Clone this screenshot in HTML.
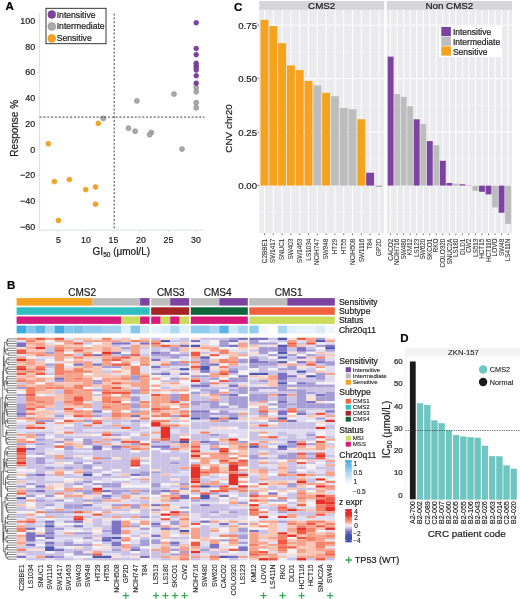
<!DOCTYPE html>
<html><head><meta charset="utf-8"><style>
html,body{margin:0;padding:0;background:#fff;}
body{width:520px;height:599px;overflow:hidden;}
svg{display:block;will-change:transform;filter:blur(0.3px);font-family:"Liberation Sans",sans-serif;}
</style></head><body>
<svg width="520" height="599" viewBox="0 0 520 599">
<text x="5.50" y="10.40" font-size="11.5" text-anchor="start" fill="#000" stroke="#000" stroke-width="0.22" font-weight="bold">A</text>
<line x1="39.60" y1="13.00" x2="39.60" y2="230.20" stroke="#dcdde6" stroke-width="1"/>
<line x1="39.60" y1="230.20" x2="204.50" y2="230.20" stroke="#dcdde6" stroke-width="1"/>
<text x="35.10" y="23.95" font-size="8.9" text-anchor="end" fill="#1e1e1e" stroke="#1e1e1e" stroke-width="0.22">100</text>
<line x1="37.50" y1="20.85" x2="39.60" y2="20.85" stroke="#dcdde6" stroke-width="0.8"/>
<text x="35.10" y="49.70" font-size="8.9" text-anchor="end" fill="#1e1e1e" stroke="#1e1e1e" stroke-width="0.22">80</text>
<line x1="37.50" y1="46.60" x2="39.60" y2="46.60" stroke="#dcdde6" stroke-width="0.8"/>
<text x="35.10" y="75.45" font-size="8.9" text-anchor="end" fill="#1e1e1e" stroke="#1e1e1e" stroke-width="0.22">60</text>
<line x1="37.50" y1="72.35" x2="39.60" y2="72.35" stroke="#dcdde6" stroke-width="0.8"/>
<text x="35.10" y="101.20" font-size="8.9" text-anchor="end" fill="#1e1e1e" stroke="#1e1e1e" stroke-width="0.22">40</text>
<line x1="37.50" y1="98.10" x2="39.60" y2="98.10" stroke="#dcdde6" stroke-width="0.8"/>
<text x="35.10" y="126.95" font-size="8.9" text-anchor="end" fill="#1e1e1e" stroke="#1e1e1e" stroke-width="0.22">20</text>
<line x1="37.50" y1="123.85" x2="39.60" y2="123.85" stroke="#dcdde6" stroke-width="0.8"/>
<text x="35.10" y="152.70" font-size="8.9" text-anchor="end" fill="#1e1e1e" stroke="#1e1e1e" stroke-width="0.22">0</text>
<line x1="37.50" y1="149.60" x2="39.60" y2="149.60" stroke="#dcdde6" stroke-width="0.8"/>
<text x="35.10" y="178.45" font-size="8.9" text-anchor="end" fill="#1e1e1e" stroke="#1e1e1e" stroke-width="0.22">&#8722;20</text>
<line x1="37.50" y1="175.35" x2="39.60" y2="175.35" stroke="#dcdde6" stroke-width="0.8"/>
<text x="35.10" y="204.20" font-size="8.9" text-anchor="end" fill="#1e1e1e" stroke="#1e1e1e" stroke-width="0.22">&#8722;40</text>
<line x1="37.50" y1="201.10" x2="39.60" y2="201.10" stroke="#dcdde6" stroke-width="0.8"/>
<text x="35.10" y="229.95" font-size="8.9" text-anchor="end" fill="#1e1e1e" stroke="#1e1e1e" stroke-width="0.22">&#8722;60</text>
<line x1="37.50" y1="226.85" x2="39.60" y2="226.85" stroke="#dcdde6" stroke-width="0.8"/>
<text x="58.50" y="242.90" font-size="8.8" text-anchor="middle" fill="#1e1e1e" stroke="#1e1e1e" stroke-width="0.22">5</text>
<line x1="58.50" y1="230.20" x2="58.50" y2="232.20" stroke="#dcdde6" stroke-width="0.8"/>
<text x="86.00" y="242.90" font-size="8.8" text-anchor="middle" fill="#1e1e1e" stroke="#1e1e1e" stroke-width="0.22">10</text>
<line x1="86.00" y1="230.20" x2="86.00" y2="232.20" stroke="#dcdde6" stroke-width="0.8"/>
<text x="113.50" y="242.90" font-size="8.8" text-anchor="middle" fill="#1e1e1e" stroke="#1e1e1e" stroke-width="0.22">15</text>
<line x1="113.50" y1="230.20" x2="113.50" y2="232.20" stroke="#dcdde6" stroke-width="0.8"/>
<text x="141.00" y="242.90" font-size="8.8" text-anchor="middle" fill="#1e1e1e" stroke="#1e1e1e" stroke-width="0.22">20</text>
<line x1="141.00" y1="230.20" x2="141.00" y2="232.20" stroke="#dcdde6" stroke-width="0.8"/>
<text x="168.50" y="242.90" font-size="8.8" text-anchor="middle" fill="#1e1e1e" stroke="#1e1e1e" stroke-width="0.22">25</text>
<line x1="168.50" y1="230.20" x2="168.50" y2="232.20" stroke="#dcdde6" stroke-width="0.8"/>
<text x="196.00" y="242.90" font-size="8.8" text-anchor="middle" fill="#1e1e1e" stroke="#1e1e1e" stroke-width="0.22">30</text>
<line x1="196.00" y1="230.20" x2="196.00" y2="232.20" stroke="#dcdde6" stroke-width="0.8"/>
<text x="17.90" y="128.30" font-size="10.0" text-anchor="middle" fill="#1e1e1e" stroke="#1e1e1e" stroke-width="0.22" transform="rotate(-90 17.9 128.3)">Response %</text>
<text x="92.6" y="254.9" font-size="10" fill="#1e1e1e" stroke="#1e1e1e" stroke-width="0.22">GI<tspan font-size="6.5" dy="2">50</tspan><tspan dy="-2"> (μmol/L)</tspan></text>
<circle cx="103.30" cy="118.40" r="2.45" fill="#ababab" stroke="#858585" stroke-width="0.7"/>
<circle cx="128.50" cy="128.20" r="2.45" fill="#ababab" stroke="#858585" stroke-width="0.7"/>
<circle cx="135.10" cy="131.30" r="2.45" fill="#ababab" stroke="#858585" stroke-width="0.7"/>
<circle cx="151.30" cy="132.50" r="2.45" fill="#ababab" stroke="#858585" stroke-width="0.7"/>
<circle cx="149.60" cy="134.70" r="2.45" fill="#ababab" stroke="#858585" stroke-width="0.7"/>
<circle cx="182.00" cy="149.10" r="2.45" fill="#ababab" stroke="#858585" stroke-width="0.7"/>
<circle cx="136.90" cy="100.90" r="2.45" fill="#ababab" stroke="#858585" stroke-width="0.7"/>
<circle cx="174.00" cy="94.10" r="2.45" fill="#ababab" stroke="#858585" stroke-width="0.7"/>
<circle cx="196.20" cy="87.60" r="2.45" fill="#ababab" stroke="#858585" stroke-width="0.7"/>
<circle cx="196.20" cy="91.80" r="2.45" fill="#ababab" stroke="#858585" stroke-width="0.7"/>
<circle cx="196.20" cy="102.70" r="2.45" fill="#ababab" stroke="#858585" stroke-width="0.7"/>
<circle cx="196.20" cy="107.70" r="2.45" fill="#ababab" stroke="#858585" stroke-width="0.7"/>
<circle cx="98.30" cy="123.40" r="2.45" fill="#f6a423" stroke="#d98500" stroke-width="0.5"/>
<circle cx="48.40" cy="143.70" r="2.45" fill="#f6a423" stroke="#d98500" stroke-width="0.5"/>
<circle cx="54.40" cy="181.60" r="2.45" fill="#f6a423" stroke="#d98500" stroke-width="0.5"/>
<circle cx="69.30" cy="179.60" r="2.45" fill="#f6a423" stroke="#d98500" stroke-width="0.5"/>
<circle cx="85.70" cy="189.60" r="2.45" fill="#f6a423" stroke="#d98500" stroke-width="0.5"/>
<circle cx="95.50" cy="187.00" r="2.45" fill="#f6a423" stroke="#d98500" stroke-width="0.5"/>
<circle cx="95.50" cy="204.20" r="2.45" fill="#f6a423" stroke="#d98500" stroke-width="0.5"/>
<circle cx="58.40" cy="220.50" r="2.45" fill="#f6a423" stroke="#d98500" stroke-width="0.5"/>
<circle cx="196.20" cy="22.80" r="2.45" fill="#7d43a0" stroke="#6c3290" stroke-width="0.5"/>
<circle cx="196.20" cy="48.50" r="2.45" fill="#7d43a0" stroke="#6c3290" stroke-width="0.5"/>
<circle cx="196.20" cy="54.70" r="2.45" fill="#7d43a0" stroke="#6c3290" stroke-width="0.5"/>
<circle cx="196.20" cy="63.20" r="2.45" fill="#7d43a0" stroke="#6c3290" stroke-width="0.5"/>
<circle cx="196.20" cy="65.70" r="2.45" fill="#7d43a0" stroke="#6c3290" stroke-width="0.5"/>
<circle cx="196.20" cy="67.80" r="2.45" fill="#7d43a0" stroke="#6c3290" stroke-width="0.5"/>
<circle cx="196.20" cy="70.10" r="2.45" fill="#7d43a0" stroke="#6c3290" stroke-width="0.5"/>
<circle cx="196.20" cy="75.80" r="2.45" fill="#7d43a0" stroke="#6c3290" stroke-width="0.5"/>
<circle cx="196.20" cy="83.20" r="2.45" fill="#7d43a0" stroke="#6c3290" stroke-width="0.5"/>
<line x1="114.2" y1="13.5" x2="114.2" y2="230" stroke="#444" stroke-width="1.0" stroke-dasharray="2.1 1.7"/>
<line x1="39.6" y1="117.1" x2="204.5" y2="117.1" stroke="#444" stroke-width="1.0" stroke-dasharray="2.1 1.7"/>
<rect x="46.00" y="8.30" width="60.00" height="35.40" fill="#fff" stroke="#222" stroke-width="0.9"/>
<circle cx="51.80" cy="14.50" r="3.9" fill="#7d43a0" stroke="#6c3290" stroke-width="0.5"/>
<text x="56.70" y="17.50" font-size="8.65" text-anchor="start" fill="#1e1e1e" stroke="#1e1e1e" stroke-width="0.22">Intensitive</text>
<circle cx="51.80" cy="26.45" r="3.9" fill="#ababab" stroke="#858585" stroke-width="0.5"/>
<text x="56.70" y="29.45" font-size="8.65" text-anchor="start" fill="#1e1e1e" stroke="#1e1e1e" stroke-width="0.22">Intermediate</text>
<circle cx="51.80" cy="38.40" r="3.9" fill="#f6a423" stroke="#d98500" stroke-width="0.5"/>
<text x="56.70" y="41.40" font-size="8.65" text-anchor="start" fill="#1e1e1e" stroke="#1e1e1e" stroke-width="0.22">Sensitive</text>
<text x="234.00" y="10.60" font-size="11.5" text-anchor="start" fill="#000" stroke="#000" stroke-width="0.22" font-weight="bold">C</text>
<rect x="259.20" y="1.00" width="125.00" height="8.90" fill="#d6d6d8"/>
<text x="321.70" y="8.70" font-size="9.8" text-anchor="middle" fill="#1e1e1e" stroke="#1e1e1e" stroke-width="0.22">CMS2</text>
<rect x="259.20" y="9.90" width="125.00" height="223.40" fill="#ebebee"/>
<line x1="259.20" y1="158.86" x2="384.20" y2="158.86" stroke="#f6f6f7" stroke-width="0.5"/>
<line x1="259.20" y1="105.39" x2="384.20" y2="105.39" stroke="#f6f6f7" stroke-width="0.5"/>
<line x1="259.20" y1="51.91" x2="384.20" y2="51.91" stroke="#f6f6f7" stroke-width="0.5"/>
<line x1="259.20" y1="212.34" x2="384.20" y2="212.34" stroke="#f6f6f7" stroke-width="0.5"/>
<line x1="259.20" y1="185.60" x2="384.20" y2="185.60" stroke="#fff" stroke-width="1.0"/>
<line x1="259.20" y1="132.12" x2="384.20" y2="132.12" stroke="#fff" stroke-width="1.0"/>
<line x1="259.20" y1="78.65" x2="384.20" y2="78.65" stroke="#fff" stroke-width="1.0"/>
<line x1="259.20" y1="25.17" x2="384.20" y2="25.17" stroke="#fff" stroke-width="1.0"/>
<line x1="264.48" y1="9.90" x2="264.48" y2="233.30" stroke="#fff" stroke-width="1.0"/>
<line x1="273.28" y1="9.90" x2="273.28" y2="233.30" stroke="#fff" stroke-width="1.0"/>
<line x1="282.09" y1="9.90" x2="282.09" y2="233.30" stroke="#fff" stroke-width="1.0"/>
<line x1="290.89" y1="9.90" x2="290.89" y2="233.30" stroke="#fff" stroke-width="1.0"/>
<line x1="299.69" y1="9.90" x2="299.69" y2="233.30" stroke="#fff" stroke-width="1.0"/>
<line x1="308.50" y1="9.90" x2="308.50" y2="233.30" stroke="#fff" stroke-width="1.0"/>
<line x1="317.30" y1="9.90" x2="317.30" y2="233.30" stroke="#fff" stroke-width="1.0"/>
<line x1="326.10" y1="9.90" x2="326.10" y2="233.30" stroke="#fff" stroke-width="1.0"/>
<line x1="334.90" y1="9.90" x2="334.90" y2="233.30" stroke="#fff" stroke-width="1.0"/>
<line x1="343.71" y1="9.90" x2="343.71" y2="233.30" stroke="#fff" stroke-width="1.0"/>
<line x1="352.51" y1="9.90" x2="352.51" y2="233.30" stroke="#fff" stroke-width="1.0"/>
<line x1="361.31" y1="9.90" x2="361.31" y2="233.30" stroke="#fff" stroke-width="1.0"/>
<line x1="370.12" y1="9.90" x2="370.12" y2="233.30" stroke="#fff" stroke-width="1.0"/>
<line x1="378.92" y1="9.90" x2="378.92" y2="233.30" stroke="#fff" stroke-width="1.0"/>
<rect x="260.52" y="19.83" width="7.92" height="165.77" fill="#f5a21e"/>
<line x1="264.48" y1="233.50" x2="264.48" y2="235.10" stroke="#333" stroke-width="0.7"/>
<text x="266.68" y="238.60" font-size="6.4" text-anchor="end" fill="#333" stroke="#333" stroke-width="0.08" transform="rotate(-90 266.68169014084503 238.6)">C2BBE1</text>
<rect x="269.32" y="26.03" width="7.92" height="159.57" fill="#f5a21e"/>
<line x1="273.28" y1="233.50" x2="273.28" y2="235.10" stroke="#333" stroke-width="0.7"/>
<text x="275.48" y="238.60" font-size="6.4" text-anchor="end" fill="#333" stroke="#333" stroke-width="0.08" transform="rotate(-90 275.4845070422535 238.6)">SW1417</text>
<rect x="278.13" y="43.14" width="7.92" height="142.46" fill="#f5a21e"/>
<line x1="282.09" y1="233.50" x2="282.09" y2="235.10" stroke="#333" stroke-width="0.7"/>
<text x="284.29" y="238.60" font-size="6.4" text-anchor="end" fill="#333" stroke="#333" stroke-width="0.08" transform="rotate(-90 284.28732394366193 238.6)">SNUC1</text>
<rect x="286.93" y="65.39" width="7.92" height="120.21" fill="#f5a21e"/>
<line x1="290.89" y1="233.50" x2="290.89" y2="235.10" stroke="#333" stroke-width="0.7"/>
<text x="293.09" y="238.60" font-size="6.4" text-anchor="end" fill="#333" stroke="#333" stroke-width="0.08" transform="rotate(-90 293.0901408450704 238.6)">SW403</text>
<rect x="295.73" y="70.09" width="7.92" height="115.51" fill="#f5a21e"/>
<line x1="299.69" y1="233.50" x2="299.69" y2="235.10" stroke="#333" stroke-width="0.7"/>
<text x="301.89" y="238.60" font-size="6.4" text-anchor="end" fill="#333" stroke="#333" stroke-width="0.08" transform="rotate(-90 301.8929577464788 238.6)">SW1463</text>
<rect x="304.53" y="81.00" width="7.92" height="104.60" fill="#f5a21e"/>
<line x1="308.50" y1="233.50" x2="308.50" y2="235.10" stroke="#333" stroke-width="0.7"/>
<text x="310.70" y="238.60" font-size="6.4" text-anchor="end" fill="#333" stroke="#333" stroke-width="0.08" transform="rotate(-90 310.6957746478873 238.6)">LS1034</text>
<rect x="313.34" y="85.28" width="7.92" height="100.32" fill="#bdbdbd"/>
<line x1="317.30" y1="233.50" x2="317.30" y2="235.10" stroke="#333" stroke-width="0.7"/>
<text x="319.50" y="238.60" font-size="6.4" text-anchor="end" fill="#333" stroke="#333" stroke-width="0.08" transform="rotate(-90 319.4985915492958 238.6)">NCIH747</text>
<rect x="322.14" y="92.77" width="7.92" height="92.83" fill="#f5a21e"/>
<line x1="326.10" y1="233.50" x2="326.10" y2="235.10" stroke="#333" stroke-width="0.7"/>
<text x="328.30" y="238.60" font-size="6.4" text-anchor="end" fill="#333" stroke="#333" stroke-width="0.08" transform="rotate(-90 328.3014084507042 238.6)">SW948</text>
<rect x="330.94" y="96.19" width="7.92" height="89.41" fill="#bdbdbd"/>
<line x1="334.90" y1="233.50" x2="334.90" y2="235.10" stroke="#333" stroke-width="0.7"/>
<text x="337.10" y="238.60" font-size="6.4" text-anchor="end" fill="#333" stroke="#333" stroke-width="0.08" transform="rotate(-90 337.1042253521127 238.6)">HT29</text>
<rect x="339.75" y="107.95" width="7.92" height="77.65" fill="#bdbdbd"/>
<line x1="343.71" y1="233.50" x2="343.71" y2="235.10" stroke="#333" stroke-width="0.7"/>
<text x="345.91" y="238.60" font-size="6.4" text-anchor="end" fill="#333" stroke="#333" stroke-width="0.08" transform="rotate(-90 345.9070422535211 238.6)">HT55</text>
<rect x="348.55" y="109.24" width="7.92" height="76.36" fill="#bdbdbd"/>
<line x1="352.51" y1="233.50" x2="352.51" y2="235.10" stroke="#333" stroke-width="0.7"/>
<text x="354.71" y="238.60" font-size="6.4" text-anchor="end" fill="#333" stroke="#333" stroke-width="0.08" transform="rotate(-90 354.7098591549296 238.6)">NCIH508</text>
<rect x="357.35" y="119.29" width="7.92" height="66.31" fill="#f5a21e"/>
<line x1="361.31" y1="233.50" x2="361.31" y2="235.10" stroke="#333" stroke-width="0.7"/>
<text x="363.51" y="238.60" font-size="6.4" text-anchor="end" fill="#333" stroke="#333" stroke-width="0.08" transform="rotate(-90 363.512676056338 238.6)">SW1116</text>
<rect x="366.15" y="172.77" width="7.92" height="12.83" fill="#7d43a0"/>
<line x1="370.12" y1="233.50" x2="370.12" y2="235.10" stroke="#333" stroke-width="0.7"/>
<text x="372.32" y="238.60" font-size="6.4" text-anchor="end" fill="#333" stroke="#333" stroke-width="0.08" transform="rotate(-90 372.31549295774647 238.6)">T84</text>
<rect x="374.96" y="185.60" width="7.92" height="0.50" fill="#bdbdbd"/>
<line x1="375.46" y1="186.30" x2="382.38" y2="186.30" stroke="#8a8a8a" stroke-width="0.7"/>
<line x1="378.92" y1="233.50" x2="378.92" y2="235.10" stroke="#333" stroke-width="0.7"/>
<text x="381.12" y="238.60" font-size="6.4" text-anchor="end" fill="#333" stroke="#333" stroke-width="0.08" transform="rotate(-90 381.1183098591549 238.6)">GP2D</text>
<rect x="386.70" y="1.00" width="125.30" height="8.90" fill="#d6d6d8"/>
<text x="449.35" y="8.70" font-size="9.8" text-anchor="middle" fill="#1e1e1e" stroke="#1e1e1e" stroke-width="0.22">Non CMS2</text>
<rect x="386.70" y="9.90" width="125.30" height="223.40" fill="#ebebee"/>
<line x1="386.70" y1="158.86" x2="512.00" y2="158.86" stroke="#f6f6f7" stroke-width="0.5"/>
<line x1="386.70" y1="105.39" x2="512.00" y2="105.39" stroke="#f6f6f7" stroke-width="0.5"/>
<line x1="386.70" y1="51.91" x2="512.00" y2="51.91" stroke="#f6f6f7" stroke-width="0.5"/>
<line x1="386.70" y1="212.34" x2="512.00" y2="212.34" stroke="#f6f6f7" stroke-width="0.5"/>
<line x1="386.70" y1="185.60" x2="512.00" y2="185.60" stroke="#fff" stroke-width="1.0"/>
<line x1="386.70" y1="132.12" x2="512.00" y2="132.12" stroke="#fff" stroke-width="1.0"/>
<line x1="386.70" y1="78.65" x2="512.00" y2="78.65" stroke="#fff" stroke-width="1.0"/>
<line x1="386.70" y1="25.17" x2="512.00" y2="25.17" stroke="#fff" stroke-width="1.0"/>
<line x1="390.62" y1="9.90" x2="390.62" y2="233.30" stroke="#fff" stroke-width="1.0"/>
<line x1="397.14" y1="9.90" x2="397.14" y2="233.30" stroke="#fff" stroke-width="1.0"/>
<line x1="403.67" y1="9.90" x2="403.67" y2="233.30" stroke="#fff" stroke-width="1.0"/>
<line x1="410.19" y1="9.90" x2="410.19" y2="233.30" stroke="#fff" stroke-width="1.0"/>
<line x1="416.72" y1="9.90" x2="416.72" y2="233.30" stroke="#fff" stroke-width="1.0"/>
<line x1="423.25" y1="9.90" x2="423.25" y2="233.30" stroke="#fff" stroke-width="1.0"/>
<line x1="429.77" y1="9.90" x2="429.77" y2="233.30" stroke="#fff" stroke-width="1.0"/>
<line x1="436.30" y1="9.90" x2="436.30" y2="233.30" stroke="#fff" stroke-width="1.0"/>
<line x1="442.82" y1="9.90" x2="442.82" y2="233.30" stroke="#fff" stroke-width="1.0"/>
<line x1="449.35" y1="9.90" x2="449.35" y2="233.30" stroke="#fff" stroke-width="1.0"/>
<line x1="455.88" y1="9.90" x2="455.88" y2="233.30" stroke="#fff" stroke-width="1.0"/>
<line x1="462.40" y1="9.90" x2="462.40" y2="233.30" stroke="#fff" stroke-width="1.0"/>
<line x1="468.93" y1="9.90" x2="468.93" y2="233.30" stroke="#fff" stroke-width="1.0"/>
<line x1="475.45" y1="9.90" x2="475.45" y2="233.30" stroke="#fff" stroke-width="1.0"/>
<line x1="481.98" y1="9.90" x2="481.98" y2="233.30" stroke="#fff" stroke-width="1.0"/>
<line x1="488.51" y1="9.90" x2="488.51" y2="233.30" stroke="#fff" stroke-width="1.0"/>
<line x1="495.03" y1="9.90" x2="495.03" y2="233.30" stroke="#fff" stroke-width="1.0"/>
<line x1="501.56" y1="9.90" x2="501.56" y2="233.30" stroke="#fff" stroke-width="1.0"/>
<line x1="508.08" y1="9.90" x2="508.08" y2="233.30" stroke="#fff" stroke-width="1.0"/>
<rect x="387.68" y="56.62" width="5.87" height="128.98" fill="#7d43a0"/>
<line x1="390.62" y1="233.50" x2="390.62" y2="235.10" stroke="#333" stroke-width="0.7"/>
<text x="392.82" y="238.60" font-size="6.4" text-anchor="end" fill="#333" stroke="#333" stroke-width="0.08" transform="rotate(-90 392.81562499999995 238.6)">CACO2</text>
<rect x="394.20" y="94.05" width="5.87" height="91.55" fill="#bdbdbd"/>
<line x1="397.14" y1="233.50" x2="397.14" y2="235.10" stroke="#333" stroke-width="0.7"/>
<text x="399.34" y="238.60" font-size="6.4" text-anchor="end" fill="#333" stroke="#333" stroke-width="0.08" transform="rotate(-90 399.34166666666664 238.6)">NCIH716</text>
<rect x="400.73" y="96.83" width="5.87" height="88.77" fill="#bdbdbd"/>
<line x1="403.67" y1="233.50" x2="403.67" y2="235.10" stroke="#333" stroke-width="0.7"/>
<text x="405.87" y="238.60" font-size="6.4" text-anchor="end" fill="#333" stroke="#333" stroke-width="0.08" transform="rotate(-90 405.8677083333333 238.6)">SW480</text>
<rect x="407.26" y="106.24" width="5.87" height="79.36" fill="#bdbdbd"/>
<line x1="410.19" y1="233.50" x2="410.19" y2="235.10" stroke="#333" stroke-width="0.7"/>
<text x="412.39" y="238.60" font-size="6.4" text-anchor="end" fill="#333" stroke="#333" stroke-width="0.08" transform="rotate(-90 412.39375 238.6)">KM12</text>
<rect x="413.78" y="119.29" width="5.87" height="66.31" fill="#7d43a0"/>
<line x1="416.72" y1="233.50" x2="416.72" y2="235.10" stroke="#333" stroke-width="0.7"/>
<text x="418.92" y="238.60" font-size="6.4" text-anchor="end" fill="#333" stroke="#333" stroke-width="0.08" transform="rotate(-90 418.91979166666664 238.6)">LS123</text>
<rect x="420.31" y="124.00" width="5.87" height="61.60" fill="#bdbdbd"/>
<line x1="423.25" y1="233.50" x2="423.25" y2="235.10" stroke="#333" stroke-width="0.7"/>
<text x="425.45" y="238.60" font-size="6.4" text-anchor="end" fill="#333" stroke="#333" stroke-width="0.08" transform="rotate(-90 425.4458333333333 238.6)">SW620</text>
<rect x="426.84" y="141.11" width="5.87" height="44.49" fill="#7d43a0"/>
<line x1="429.77" y1="233.50" x2="429.77" y2="235.10" stroke="#333" stroke-width="0.7"/>
<text x="431.97" y="238.60" font-size="6.4" text-anchor="end" fill="#333" stroke="#333" stroke-width="0.08" transform="rotate(-90 431.971875 238.6)">SKCO1</text>
<rect x="433.36" y="145.17" width="5.87" height="40.43" fill="#bdbdbd"/>
<line x1="436.30" y1="233.50" x2="436.30" y2="235.10" stroke="#333" stroke-width="0.7"/>
<text x="438.50" y="238.60" font-size="6.4" text-anchor="end" fill="#333" stroke="#333" stroke-width="0.08" transform="rotate(-90 438.49791666666664 238.6)">RKO</text>
<rect x="439.89" y="160.79" width="5.87" height="24.81" fill="#7d43a0"/>
<line x1="442.82" y1="233.50" x2="442.82" y2="235.10" stroke="#333" stroke-width="0.7"/>
<text x="445.02" y="238.60" font-size="6.4" text-anchor="end" fill="#333" stroke="#333" stroke-width="0.08" transform="rotate(-90 445.0239583333333 238.6)">COLO320</text>
<rect x="446.41" y="183.03" width="5.87" height="2.57" fill="#7d43a0"/>
<line x1="449.35" y1="233.50" x2="449.35" y2="235.10" stroke="#333" stroke-width="0.7"/>
<text x="451.55" y="238.60" font-size="6.4" text-anchor="end" fill="#333" stroke="#333" stroke-width="0.08" transform="rotate(-90 451.55 238.6)">SNUC2A</text>
<rect x="452.94" y="183.67" width="5.87" height="1.93" fill="#bdbdbd"/>
<line x1="455.88" y1="233.50" x2="455.88" y2="235.10" stroke="#333" stroke-width="0.7"/>
<text x="458.08" y="238.60" font-size="6.4" text-anchor="end" fill="#333" stroke="#333" stroke-width="0.08" transform="rotate(-90 458.07604166666664 238.6)">LS180</text>
<rect x="459.47" y="184.32" width="5.87" height="1.28" fill="#7d43a0"/>
<line x1="462.40" y1="233.50" x2="462.40" y2="235.10" stroke="#333" stroke-width="0.7"/>
<text x="464.60" y="238.60" font-size="6.4" text-anchor="end" fill="#333" stroke="#333" stroke-width="0.08" transform="rotate(-90 464.6020833333333 238.6)">DLD1</text>
<rect x="465.99" y="185.17" width="5.87" height="0.50" fill="#b89acb"/>
<line x1="468.93" y1="233.50" x2="468.93" y2="235.10" stroke="#333" stroke-width="0.7"/>
<text x="471.13" y="238.60" font-size="6.4" text-anchor="end" fill="#333" stroke="#333" stroke-width="0.08" transform="rotate(-90 471.128125 238.6)">CW2</text>
<rect x="472.52" y="185.60" width="5.87" height="5.13" fill="#bdbdbd"/>
<line x1="475.45" y1="233.50" x2="475.45" y2="235.10" stroke="#333" stroke-width="0.7"/>
<text x="477.65" y="238.60" font-size="6.4" text-anchor="end" fill="#333" stroke="#333" stroke-width="0.08" transform="rotate(-90 477.65416666666664 238.6)">LS513</text>
<rect x="479.04" y="185.60" width="5.87" height="6.20" fill="#7d43a0"/>
<line x1="481.98" y1="233.50" x2="481.98" y2="235.10" stroke="#333" stroke-width="0.7"/>
<text x="484.18" y="238.60" font-size="6.4" text-anchor="end" fill="#333" stroke="#333" stroke-width="0.08" transform="rotate(-90 484.1802083333333 238.6)">HCT15</text>
<rect x="485.57" y="185.60" width="5.87" height="8.77" fill="#7d43a0"/>
<line x1="488.51" y1="233.50" x2="488.51" y2="235.10" stroke="#333" stroke-width="0.7"/>
<text x="490.71" y="238.60" font-size="6.4" text-anchor="end" fill="#333" stroke="#333" stroke-width="0.08" transform="rotate(-90 490.70625 238.6)">HCT116</text>
<rect x="492.10" y="185.60" width="5.87" height="21.82" fill="#bdbdbd"/>
<line x1="495.03" y1="233.50" x2="495.03" y2="235.10" stroke="#333" stroke-width="0.7"/>
<text x="497.23" y="238.60" font-size="6.4" text-anchor="end" fill="#333" stroke="#333" stroke-width="0.08" transform="rotate(-90 497.23229166666664 238.6)">LOVO</text>
<rect x="498.62" y="185.60" width="5.87" height="27.17" fill="#7d43a0"/>
<line x1="501.56" y1="233.50" x2="501.56" y2="235.10" stroke="#333" stroke-width="0.7"/>
<text x="503.76" y="238.60" font-size="6.4" text-anchor="end" fill="#333" stroke="#333" stroke-width="0.08" transform="rotate(-90 503.7583333333333 238.6)">SW48</text>
<rect x="505.15" y="185.60" width="5.87" height="38.29" fill="#bdbdbd"/>
<line x1="508.08" y1="233.50" x2="508.08" y2="235.10" stroke="#333" stroke-width="0.7"/>
<text x="510.28" y="238.60" font-size="6.4" text-anchor="end" fill="#333" stroke="#333" stroke-width="0.08" transform="rotate(-90 510.284375 238.6)">LS411N</text>
<text x="257.00" y="28.57" font-size="9.6" text-anchor="end" fill="#1e1e1e" stroke="#1e1e1e" stroke-width="0.22">0.75</text>
<line x1="257.50" y1="25.17" x2="259.20" y2="25.17" stroke="#333" stroke-width="0.7"/>
<text x="257.00" y="82.05" font-size="9.6" text-anchor="end" fill="#1e1e1e" stroke="#1e1e1e" stroke-width="0.22">0.50</text>
<line x1="257.50" y1="78.65" x2="259.20" y2="78.65" stroke="#333" stroke-width="0.7"/>
<text x="257.00" y="135.53" font-size="9.6" text-anchor="end" fill="#1e1e1e" stroke="#1e1e1e" stroke-width="0.22">0.25</text>
<line x1="257.50" y1="132.12" x2="259.20" y2="132.12" stroke="#333" stroke-width="0.7"/>
<text x="257.00" y="189.00" font-size="9.6" text-anchor="end" fill="#1e1e1e" stroke="#1e1e1e" stroke-width="0.22">0.00</text>
<line x1="257.50" y1="185.60" x2="259.20" y2="185.60" stroke="#333" stroke-width="0.7"/>
<text x="232.20" y="128.50" font-size="9.9" text-anchor="middle" fill="#1e1e1e" stroke="#1e1e1e" stroke-width="0.22" transform="rotate(-90 232.2 128.5)">CNV chr20</text>
<rect x="439.20" y="25.70" width="61.80" height="31.40" fill="#fff"/>
<rect x="441.30" y="26.90" width="9.60" height="9.20" fill="#7d43a0"/>
<text x="452.90" y="35.00" font-size="8.5" text-anchor="start" fill="#1e1e1e" stroke="#1e1e1e" stroke-width="0.22">Intensitive</text>
<rect x="441.30" y="36.65" width="9.60" height="9.20" fill="#bdbdbd"/>
<text x="452.90" y="44.75" font-size="8.5" text-anchor="start" fill="#1e1e1e" stroke="#1e1e1e" stroke-width="0.22">Intermediate</text>
<rect x="441.30" y="46.40" width="9.60" height="9.20" fill="#f5a21e"/>
<text x="452.90" y="54.50" font-size="8.5" text-anchor="start" fill="#1e1e1e" stroke="#1e1e1e" stroke-width="0.22">Sensitive</text>
<text x="400.30" y="341.60" font-size="11.5" text-anchor="start" fill="#000" stroke="#000" stroke-width="0.22" font-weight="bold">D</text>
<rect x="405.10" y="347.90" width="115.00" height="8.40" fill="#f3f3f4"/>
<line x1="405.60" y1="356.30" x2="405.60" y2="499.50" stroke="#f3f3f3" stroke-width="0.8"/>
<text x="463.50" y="355.20" font-size="7.7" text-anchor="middle" fill="#1e1e1e" stroke="#1e1e1e" stroke-width="0.1">ZKN-157</text>
<text x="402.70" y="364.10" font-size="7.8" text-anchor="end" fill="#1e1e1e" stroke="#1e1e1e" stroke-width="0.22">60</text>
<text x="402.70" y="386.35" font-size="7.8" text-anchor="end" fill="#1e1e1e" stroke="#1e1e1e" stroke-width="0.22">50</text>
<text x="402.70" y="408.60" font-size="7.8" text-anchor="end" fill="#1e1e1e" stroke="#1e1e1e" stroke-width="0.22">40</text>
<text x="402.70" y="430.85" font-size="7.8" text-anchor="end" fill="#1e1e1e" stroke="#1e1e1e" stroke-width="0.22">30</text>
<text x="402.70" y="453.10" font-size="7.8" text-anchor="end" fill="#1e1e1e" stroke="#1e1e1e" stroke-width="0.22">20</text>
<text x="402.70" y="475.35" font-size="7.8" text-anchor="end" fill="#1e1e1e" stroke="#1e1e1e" stroke-width="0.22">10</text>
<text x="402.70" y="497.60" font-size="7.8" text-anchor="end" fill="#1e1e1e" stroke="#1e1e1e" stroke-width="0.22">0</text>
<text x="389.60" y="429.50" font-size="10.0" text-anchor="middle" fill="#1e1e1e" stroke="#1e1e1e" stroke-width="0.22" transform="rotate(-90 389.6 429.5)">IC<tspan font-size="7" dy="2">50</tspan><tspan dy="-2"> (μmol/L)</tspan></text>
<rect x="409.90" y="361.48" width="5.80" height="137.82" fill="#1b1b1b"/>
<text x="415.20" y="501.20" font-size="7.1" text-anchor="end" fill="#222" stroke="#222" stroke-width="0.16" transform="rotate(-90 415.2 501.2)">A2-700</text>
<rect x="417.11" y="403.52" width="5.80" height="95.78" fill="#6ec6c2" stroke="#5fbab6" stroke-width="0.4"/>
<text x="422.41" y="501.20" font-size="7.1" text-anchor="end" fill="#222" stroke="#222" stroke-width="0.16" transform="rotate(-90 422.414 501.2)">B2-002</text>
<rect x="424.33" y="405.12" width="5.80" height="94.18" fill="#6ec6c2" stroke="#5fbab6" stroke-width="0.4"/>
<text x="429.63" y="501.20" font-size="7.1" text-anchor="end" fill="#222" stroke="#222" stroke-width="0.16" transform="rotate(-90 429.628 501.2)">C2-089</text>
<rect x="431.54" y="420.74" width="5.80" height="78.56" fill="#6ec6c2" stroke="#5fbab6" stroke-width="0.4"/>
<text x="436.84" y="501.20" font-size="7.1" text-anchor="end" fill="#222" stroke="#222" stroke-width="0.16" transform="rotate(-90 436.842 501.2)">C2-000</text>
<rect x="438.76" y="423.50" width="5.80" height="75.80" fill="#6ec6c2" stroke="#5fbab6" stroke-width="0.4"/>
<text x="444.06" y="501.20" font-size="7.1" text-anchor="end" fill="#222" stroke="#222" stroke-width="0.16" transform="rotate(-90 444.056 501.2)">B2-007</text>
<rect x="445.97" y="430.39" width="5.80" height="68.91" fill="#6ec6c2" stroke="#5fbab6" stroke-width="0.4"/>
<text x="451.27" y="501.20" font-size="7.1" text-anchor="end" fill="#222" stroke="#222" stroke-width="0.16" transform="rotate(-90 451.27 501.2)">B2-060</text>
<rect x="453.18" y="435.21" width="5.80" height="64.09" fill="#6ec6c2" stroke="#5fbab6" stroke-width="0.4"/>
<text x="458.48" y="501.20" font-size="7.1" text-anchor="end" fill="#222" stroke="#222" stroke-width="0.16" transform="rotate(-90 458.484 501.2)">B2-005</text>
<rect x="460.40" y="436.82" width="5.80" height="62.48" fill="#6ec6c2" stroke="#5fbab6" stroke-width="0.4"/>
<text x="465.70" y="501.20" font-size="7.1" text-anchor="end" fill="#222" stroke="#222" stroke-width="0.16" transform="rotate(-90 465.698 501.2)">B2-055</text>
<rect x="467.61" y="437.51" width="5.80" height="61.79" fill="#6ec6c2" stroke="#5fbab6" stroke-width="0.4"/>
<text x="472.91" y="501.20" font-size="7.1" text-anchor="end" fill="#222" stroke="#222" stroke-width="0.16" transform="rotate(-90 472.912 501.2)">B2-106</text>
<rect x="474.83" y="437.97" width="5.80" height="61.33" fill="#6ec6c2" stroke="#5fbab6" stroke-width="0.4"/>
<text x="480.13" y="501.20" font-size="7.1" text-anchor="end" fill="#222" stroke="#222" stroke-width="0.16" transform="rotate(-90 480.126 501.2)">B2-043</text>
<rect x="482.04" y="446.01" width="5.80" height="53.29" fill="#6ec6c2" stroke="#5fbab6" stroke-width="0.4"/>
<text x="487.34" y="501.20" font-size="7.1" text-anchor="end" fill="#222" stroke="#222" stroke-width="0.16" transform="rotate(-90 487.34 501.2)">B2-026</text>
<rect x="489.25" y="456.35" width="5.80" height="42.95" fill="#6ec6c2" stroke="#5fbab6" stroke-width="0.4"/>
<text x="494.55" y="501.20" font-size="7.1" text-anchor="end" fill="#222" stroke="#222" stroke-width="0.16" transform="rotate(-90 494.554 501.2)">B2-063</text>
<rect x="496.47" y="456.58" width="5.80" height="42.72" fill="#6ec6c2" stroke="#5fbab6" stroke-width="0.4"/>
<text x="501.77" y="501.20" font-size="7.1" text-anchor="end" fill="#222" stroke="#222" stroke-width="0.16" transform="rotate(-90 501.76800000000003 501.2)">B2-014</text>
<rect x="503.68" y="465.76" width="5.80" height="33.54" fill="#6ec6c2" stroke="#5fbab6" stroke-width="0.4"/>
<text x="508.98" y="501.20" font-size="7.1" text-anchor="end" fill="#222" stroke="#222" stroke-width="0.16" transform="rotate(-90 508.98199999999997 501.2)">C2-065</text>
<rect x="510.90" y="468.98" width="5.80" height="30.32" fill="#6ec6c2" stroke="#5fbab6" stroke-width="0.4"/>
<text x="516.20" y="501.20" font-size="7.1" text-anchor="end" fill="#222" stroke="#222" stroke-width="0.16" transform="rotate(-90 516.196 501.2)">B2-020</text>
<line x1="405.5" y1="430.5" x2="520" y2="430.5" stroke="#333" stroke-width="0.7" stroke-dasharray="1.3 1.1"/>
<text x="466.70" y="537.30" font-size="9.9" text-anchor="middle" fill="#1e1e1e" stroke="#1e1e1e" stroke-width="0.22">CRC patient code</text>
<circle cx="483.10" cy="369.50" r="4.2" fill="#6ec6c2" stroke="none" stroke-width="0.6"/>
<circle cx="483.10" cy="382.00" r="4.2" fill="#1b1b1b" stroke="none" stroke-width="0.6"/>
<text x="489.80" y="372.20" font-size="7.3" text-anchor="start" fill="#1e1e1e" stroke="#1e1e1e" stroke-width="0.12">CMS2</text>
<text x="489.80" y="384.70" font-size="7.3" text-anchor="start" fill="#1e1e1e" stroke="#1e1e1e" stroke-width="0.12">Normal</text>
<text x="7.00" y="289.30" font-size="11.5" text-anchor="start" fill="#000" stroke="#000" stroke-width="0.22" font-weight="bold">B</text>
<text x="82.10" y="295.50" font-size="10.0" text-anchor="middle" fill="#1e1e1e" stroke="#1e1e1e" stroke-width="0.22">CMS2</text>
<rect x="16.60" y="298.10" width="76.00" height="7.50" fill="#f5a21e"/>
<rect x="92.60" y="298.10" width="47.50" height="7.50" fill="#bdbdbd"/>
<rect x="140.10" y="298.10" width="9.50" height="7.50" fill="#7d43a0"/>
<rect x="16.60" y="307.30" width="133.00" height="7.50" fill="#2fbfc1"/>
<rect x="16.60" y="316.50" width="104.50" height="7.40" fill="#d71b7b"/>
<rect x="121.10" y="316.50" width="19.00" height="7.40" fill="#c9dc5c"/>
<rect x="140.10" y="316.50" width="9.50" height="7.40" fill="#d71b7b"/>
<rect x="16.60" y="325.60" width="9.50" height="7.80" fill="#3ea9dd"/>
<rect x="26.10" y="325.60" width="9.50" height="7.80" fill="#86c6ea"/>
<rect x="35.60" y="325.60" width="9.50" height="7.80" fill="#5fb5e3"/>
<rect x="45.10" y="325.60" width="9.50" height="7.80" fill="#a9d7f1"/>
<rect x="54.60" y="325.60" width="9.50" height="7.80" fill="#45abdf"/>
<rect x="64.10" y="325.60" width="9.50" height="7.80" fill="#86c6ea"/>
<rect x="73.60" y="325.60" width="9.50" height="7.80" fill="#7fc3e9"/>
<rect x="83.10" y="325.60" width="19.00" height="7.80" fill="#94cdee"/>
<rect x="102.10" y="325.60" width="19.00" height="7.80" fill="#a2d3ef"/>
<rect x="121.10" y="325.60" width="9.50" height="7.80" fill="#dceefa"/>
<rect x="130.60" y="325.60" width="9.50" height="7.80" fill="#86c6ea"/>
<rect x="140.10" y="325.60" width="9.50" height="7.80" fill="#d3e9f7"/>
<text x="23.75" y="564.40" font-size="6.9" text-anchor="end" fill="#2a2a2a" stroke="#2a2a2a" stroke-width="0.12" transform="rotate(-90 23.75 564.4)">C2BBE1</text>
<text x="33.25" y="564.40" font-size="6.9" text-anchor="end" fill="#2a2a2a" stroke="#2a2a2a" stroke-width="0.12" transform="rotate(-90 33.25 564.4)">LS1034</text>
<text x="42.75" y="564.40" font-size="6.9" text-anchor="end" fill="#2a2a2a" stroke="#2a2a2a" stroke-width="0.12" transform="rotate(-90 42.75 564.4)">SNUC1</text>
<text x="52.25" y="564.40" font-size="6.9" text-anchor="end" fill="#2a2a2a" stroke="#2a2a2a" stroke-width="0.12" transform="rotate(-90 52.25 564.4)">SW1116</text>
<text x="61.75" y="564.40" font-size="6.9" text-anchor="end" fill="#2a2a2a" stroke="#2a2a2a" stroke-width="0.12" transform="rotate(-90 61.75 564.4)">SW1417</text>
<text x="71.25" y="564.40" font-size="6.9" text-anchor="end" fill="#2a2a2a" stroke="#2a2a2a" stroke-width="0.12" transform="rotate(-90 71.25 564.4)">SW1463</text>
<text x="80.75" y="564.40" font-size="6.9" text-anchor="end" fill="#2a2a2a" stroke="#2a2a2a" stroke-width="0.12" transform="rotate(-90 80.75 564.4)">SW403</text>
<text x="90.25" y="564.40" font-size="6.9" text-anchor="end" fill="#2a2a2a" stroke="#2a2a2a" stroke-width="0.12" transform="rotate(-90 90.25 564.4)">SW948</text>
<text x="99.75" y="564.40" font-size="6.9" text-anchor="end" fill="#2a2a2a" stroke="#2a2a2a" stroke-width="0.12" transform="rotate(-90 99.75 564.4)">HT29</text>
<text x="109.25" y="564.40" font-size="6.9" text-anchor="end" fill="#2a2a2a" stroke="#2a2a2a" stroke-width="0.12" transform="rotate(-90 109.25 564.4)">HT55</text>
<text x="118.75" y="564.40" font-size="6.9" text-anchor="end" fill="#2a2a2a" stroke="#2a2a2a" stroke-width="0.12" transform="rotate(-90 118.75 564.4)">NCIH508</text>
<text x="128.25" y="564.40" font-size="6.9" text-anchor="end" fill="#2a2a2a" stroke="#2a2a2a" stroke-width="0.12" transform="rotate(-90 128.25 564.4)">GP2D</text>
<path d="M122.75 595.6h6.2M125.85 592.5v6.2" stroke="#34a853" stroke-width="1.25" fill="none"/>
<text x="137.75" y="564.40" font-size="6.9" text-anchor="end" fill="#2a2a2a" stroke="#2a2a2a" stroke-width="0.12" transform="rotate(-90 137.75 564.4)">NCIH747</text>
<text x="147.25" y="564.40" font-size="6.9" text-anchor="end" fill="#2a2a2a" stroke="#2a2a2a" stroke-width="0.12" transform="rotate(-90 147.25 564.4)">T84</text>
<text x="170.80" y="295.50" font-size="10.0" text-anchor="middle" fill="#1e1e1e" stroke="#1e1e1e" stroke-width="0.22">CMS3</text>
<rect x="151.20" y="298.10" width="19.00" height="7.50" fill="#bdbdbd"/>
<rect x="170.20" y="298.10" width="19.00" height="7.50" fill="#7d43a0"/>
<rect x="151.20" y="307.30" width="38.00" height="7.50" fill="#a52424"/>
<rect x="151.20" y="316.50" width="9.50" height="7.40" fill="#d71b7b"/>
<rect x="160.70" y="316.50" width="9.50" height="7.40" fill="#c9dc5c"/>
<rect x="170.20" y="316.50" width="9.50" height="7.40" fill="#d71b7b"/>
<rect x="179.70" y="316.50" width="9.50" height="7.40" fill="#c9dc5c"/>
<rect x="151.20" y="325.60" width="9.50" height="7.80" fill="#e3f1fb"/>
<rect x="160.70" y="325.60" width="9.50" height="7.80" fill="#d9ecf8"/>
<rect x="170.20" y="325.60" width="9.50" height="7.80" fill="#aed8f2"/>
<rect x="179.70" y="325.60" width="9.50" height="7.80" fill="#dfeffa"/>
<text x="158.35" y="564.40" font-size="6.9" text-anchor="end" fill="#2a2a2a" stroke="#2a2a2a" stroke-width="0.12" transform="rotate(-90 158.35 564.4)">LS513</text>
<path d="M152.85 595.6h6.2M155.95 592.5v6.2" stroke="#34a853" stroke-width="1.25" fill="none"/>
<text x="167.85" y="564.40" font-size="6.9" text-anchor="end" fill="#2a2a2a" stroke="#2a2a2a" stroke-width="0.12" transform="rotate(-90 167.85 564.4)">LS180</text>
<path d="M162.35 595.6h6.2M165.45 592.5v6.2" stroke="#34a853" stroke-width="1.25" fill="none"/>
<text x="177.35" y="564.40" font-size="6.9" text-anchor="end" fill="#2a2a2a" stroke="#2a2a2a" stroke-width="0.12" transform="rotate(-90 177.35 564.4)">SKCO1</text>
<path d="M171.85 595.6h6.2M174.95 592.5v6.2" stroke="#34a853" stroke-width="1.25" fill="none"/>
<text x="186.85" y="564.40" font-size="6.9" text-anchor="end" fill="#2a2a2a" stroke="#2a2a2a" stroke-width="0.12" transform="rotate(-90 186.85 564.4)">CW2</text>
<path d="M181.35 595.6h6.2M184.45 592.5v6.2" stroke="#34a853" stroke-width="1.25" fill="none"/>
<text x="217.60" y="295.50" font-size="10.0" text-anchor="middle" fill="#1e1e1e" stroke="#1e1e1e" stroke-width="0.22">CMS4</text>
<rect x="190.80" y="298.10" width="28.50" height="7.50" fill="#bdbdbd"/>
<rect x="219.30" y="298.10" width="28.50" height="7.50" fill="#7d43a0"/>
<rect x="190.80" y="307.30" width="57.00" height="7.50" fill="#0d6539"/>
<rect x="190.80" y="316.50" width="57.00" height="7.40" fill="#d71b7b"/>
<rect x="190.80" y="325.60" width="19.00" height="7.80" fill="#8ecbee"/>
<rect x="209.80" y="325.60" width="9.50" height="7.80" fill="#aad6f1"/>
<rect x="219.30" y="325.60" width="9.50" height="7.80" fill="#5ab3e3"/>
<rect x="228.80" y="325.60" width="9.50" height="7.80" fill="#cfe7f7"/>
<rect x="238.30" y="325.60" width="9.50" height="7.80" fill="#a2d3ef"/>
<text x="197.95" y="564.40" font-size="6.9" text-anchor="end" fill="#2a2a2a" stroke="#2a2a2a" stroke-width="0.12" transform="rotate(-90 197.95000000000002 564.4)">NCIH716</text>
<text x="207.45" y="564.40" font-size="6.9" text-anchor="end" fill="#2a2a2a" stroke="#2a2a2a" stroke-width="0.12" transform="rotate(-90 207.45000000000002 564.4)">SW480</text>
<text x="216.95" y="564.40" font-size="6.9" text-anchor="end" fill="#2a2a2a" stroke="#2a2a2a" stroke-width="0.12" transform="rotate(-90 216.95000000000002 564.4)">SW620</text>
<text x="226.45" y="564.40" font-size="6.9" text-anchor="end" fill="#2a2a2a" stroke="#2a2a2a" stroke-width="0.12" transform="rotate(-90 226.45000000000002 564.4)">CACO2</text>
<text x="235.95" y="564.40" font-size="6.9" text-anchor="end" fill="#2a2a2a" stroke="#2a2a2a" stroke-width="0.12" transform="rotate(-90 235.95000000000002 564.4)">COLO320</text>
<text x="245.45" y="564.40" font-size="6.9" text-anchor="end" fill="#2a2a2a" stroke="#2a2a2a" stroke-width="0.12" transform="rotate(-90 245.45000000000002 564.4)">LS123</text>
<text x="288.70" y="295.50" font-size="10.0" text-anchor="middle" fill="#1e1e1e" stroke="#1e1e1e" stroke-width="0.22">CMS1</text>
<rect x="249.30" y="298.10" width="38.00" height="7.50" fill="#bdbdbd"/>
<rect x="287.30" y="298.10" width="47.50" height="7.50" fill="#7d43a0"/>
<rect x="249.30" y="307.30" width="85.50" height="7.50" fill="#f0623f"/>
<rect x="249.30" y="316.50" width="85.50" height="7.40" fill="#c9dc5c"/>
<rect x="249.30" y="325.60" width="9.50" height="7.80" fill="#90cced"/>
<rect x="258.80" y="325.60" width="9.50" height="7.80" fill="#f3f8fc"/>
<rect x="268.30" y="325.60" width="9.50" height="7.80" fill="#ffffff"/>
<rect x="277.80" y="325.60" width="9.50" height="7.80" fill="#acd7f1"/>
<rect x="287.30" y="325.60" width="9.50" height="7.80" fill="#e0effa"/>
<rect x="296.80" y="325.60" width="19.00" height="7.80" fill="#e8f3fb"/>
<rect x="315.80" y="325.60" width="9.50" height="7.80" fill="#d9ecf8"/>
<rect x="325.30" y="325.60" width="9.50" height="7.80" fill="#f1f7fc"/>
<text x="256.45" y="564.40" font-size="6.9" text-anchor="end" fill="#2a2a2a" stroke="#2a2a2a" stroke-width="0.12" transform="rotate(-90 256.45 564.4)">KM12</text>
<text x="265.95" y="564.40" font-size="6.9" text-anchor="end" fill="#2a2a2a" stroke="#2a2a2a" stroke-width="0.12" transform="rotate(-90 265.95 564.4)">LOVO</text>
<path d="M260.45 595.6h6.2M263.55 592.5v6.2" stroke="#34a853" stroke-width="1.25" fill="none"/>
<text x="275.45" y="564.40" font-size="6.9" text-anchor="end" fill="#2a2a2a" stroke="#2a2a2a" stroke-width="0.12" transform="rotate(-90 275.45 564.4)">LS411N</text>
<text x="284.95" y="564.40" font-size="6.9" text-anchor="end" fill="#2a2a2a" stroke="#2a2a2a" stroke-width="0.12" transform="rotate(-90 284.95 564.4)">RKO</text>
<path d="M279.45 595.6h6.2M282.55 592.5v6.2" stroke="#34a853" stroke-width="1.25" fill="none"/>
<text x="294.45" y="564.40" font-size="6.9" text-anchor="end" fill="#2a2a2a" stroke="#2a2a2a" stroke-width="0.12" transform="rotate(-90 294.45 564.4)">DLD1</text>
<text x="303.95" y="564.40" font-size="6.9" text-anchor="end" fill="#2a2a2a" stroke="#2a2a2a" stroke-width="0.12" transform="rotate(-90 303.95 564.4)">HCT116</text>
<path d="M298.45 595.6h6.2M301.55 592.5v6.2" stroke="#34a853" stroke-width="1.25" fill="none"/>
<text x="313.45" y="564.40" font-size="6.9" text-anchor="end" fill="#2a2a2a" stroke="#2a2a2a" stroke-width="0.12" transform="rotate(-90 313.45 564.4)">HCT15</text>
<text x="322.95" y="564.40" font-size="6.9" text-anchor="end" fill="#2a2a2a" stroke="#2a2a2a" stroke-width="0.12" transform="rotate(-90 322.95 564.4)">SNUC2A</text>
<text x="332.45" y="564.40" font-size="6.9" text-anchor="end" fill="#2a2a2a" stroke="#2a2a2a" stroke-width="0.12" transform="rotate(-90 332.45 564.4)">SW48</text>
<path d="M326.95 595.6h6.2M330.05 592.5v6.2" stroke="#34a853" stroke-width="1.25" fill="none"/>
<text x="338.90" y="304.85" font-size="8.6" text-anchor="start" fill="#1e1e1e" stroke="#1e1e1e" stroke-width="0.22">Sensitivity</text>
<text x="338.90" y="314.05" font-size="8.6" text-anchor="start" fill="#1e1e1e" stroke="#1e1e1e" stroke-width="0.22">Subtype</text>
<text x="338.90" y="323.20" font-size="8.6" text-anchor="start" fill="#1e1e1e" stroke="#1e1e1e" stroke-width="0.22">Status</text>
<text x="338.90" y="332.50" font-size="8.6" text-anchor="start" fill="#1e1e1e" stroke="#1e1e1e" stroke-width="0.22">Chr20q11</text>
<rect x="16.60" y="337.70" width="9.52" height="2.36" fill="#f28268"/>
<rect x="16.60" y="340.04" width="9.52" height="2.36" fill="#e1ddf0"/>
<rect x="16.60" y="342.39" width="9.52" height="4.71" fill="#7e73c2"/>
<rect x="16.60" y="347.08" width="9.52" height="2.36" fill="#fadfd5"/>
<rect x="16.60" y="349.42" width="9.52" height="4.71" fill="#ee5a43"/>
<rect x="16.60" y="354.11" width="9.52" height="2.36" fill="#e1ddf0"/>
<rect x="16.60" y="356.45" width="9.52" height="2.36" fill="#f5a38c"/>
<rect x="16.60" y="358.80" width="9.52" height="2.36" fill="#e6312a"/>
<rect x="16.60" y="361.14" width="9.52" height="2.36" fill="#f5a38c"/>
<rect x="16.60" y="363.49" width="9.52" height="2.36" fill="#f8c5b5"/>
<rect x="16.60" y="365.83" width="9.52" height="2.36" fill="#ee5a43"/>
<rect x="16.60" y="368.17" width="9.52" height="2.36" fill="#e6312a"/>
<rect x="16.60" y="370.52" width="9.52" height="2.36" fill="#f5a38c"/>
<rect x="16.60" y="372.86" width="9.52" height="2.36" fill="#ee5a43"/>
<rect x="16.60" y="375.21" width="9.52" height="2.36" fill="#f8c5b5"/>
<rect x="16.60" y="377.55" width="9.52" height="2.36" fill="#f5a38c"/>
<rect x="16.60" y="379.90" width="9.52" height="2.36" fill="#f28268"/>
<rect x="16.60" y="382.24" width="9.52" height="2.36" fill="#cac3e5"/>
<rect x="16.60" y="384.58" width="9.52" height="2.36" fill="#f5a38c"/>
<rect x="16.60" y="386.93" width="9.52" height="2.36" fill="#a79dd5"/>
<rect x="16.60" y="389.27" width="9.52" height="2.36" fill="#fadfd5"/>
<rect x="16.60" y="391.62" width="9.52" height="2.36" fill="#f5f2f6"/>
<rect x="16.60" y="393.96" width="9.52" height="2.36" fill="#a79dd5"/>
<rect x="16.60" y="396.31" width="9.52" height="7.05" fill="#cac3e5"/>
<rect x="16.60" y="403.34" width="9.52" height="9.40" fill="#a79dd5"/>
<rect x="16.60" y="412.71" width="9.52" height="2.36" fill="#7e73c2"/>
<rect x="16.60" y="415.06" width="9.52" height="2.36" fill="#a79dd5"/>
<rect x="16.60" y="417.40" width="9.52" height="2.36" fill="#f5a38c"/>
<rect x="16.60" y="419.75" width="9.52" height="2.36" fill="#f5f2f6"/>
<rect x="16.60" y="422.09" width="9.52" height="2.36" fill="#e1ddf0"/>
<rect x="16.60" y="424.44" width="9.52" height="4.71" fill="#cac3e5"/>
<rect x="16.60" y="429.12" width="9.52" height="4.71" fill="#e1ddf0"/>
<rect x="16.60" y="433.81" width="9.52" height="2.36" fill="#f5a38c"/>
<rect x="16.60" y="436.16" width="9.52" height="2.36" fill="#e1ddf0"/>
<rect x="16.60" y="438.50" width="9.52" height="4.71" fill="#f5a38c"/>
<rect x="16.60" y="443.19" width="9.52" height="2.36" fill="#a79dd5"/>
<rect x="16.60" y="445.53" width="9.52" height="2.36" fill="#f5a38c"/>
<rect x="16.60" y="447.88" width="9.52" height="4.71" fill="#e6312a"/>
<rect x="16.60" y="452.57" width="9.52" height="2.36" fill="#ee5a43"/>
<rect x="16.60" y="454.91" width="9.52" height="2.36" fill="#f28268"/>
<rect x="16.60" y="457.25" width="9.52" height="2.36" fill="#ee5a43"/>
<rect x="16.60" y="459.60" width="9.52" height="2.36" fill="#f28268"/>
<rect x="16.60" y="461.94" width="9.52" height="2.36" fill="#e6312a"/>
<rect x="16.60" y="464.29" width="9.52" height="2.36" fill="#f28268"/>
<rect x="16.60" y="466.63" width="9.52" height="2.36" fill="#e1ddf0"/>
<rect x="16.60" y="468.98" width="9.52" height="2.36" fill="#f5f2f6"/>
<rect x="16.60" y="471.32" width="9.52" height="2.36" fill="#e1ddf0"/>
<rect x="16.60" y="473.66" width="9.52" height="2.36" fill="#f8c5b5"/>
<rect x="16.60" y="476.01" width="9.52" height="2.36" fill="#f5f2f6"/>
<rect x="16.60" y="478.35" width="9.52" height="2.36" fill="#cac3e5"/>
<rect x="16.60" y="480.70" width="9.52" height="2.36" fill="#f8c5b5"/>
<rect x="16.60" y="483.04" width="9.52" height="2.36" fill="#e1ddf0"/>
<rect x="16.60" y="485.39" width="9.52" height="2.36" fill="#a79dd5"/>
<rect x="16.60" y="487.73" width="9.52" height="2.36" fill="#f8c5b5"/>
<rect x="16.60" y="490.07" width="9.52" height="2.36" fill="#f5a38c"/>
<rect x="16.60" y="492.42" width="9.52" height="2.36" fill="#ee5a43"/>
<rect x="16.60" y="494.76" width="9.52" height="2.36" fill="#fadfd5"/>
<rect x="16.60" y="497.11" width="9.52" height="2.36" fill="#4f59b0"/>
<rect x="16.60" y="499.45" width="9.52" height="4.71" fill="#cac3e5"/>
<rect x="16.60" y="504.14" width="9.52" height="2.36" fill="#f8c5b5"/>
<rect x="16.60" y="506.48" width="9.52" height="4.71" fill="#cac3e5"/>
<rect x="16.60" y="511.17" width="9.52" height="2.36" fill="#f5f2f6"/>
<rect x="16.60" y="513.52" width="9.52" height="4.71" fill="#cac3e5"/>
<rect x="16.60" y="518.20" width="9.52" height="2.36" fill="#e1ddf0"/>
<rect x="16.60" y="520.55" width="9.52" height="2.36" fill="#f28268"/>
<rect x="16.60" y="522.89" width="9.52" height="2.36" fill="#e1ddf0"/>
<rect x="16.60" y="525.24" width="9.52" height="2.36" fill="#f5a38c"/>
<rect x="16.60" y="527.58" width="9.52" height="4.71" fill="#f28268"/>
<rect x="16.60" y="532.27" width="9.52" height="2.36" fill="#f5f2f6"/>
<rect x="16.60" y="534.61" width="9.52" height="2.36" fill="#f5a38c"/>
<rect x="16.60" y="536.96" width="9.52" height="4.71" fill="#f8c5b5"/>
<rect x="16.60" y="541.65" width="9.52" height="2.36" fill="#f5a38c"/>
<rect x="16.60" y="543.99" width="9.52" height="2.36" fill="#f8c5b5"/>
<rect x="16.60" y="546.33" width="9.52" height="2.36" fill="#cac3e5"/>
<rect x="16.60" y="548.68" width="9.52" height="2.36" fill="#f28268"/>
<rect x="16.60" y="551.02" width="9.52" height="2.36" fill="#cac3e5"/>
<rect x="16.60" y="553.37" width="9.52" height="2.36" fill="#fadfd5"/>
<rect x="16.60" y="555.71" width="9.52" height="2.36" fill="#7e73c2"/>
<rect x="16.60" y="558.06" width="9.52" height="2.36" fill="#f5f2f6"/>
<rect x="26.10" y="337.70" width="9.52" height="2.36" fill="#f5a38c"/>
<rect x="26.10" y="340.04" width="9.52" height="2.36" fill="#f28268"/>
<rect x="26.10" y="342.39" width="9.52" height="2.36" fill="#f5a38c"/>
<rect x="26.10" y="344.73" width="9.52" height="2.36" fill="#f8c5b5"/>
<rect x="26.10" y="347.08" width="9.52" height="2.36" fill="#f5a38c"/>
<rect x="26.10" y="349.42" width="9.52" height="2.36" fill="#f8c5b5"/>
<rect x="26.10" y="351.77" width="9.52" height="2.36" fill="#f5a38c"/>
<rect x="26.10" y="354.11" width="9.52" height="2.36" fill="#f8c5b5"/>
<rect x="26.10" y="356.45" width="9.52" height="2.36" fill="#f5f2f6"/>
<rect x="26.10" y="358.80" width="9.52" height="7.05" fill="#f5a38c"/>
<rect x="26.10" y="365.83" width="9.52" height="2.36" fill="#f8c5b5"/>
<rect x="26.10" y="368.17" width="9.52" height="2.36" fill="#f5a38c"/>
<rect x="26.10" y="370.52" width="9.52" height="2.36" fill="#f28268"/>
<rect x="26.10" y="372.86" width="9.52" height="2.36" fill="#f8c5b5"/>
<rect x="26.10" y="375.21" width="9.52" height="2.36" fill="#f5a38c"/>
<rect x="26.10" y="377.55" width="9.52" height="2.36" fill="#f8c5b5"/>
<rect x="26.10" y="379.90" width="9.52" height="4.71" fill="#f5a38c"/>
<rect x="26.10" y="384.58" width="9.52" height="2.36" fill="#f8c5b5"/>
<rect x="26.10" y="386.93" width="9.52" height="7.05" fill="#f28268"/>
<rect x="26.10" y="393.96" width="9.52" height="2.36" fill="#ee5a43"/>
<rect x="26.10" y="396.31" width="9.52" height="4.71" fill="#f28268"/>
<rect x="26.10" y="400.99" width="9.52" height="2.36" fill="#f5a38c"/>
<rect x="26.10" y="403.34" width="9.52" height="2.36" fill="#f28268"/>
<rect x="26.10" y="405.68" width="9.52" height="2.36" fill="#f5a38c"/>
<rect x="26.10" y="408.03" width="9.52" height="2.36" fill="#ee5a43"/>
<rect x="26.10" y="410.37" width="9.52" height="2.36" fill="#f8c5b5"/>
<rect x="26.10" y="412.71" width="9.52" height="2.36" fill="#f28268"/>
<rect x="26.10" y="415.06" width="9.52" height="2.36" fill="#e1ddf0"/>
<rect x="26.10" y="417.40" width="9.52" height="2.36" fill="#f28268"/>
<rect x="26.10" y="419.75" width="9.52" height="2.36" fill="#f8c5b5"/>
<rect x="26.10" y="422.09" width="9.52" height="2.36" fill="#e1ddf0"/>
<rect x="26.10" y="424.44" width="9.52" height="2.36" fill="#f5a38c"/>
<rect x="26.10" y="426.78" width="9.52" height="2.36" fill="#ee5a43"/>
<rect x="26.10" y="429.12" width="9.52" height="2.36" fill="#e1ddf0"/>
<rect x="26.10" y="431.47" width="9.52" height="2.36" fill="#cac3e5"/>
<rect x="26.10" y="433.81" width="9.52" height="4.71" fill="#f5a38c"/>
<rect x="26.10" y="438.50" width="9.52" height="2.36" fill="#f5f2f6"/>
<rect x="26.10" y="440.85" width="9.52" height="2.36" fill="#f28268"/>
<rect x="26.10" y="443.19" width="9.52" height="2.36" fill="#cac3e5"/>
<rect x="26.10" y="445.53" width="9.52" height="2.36" fill="#f5f2f6"/>
<rect x="26.10" y="447.88" width="9.52" height="2.36" fill="#7e73c2"/>
<rect x="26.10" y="450.22" width="9.52" height="4.71" fill="#cac3e5"/>
<rect x="26.10" y="454.91" width="9.52" height="2.36" fill="#f5f2f6"/>
<rect x="26.10" y="457.25" width="9.52" height="11.74" fill="#cac3e5"/>
<rect x="26.10" y="468.98" width="9.52" height="2.36" fill="#f5f2f6"/>
<rect x="26.10" y="471.32" width="9.52" height="2.36" fill="#e1ddf0"/>
<rect x="26.10" y="473.66" width="9.52" height="2.36" fill="#a79dd5"/>
<rect x="26.10" y="476.01" width="9.52" height="4.71" fill="#cac3e5"/>
<rect x="26.10" y="480.70" width="9.52" height="2.36" fill="#e1ddf0"/>
<rect x="26.10" y="483.04" width="9.52" height="2.36" fill="#a79dd5"/>
<rect x="26.10" y="485.39" width="9.52" height="2.36" fill="#f5f2f6"/>
<rect x="26.10" y="487.73" width="9.52" height="2.36" fill="#cac3e5"/>
<rect x="26.10" y="490.07" width="9.52" height="2.36" fill="#a79dd5"/>
<rect x="26.10" y="492.42" width="9.52" height="2.36" fill="#cac3e5"/>
<rect x="26.10" y="494.76" width="9.52" height="2.36" fill="#a79dd5"/>
<rect x="26.10" y="497.11" width="9.52" height="2.36" fill="#f5f2f6"/>
<rect x="26.10" y="499.45" width="9.52" height="2.36" fill="#f5a38c"/>
<rect x="26.10" y="501.79" width="9.52" height="4.71" fill="#f5f2f6"/>
<rect x="26.10" y="506.48" width="9.52" height="2.36" fill="#fadfd5"/>
<rect x="26.10" y="508.83" width="9.52" height="2.36" fill="#cac3e5"/>
<rect x="26.10" y="511.17" width="9.52" height="2.36" fill="#f5f2f6"/>
<rect x="26.10" y="513.52" width="9.52" height="2.36" fill="#f5a38c"/>
<rect x="26.10" y="515.86" width="9.52" height="2.36" fill="#e1ddf0"/>
<rect x="26.10" y="518.20" width="9.52" height="2.36" fill="#f5a38c"/>
<rect x="26.10" y="520.55" width="9.52" height="2.36" fill="#ee5a43"/>
<rect x="26.10" y="522.89" width="9.52" height="4.71" fill="#cac3e5"/>
<rect x="26.10" y="527.58" width="9.52" height="2.36" fill="#7e73c2"/>
<rect x="26.10" y="529.93" width="9.52" height="2.36" fill="#fadfd5"/>
<rect x="26.10" y="532.27" width="9.52" height="9.40" fill="#7e73c2"/>
<rect x="26.10" y="541.65" width="9.52" height="2.36" fill="#cac3e5"/>
<rect x="26.10" y="543.99" width="9.52" height="2.36" fill="#7e73c2"/>
<rect x="26.10" y="546.33" width="9.52" height="2.36" fill="#cac3e5"/>
<rect x="26.10" y="548.68" width="9.52" height="2.36" fill="#fadfd5"/>
<rect x="26.10" y="551.02" width="9.52" height="4.71" fill="#cac3e5"/>
<rect x="26.10" y="555.71" width="9.52" height="2.36" fill="#e1ddf0"/>
<rect x="26.10" y="558.06" width="9.52" height="2.36" fill="#cac3e5"/>
<rect x="35.60" y="337.70" width="9.52" height="2.36" fill="#ee5a43"/>
<rect x="35.60" y="340.04" width="9.52" height="2.36" fill="#f8c5b5"/>
<rect x="35.60" y="342.39" width="9.52" height="4.71" fill="#f5a38c"/>
<rect x="35.60" y="347.08" width="9.52" height="2.36" fill="#e6312a"/>
<rect x="35.60" y="349.42" width="9.52" height="2.36" fill="#f8c5b5"/>
<rect x="35.60" y="351.77" width="9.52" height="2.36" fill="#f5a38c"/>
<rect x="35.60" y="354.11" width="9.52" height="2.36" fill="#f28268"/>
<rect x="35.60" y="356.45" width="9.52" height="2.36" fill="#e1ddf0"/>
<rect x="35.60" y="358.80" width="9.52" height="2.36" fill="#cac3e5"/>
<rect x="35.60" y="361.14" width="9.52" height="4.71" fill="#f8c5b5"/>
<rect x="35.60" y="365.83" width="9.52" height="2.36" fill="#f28268"/>
<rect x="35.60" y="368.17" width="9.52" height="2.36" fill="#ee5a43"/>
<rect x="35.60" y="370.52" width="9.52" height="2.36" fill="#f5a38c"/>
<rect x="35.60" y="372.86" width="9.52" height="2.36" fill="#ee5a43"/>
<rect x="35.60" y="375.21" width="9.52" height="2.36" fill="#f5f2f6"/>
<rect x="35.60" y="377.55" width="9.52" height="4.71" fill="#f5a38c"/>
<rect x="35.60" y="382.24" width="9.52" height="2.36" fill="#f5f2f6"/>
<rect x="35.60" y="384.58" width="9.52" height="7.05" fill="#f5a38c"/>
<rect x="35.60" y="391.62" width="9.52" height="2.36" fill="#f8c5b5"/>
<rect x="35.60" y="393.96" width="9.52" height="2.36" fill="#f5f2f6"/>
<rect x="35.60" y="396.31" width="9.52" height="4.71" fill="#f5a38c"/>
<rect x="35.60" y="400.99" width="9.52" height="2.36" fill="#f28268"/>
<rect x="35.60" y="403.34" width="9.52" height="2.36" fill="#f5a38c"/>
<rect x="35.60" y="405.68" width="9.52" height="2.36" fill="#f28268"/>
<rect x="35.60" y="408.03" width="9.52" height="2.36" fill="#fadfd5"/>
<rect x="35.60" y="410.37" width="9.52" height="7.05" fill="#f8c5b5"/>
<rect x="35.60" y="417.40" width="9.52" height="2.36" fill="#f5a38c"/>
<rect x="35.60" y="419.75" width="9.52" height="2.36" fill="#a79dd5"/>
<rect x="35.60" y="422.09" width="9.52" height="2.36" fill="#ee5a43"/>
<rect x="35.60" y="424.44" width="9.52" height="2.36" fill="#e1ddf0"/>
<rect x="35.60" y="426.78" width="9.52" height="2.36" fill="#ee5a43"/>
<rect x="35.60" y="429.12" width="9.52" height="2.36" fill="#e1ddf0"/>
<rect x="35.60" y="431.47" width="9.52" height="2.36" fill="#cac3e5"/>
<rect x="35.60" y="433.81" width="9.52" height="2.36" fill="#a79dd5"/>
<rect x="35.60" y="436.16" width="9.52" height="2.36" fill="#cac3e5"/>
<rect x="35.60" y="438.50" width="9.52" height="2.36" fill="#a79dd5"/>
<rect x="35.60" y="440.85" width="9.52" height="2.36" fill="#cac3e5"/>
<rect x="35.60" y="443.19" width="9.52" height="2.36" fill="#a79dd5"/>
<rect x="35.60" y="445.53" width="9.52" height="7.05" fill="#cac3e5"/>
<rect x="35.60" y="452.57" width="9.52" height="2.36" fill="#a79dd5"/>
<rect x="35.60" y="454.91" width="9.52" height="2.36" fill="#f5f2f6"/>
<rect x="35.60" y="457.25" width="9.52" height="7.05" fill="#a79dd5"/>
<rect x="35.60" y="464.29" width="9.52" height="9.40" fill="#cac3e5"/>
<rect x="35.60" y="473.66" width="9.52" height="2.36" fill="#7e73c2"/>
<rect x="35.60" y="476.01" width="9.52" height="9.40" fill="#cac3e5"/>
<rect x="35.60" y="485.39" width="9.52" height="2.36" fill="#7e73c2"/>
<rect x="35.60" y="487.73" width="9.52" height="2.36" fill="#cac3e5"/>
<rect x="35.60" y="490.07" width="9.52" height="2.36" fill="#7e73c2"/>
<rect x="35.60" y="492.42" width="9.52" height="2.36" fill="#cac3e5"/>
<rect x="35.60" y="494.76" width="9.52" height="2.36" fill="#f5f2f6"/>
<rect x="35.60" y="497.11" width="9.52" height="2.36" fill="#cac3e5"/>
<rect x="35.60" y="499.45" width="9.52" height="2.36" fill="#a79dd5"/>
<rect x="35.60" y="501.79" width="9.52" height="7.05" fill="#cac3e5"/>
<rect x="35.60" y="508.83" width="9.52" height="2.36" fill="#e1ddf0"/>
<rect x="35.60" y="511.17" width="9.52" height="2.36" fill="#f28268"/>
<rect x="35.60" y="513.52" width="9.52" height="2.36" fill="#f5f2f6"/>
<rect x="35.60" y="515.86" width="9.52" height="2.36" fill="#cac3e5"/>
<rect x="35.60" y="518.20" width="9.52" height="2.36" fill="#e1ddf0"/>
<rect x="35.60" y="520.55" width="9.52" height="2.36" fill="#cac3e5"/>
<rect x="35.60" y="522.89" width="9.52" height="2.36" fill="#e1ddf0"/>
<rect x="35.60" y="525.24" width="9.52" height="2.36" fill="#cac3e5"/>
<rect x="35.60" y="527.58" width="9.52" height="4.71" fill="#f5f2f6"/>
<rect x="35.60" y="532.27" width="9.52" height="2.36" fill="#f8c5b5"/>
<rect x="35.60" y="534.61" width="9.52" height="2.36" fill="#7e73c2"/>
<rect x="35.60" y="536.96" width="9.52" height="2.36" fill="#f5f2f6"/>
<rect x="35.60" y="539.30" width="9.52" height="2.36" fill="#cac3e5"/>
<rect x="35.60" y="541.65" width="9.52" height="2.36" fill="#e1ddf0"/>
<rect x="35.60" y="543.99" width="9.52" height="2.36" fill="#f5f2f6"/>
<rect x="35.60" y="546.33" width="9.52" height="2.36" fill="#cac3e5"/>
<rect x="35.60" y="548.68" width="9.52" height="2.36" fill="#fadfd5"/>
<rect x="35.60" y="551.02" width="9.52" height="4.71" fill="#cac3e5"/>
<rect x="35.60" y="555.71" width="9.52" height="2.36" fill="#f5a38c"/>
<rect x="35.60" y="558.06" width="9.52" height="2.36" fill="#cac3e5"/>
<rect x="45.10" y="337.70" width="9.52" height="2.36" fill="#f5a38c"/>
<rect x="45.10" y="340.04" width="9.52" height="2.36" fill="#f5f2f6"/>
<rect x="45.10" y="342.39" width="9.52" height="2.36" fill="#e1ddf0"/>
<rect x="45.10" y="344.73" width="9.52" height="2.36" fill="#f8c5b5"/>
<rect x="45.10" y="347.08" width="9.52" height="4.71" fill="#cac3e5"/>
<rect x="45.10" y="351.77" width="9.52" height="2.36" fill="#a79dd5"/>
<rect x="45.10" y="354.11" width="9.52" height="2.36" fill="#f5a38c"/>
<rect x="45.10" y="356.45" width="9.52" height="2.36" fill="#e1ddf0"/>
<rect x="45.10" y="358.80" width="9.52" height="4.71" fill="#f5f2f6"/>
<rect x="45.10" y="363.49" width="9.52" height="2.36" fill="#a79dd5"/>
<rect x="45.10" y="365.83" width="9.52" height="2.36" fill="#cac3e5"/>
<rect x="45.10" y="368.17" width="9.52" height="4.71" fill="#e1ddf0"/>
<rect x="45.10" y="372.86" width="9.52" height="2.36" fill="#cac3e5"/>
<rect x="45.10" y="375.21" width="9.52" height="2.36" fill="#f5f2f6"/>
<rect x="45.10" y="377.55" width="9.52" height="2.36" fill="#f8c5b5"/>
<rect x="45.10" y="379.90" width="9.52" height="2.36" fill="#e1ddf0"/>
<rect x="45.10" y="382.24" width="9.52" height="4.71" fill="#f5a38c"/>
<rect x="45.10" y="386.93" width="9.52" height="2.36" fill="#f28268"/>
<rect x="45.10" y="389.27" width="9.52" height="4.71" fill="#f8c5b5"/>
<rect x="45.10" y="393.96" width="9.52" height="2.36" fill="#e1ddf0"/>
<rect x="45.10" y="396.31" width="9.52" height="9.40" fill="#f5a38c"/>
<rect x="45.10" y="405.68" width="9.52" height="2.36" fill="#f8c5b5"/>
<rect x="45.10" y="408.03" width="9.52" height="2.36" fill="#cac3e5"/>
<rect x="45.10" y="410.37" width="9.52" height="4.71" fill="#f8c5b5"/>
<rect x="45.10" y="415.06" width="9.52" height="2.36" fill="#e1ddf0"/>
<rect x="45.10" y="417.40" width="9.52" height="2.36" fill="#f5a38c"/>
<rect x="45.10" y="419.75" width="9.52" height="2.36" fill="#a79dd5"/>
<rect x="45.10" y="422.09" width="9.52" height="9.40" fill="#e1ddf0"/>
<rect x="45.10" y="431.47" width="9.52" height="2.36" fill="#cac3e5"/>
<rect x="45.10" y="433.81" width="9.52" height="2.36" fill="#e1ddf0"/>
<rect x="45.10" y="436.16" width="9.52" height="2.36" fill="#f5f2f6"/>
<rect x="45.10" y="438.50" width="9.52" height="9.40" fill="#cac3e5"/>
<rect x="45.10" y="447.88" width="9.52" height="4.71" fill="#e1ddf0"/>
<rect x="45.10" y="452.57" width="9.52" height="2.36" fill="#fadfd5"/>
<rect x="45.10" y="454.91" width="9.52" height="4.71" fill="#cac3e5"/>
<rect x="45.10" y="459.60" width="9.52" height="2.36" fill="#e1ddf0"/>
<rect x="45.10" y="461.94" width="9.52" height="2.36" fill="#cac3e5"/>
<rect x="45.10" y="464.29" width="9.52" height="2.36" fill="#e1ddf0"/>
<rect x="45.10" y="466.63" width="9.52" height="2.36" fill="#a79dd5"/>
<rect x="45.10" y="468.98" width="9.52" height="2.36" fill="#cac3e5"/>
<rect x="45.10" y="471.32" width="9.52" height="2.36" fill="#fadfd5"/>
<rect x="45.10" y="473.66" width="9.52" height="2.36" fill="#cac3e5"/>
<rect x="45.10" y="476.01" width="9.52" height="4.71" fill="#e1ddf0"/>
<rect x="45.10" y="480.70" width="9.52" height="2.36" fill="#cac3e5"/>
<rect x="45.10" y="483.04" width="9.52" height="2.36" fill="#e1ddf0"/>
<rect x="45.10" y="485.39" width="9.52" height="4.71" fill="#f8c5b5"/>
<rect x="45.10" y="490.07" width="9.52" height="4.71" fill="#cac3e5"/>
<rect x="45.10" y="494.76" width="9.52" height="2.36" fill="#a79dd5"/>
<rect x="45.10" y="497.11" width="9.52" height="2.36" fill="#e1ddf0"/>
<rect x="45.10" y="499.45" width="9.52" height="4.71" fill="#cac3e5"/>
<rect x="45.10" y="504.14" width="9.52" height="2.36" fill="#a79dd5"/>
<rect x="45.10" y="506.48" width="9.52" height="2.36" fill="#f5f2f6"/>
<rect x="45.10" y="508.83" width="9.52" height="2.36" fill="#cac3e5"/>
<rect x="45.10" y="511.17" width="9.52" height="2.36" fill="#a79dd5"/>
<rect x="45.10" y="513.52" width="9.52" height="2.36" fill="#cac3e5"/>
<rect x="45.10" y="515.86" width="9.52" height="2.36" fill="#f5a38c"/>
<rect x="45.10" y="518.20" width="9.52" height="2.36" fill="#f5f2f6"/>
<rect x="45.10" y="520.55" width="9.52" height="2.36" fill="#7e73c2"/>
<rect x="45.10" y="522.89" width="9.52" height="2.36" fill="#a79dd5"/>
<rect x="45.10" y="525.24" width="9.52" height="2.36" fill="#4f59b0"/>
<rect x="45.10" y="527.58" width="9.52" height="4.71" fill="#a79dd5"/>
<rect x="45.10" y="532.27" width="9.52" height="2.36" fill="#7e73c2"/>
<rect x="45.10" y="534.61" width="9.52" height="2.36" fill="#a79dd5"/>
<rect x="45.10" y="536.96" width="9.52" height="2.36" fill="#7e73c2"/>
<rect x="45.10" y="539.30" width="9.52" height="2.36" fill="#e1ddf0"/>
<rect x="45.10" y="541.65" width="9.52" height="2.36" fill="#7e73c2"/>
<rect x="45.10" y="543.99" width="9.52" height="2.36" fill="#a79dd5"/>
<rect x="45.10" y="546.33" width="9.52" height="4.71" fill="#4f59b0"/>
<rect x="45.10" y="551.02" width="9.52" height="2.36" fill="#f5f2f6"/>
<rect x="45.10" y="553.37" width="9.52" height="2.36" fill="#cac3e5"/>
<rect x="45.10" y="555.71" width="9.52" height="2.36" fill="#7e73c2"/>
<rect x="45.10" y="558.06" width="9.52" height="2.36" fill="#e1ddf0"/>
<rect x="54.60" y="337.70" width="9.52" height="2.36" fill="#ee5a43"/>
<rect x="54.60" y="340.04" width="9.52" height="2.36" fill="#f5a38c"/>
<rect x="54.60" y="342.39" width="9.52" height="2.36" fill="#f5f2f6"/>
<rect x="54.60" y="344.73" width="9.52" height="2.36" fill="#f5a38c"/>
<rect x="54.60" y="347.08" width="9.52" height="2.36" fill="#f28268"/>
<rect x="54.60" y="349.42" width="9.52" height="2.36" fill="#ee5a43"/>
<rect x="54.60" y="351.77" width="9.52" height="9.40" fill="#f5a38c"/>
<rect x="54.60" y="361.14" width="9.52" height="2.36" fill="#e1ddf0"/>
<rect x="54.60" y="363.49" width="9.52" height="11.74" fill="#f28268"/>
<rect x="54.60" y="375.21" width="9.52" height="2.36" fill="#f5a38c"/>
<rect x="54.60" y="377.55" width="9.52" height="2.36" fill="#7e73c2"/>
<rect x="54.60" y="379.90" width="9.52" height="2.36" fill="#a79dd5"/>
<rect x="54.60" y="382.24" width="9.52" height="2.36" fill="#f8c5b5"/>
<rect x="54.60" y="384.58" width="9.52" height="2.36" fill="#f5a38c"/>
<rect x="54.60" y="386.93" width="9.52" height="2.36" fill="#f28268"/>
<rect x="54.60" y="389.27" width="9.52" height="4.71" fill="#cac3e5"/>
<rect x="54.60" y="393.96" width="9.52" height="7.05" fill="#f8c5b5"/>
<rect x="54.60" y="400.99" width="9.52" height="9.40" fill="#cac3e5"/>
<rect x="54.60" y="410.37" width="9.52" height="2.36" fill="#e1ddf0"/>
<rect x="54.60" y="412.71" width="9.52" height="2.36" fill="#cac3e5"/>
<rect x="54.60" y="415.06" width="9.52" height="2.36" fill="#a79dd5"/>
<rect x="54.60" y="417.40" width="9.52" height="2.36" fill="#cac3e5"/>
<rect x="54.60" y="419.75" width="9.52" height="2.36" fill="#f5f2f6"/>
<rect x="54.60" y="422.09" width="9.52" height="2.36" fill="#f5a38c"/>
<rect x="54.60" y="424.44" width="9.52" height="2.36" fill="#e1ddf0"/>
<rect x="54.60" y="426.78" width="9.52" height="2.36" fill="#fadfd5"/>
<rect x="54.60" y="429.12" width="9.52" height="2.36" fill="#e1ddf0"/>
<rect x="54.60" y="431.47" width="9.52" height="2.36" fill="#fadfd5"/>
<rect x="54.60" y="433.81" width="9.52" height="4.71" fill="#cac3e5"/>
<rect x="54.60" y="438.50" width="9.52" height="2.36" fill="#fadfd5"/>
<rect x="54.60" y="440.85" width="9.52" height="2.36" fill="#a79dd5"/>
<rect x="54.60" y="443.19" width="9.52" height="2.36" fill="#f5f2f6"/>
<rect x="54.60" y="445.53" width="9.52" height="2.36" fill="#ee5a43"/>
<rect x="54.60" y="447.88" width="9.52" height="2.36" fill="#f5f2f6"/>
<rect x="54.60" y="450.22" width="9.52" height="4.71" fill="#e1ddf0"/>
<rect x="54.60" y="454.91" width="9.52" height="4.71" fill="#f5a38c"/>
<rect x="54.60" y="459.60" width="9.52" height="2.36" fill="#cac3e5"/>
<rect x="54.60" y="461.94" width="9.52" height="2.36" fill="#fadfd5"/>
<rect x="54.60" y="464.29" width="9.52" height="2.36" fill="#e1ddf0"/>
<rect x="54.60" y="466.63" width="9.52" height="2.36" fill="#cac3e5"/>
<rect x="54.60" y="468.98" width="9.52" height="2.36" fill="#f8c5b5"/>
<rect x="54.60" y="471.32" width="9.52" height="4.71" fill="#f5a38c"/>
<rect x="54.60" y="476.01" width="9.52" height="4.71" fill="#e1ddf0"/>
<rect x="54.60" y="480.70" width="9.52" height="2.36" fill="#cac3e5"/>
<rect x="54.60" y="483.04" width="9.52" height="4.71" fill="#fadfd5"/>
<rect x="54.60" y="487.73" width="9.52" height="2.36" fill="#f5f2f6"/>
<rect x="54.60" y="490.07" width="9.52" height="2.36" fill="#cac3e5"/>
<rect x="54.60" y="492.42" width="9.52" height="2.36" fill="#f28268"/>
<rect x="54.60" y="494.76" width="9.52" height="2.36" fill="#f5f2f6"/>
<rect x="54.60" y="497.11" width="9.52" height="2.36" fill="#fadfd5"/>
<rect x="54.60" y="499.45" width="9.52" height="2.36" fill="#a79dd5"/>
<rect x="54.60" y="501.79" width="9.52" height="7.05" fill="#e1ddf0"/>
<rect x="54.60" y="508.83" width="9.52" height="2.36" fill="#f5a38c"/>
<rect x="54.60" y="511.17" width="9.52" height="2.36" fill="#a79dd5"/>
<rect x="54.60" y="513.52" width="9.52" height="4.71" fill="#cac3e5"/>
<rect x="54.60" y="518.20" width="9.52" height="4.71" fill="#e1ddf0"/>
<rect x="54.60" y="522.89" width="9.52" height="2.36" fill="#f5f2f6"/>
<rect x="54.60" y="525.24" width="9.52" height="2.36" fill="#e1ddf0"/>
<rect x="54.60" y="527.58" width="9.52" height="2.36" fill="#a79dd5"/>
<rect x="54.60" y="529.93" width="9.52" height="4.71" fill="#e1ddf0"/>
<rect x="54.60" y="534.61" width="9.52" height="2.36" fill="#cac3e5"/>
<rect x="54.60" y="536.96" width="9.52" height="4.71" fill="#e1ddf0"/>
<rect x="54.60" y="541.65" width="9.52" height="4.71" fill="#cac3e5"/>
<rect x="54.60" y="546.33" width="9.52" height="2.36" fill="#e1ddf0"/>
<rect x="54.60" y="548.68" width="9.52" height="2.36" fill="#7e73c2"/>
<rect x="54.60" y="551.02" width="9.52" height="4.71" fill="#cac3e5"/>
<rect x="54.60" y="555.71" width="9.52" height="2.36" fill="#a79dd5"/>
<rect x="54.60" y="558.06" width="9.52" height="2.36" fill="#cac3e5"/>
<rect x="64.10" y="337.70" width="9.52" height="2.36" fill="#e1ddf0"/>
<rect x="64.10" y="340.04" width="9.52" height="4.71" fill="#f5a38c"/>
<rect x="64.10" y="344.73" width="9.52" height="2.36" fill="#f8c5b5"/>
<rect x="64.10" y="347.08" width="9.52" height="2.36" fill="#f5a38c"/>
<rect x="64.10" y="349.42" width="9.52" height="2.36" fill="#f8c5b5"/>
<rect x="64.10" y="351.77" width="9.52" height="2.36" fill="#f5f2f6"/>
<rect x="64.10" y="354.11" width="9.52" height="2.36" fill="#f28268"/>
<rect x="64.10" y="356.45" width="9.52" height="2.36" fill="#f8c5b5"/>
<rect x="64.10" y="358.80" width="9.52" height="2.36" fill="#f5f2f6"/>
<rect x="64.10" y="361.14" width="9.52" height="2.36" fill="#f8c5b5"/>
<rect x="64.10" y="363.49" width="9.52" height="2.36" fill="#f5f2f6"/>
<rect x="64.10" y="365.83" width="9.52" height="2.36" fill="#e1ddf0"/>
<rect x="64.10" y="368.17" width="9.52" height="2.36" fill="#f8c5b5"/>
<rect x="64.10" y="370.52" width="9.52" height="2.36" fill="#f28268"/>
<rect x="64.10" y="372.86" width="9.52" height="9.40" fill="#f5a38c"/>
<rect x="64.10" y="382.24" width="9.52" height="4.71" fill="#f8c5b5"/>
<rect x="64.10" y="386.93" width="9.52" height="2.36" fill="#f5a38c"/>
<rect x="64.10" y="389.27" width="9.52" height="4.71" fill="#f28268"/>
<rect x="64.10" y="393.96" width="9.52" height="7.05" fill="#f5a38c"/>
<rect x="64.10" y="400.99" width="9.52" height="2.36" fill="#f28268"/>
<rect x="64.10" y="403.34" width="9.52" height="2.36" fill="#f5a38c"/>
<rect x="64.10" y="405.68" width="9.52" height="2.36" fill="#f8c5b5"/>
<rect x="64.10" y="408.03" width="9.52" height="2.36" fill="#ee5a43"/>
<rect x="64.10" y="410.37" width="9.52" height="2.36" fill="#f5a38c"/>
<rect x="64.10" y="412.71" width="9.52" height="2.36" fill="#f8c5b5"/>
<rect x="64.10" y="415.06" width="9.52" height="2.36" fill="#e1ddf0"/>
<rect x="64.10" y="417.40" width="9.52" height="2.36" fill="#f5f2f6"/>
<rect x="64.10" y="419.75" width="9.52" height="2.36" fill="#ee5a43"/>
<rect x="64.10" y="422.09" width="9.52" height="2.36" fill="#f8c5b5"/>
<rect x="64.10" y="424.44" width="9.52" height="2.36" fill="#f5f2f6"/>
<rect x="64.10" y="426.78" width="9.52" height="2.36" fill="#cac3e5"/>
<rect x="64.10" y="429.12" width="9.52" height="2.36" fill="#e1ddf0"/>
<rect x="64.10" y="431.47" width="9.52" height="2.36" fill="#f28268"/>
<rect x="64.10" y="433.81" width="9.52" height="2.36" fill="#e1ddf0"/>
<rect x="64.10" y="436.16" width="9.52" height="2.36" fill="#cac3e5"/>
<rect x="64.10" y="438.50" width="9.52" height="2.36" fill="#a79dd5"/>
<rect x="64.10" y="440.85" width="9.52" height="2.36" fill="#f8c5b5"/>
<rect x="64.10" y="443.19" width="9.52" height="2.36" fill="#f5a38c"/>
<rect x="64.10" y="445.53" width="9.52" height="4.71" fill="#a79dd5"/>
<rect x="64.10" y="450.22" width="9.52" height="7.05" fill="#cac3e5"/>
<rect x="64.10" y="457.25" width="9.52" height="2.36" fill="#a79dd5"/>
<rect x="64.10" y="459.60" width="9.52" height="2.36" fill="#cac3e5"/>
<rect x="64.10" y="461.94" width="9.52" height="2.36" fill="#f5f2f6"/>
<rect x="64.10" y="464.29" width="9.52" height="2.36" fill="#cac3e5"/>
<rect x="64.10" y="466.63" width="9.52" height="2.36" fill="#a79dd5"/>
<rect x="64.10" y="468.98" width="9.52" height="2.36" fill="#cac3e5"/>
<rect x="64.10" y="471.32" width="9.52" height="2.36" fill="#f5f2f6"/>
<rect x="64.10" y="473.66" width="9.52" height="4.71" fill="#cac3e5"/>
<rect x="64.10" y="478.35" width="9.52" height="2.36" fill="#f5f2f6"/>
<rect x="64.10" y="480.70" width="9.52" height="2.36" fill="#fadfd5"/>
<rect x="64.10" y="483.04" width="9.52" height="4.71" fill="#cac3e5"/>
<rect x="64.10" y="487.73" width="9.52" height="4.71" fill="#f5a38c"/>
<rect x="64.10" y="492.42" width="9.52" height="2.36" fill="#cac3e5"/>
<rect x="64.10" y="494.76" width="9.52" height="2.36" fill="#f5a38c"/>
<rect x="64.10" y="497.11" width="9.52" height="2.36" fill="#cac3e5"/>
<rect x="64.10" y="499.45" width="9.52" height="2.36" fill="#f5f2f6"/>
<rect x="64.10" y="501.79" width="9.52" height="2.36" fill="#cac3e5"/>
<rect x="64.10" y="504.14" width="9.52" height="4.71" fill="#a79dd5"/>
<rect x="64.10" y="508.83" width="9.52" height="2.36" fill="#cac3e5"/>
<rect x="64.10" y="511.17" width="9.52" height="2.36" fill="#a79dd5"/>
<rect x="64.10" y="513.52" width="9.52" height="2.36" fill="#e1ddf0"/>
<rect x="64.10" y="515.86" width="9.52" height="2.36" fill="#cac3e5"/>
<rect x="64.10" y="518.20" width="9.52" height="2.36" fill="#e1ddf0"/>
<rect x="64.10" y="520.55" width="9.52" height="2.36" fill="#a79dd5"/>
<rect x="64.10" y="522.89" width="9.52" height="2.36" fill="#f5f2f6"/>
<rect x="64.10" y="525.24" width="9.52" height="2.36" fill="#cac3e5"/>
<rect x="64.10" y="527.58" width="9.52" height="2.36" fill="#e1ddf0"/>
<rect x="64.10" y="529.93" width="9.52" height="2.36" fill="#f5f2f6"/>
<rect x="64.10" y="532.27" width="9.52" height="2.36" fill="#f5a38c"/>
<rect x="64.10" y="534.61" width="9.52" height="2.36" fill="#cac3e5"/>
<rect x="64.10" y="536.96" width="9.52" height="2.36" fill="#e1ddf0"/>
<rect x="64.10" y="539.30" width="9.52" height="2.36" fill="#cac3e5"/>
<rect x="64.10" y="541.65" width="9.52" height="4.71" fill="#a79dd5"/>
<rect x="64.10" y="546.33" width="9.52" height="2.36" fill="#f5f2f6"/>
<rect x="64.10" y="548.68" width="9.52" height="4.71" fill="#cac3e5"/>
<rect x="64.10" y="553.37" width="9.52" height="2.36" fill="#f5f2f6"/>
<rect x="64.10" y="555.71" width="9.52" height="2.36" fill="#e1ddf0"/>
<rect x="64.10" y="558.06" width="9.52" height="2.36" fill="#cac3e5"/>
<rect x="73.60" y="337.70" width="9.52" height="2.36" fill="#f8c5b5"/>
<rect x="73.60" y="340.04" width="9.52" height="2.36" fill="#e1ddf0"/>
<rect x="73.60" y="342.39" width="9.52" height="2.36" fill="#ee5a43"/>
<rect x="73.60" y="344.73" width="9.52" height="2.36" fill="#f8c5b5"/>
<rect x="73.60" y="347.08" width="9.52" height="2.36" fill="#f5a38c"/>
<rect x="73.60" y="349.42" width="9.52" height="2.36" fill="#ee5a43"/>
<rect x="73.60" y="351.77" width="9.52" height="2.36" fill="#f8c5b5"/>
<rect x="73.60" y="354.11" width="9.52" height="2.36" fill="#cac3e5"/>
<rect x="73.60" y="356.45" width="9.52" height="2.36" fill="#f28268"/>
<rect x="73.60" y="358.80" width="9.52" height="2.36" fill="#f8c5b5"/>
<rect x="73.60" y="361.14" width="9.52" height="2.36" fill="#f5a38c"/>
<rect x="73.60" y="363.49" width="9.52" height="2.36" fill="#7e73c2"/>
<rect x="73.60" y="365.83" width="9.52" height="2.36" fill="#f8c5b5"/>
<rect x="73.60" y="368.17" width="9.52" height="4.71" fill="#f28268"/>
<rect x="73.60" y="372.86" width="9.52" height="4.71" fill="#f5a38c"/>
<rect x="73.60" y="377.55" width="9.52" height="2.36" fill="#f28268"/>
<rect x="73.60" y="379.90" width="9.52" height="2.36" fill="#f5a38c"/>
<rect x="73.60" y="382.24" width="9.52" height="2.36" fill="#f8c5b5"/>
<rect x="73.60" y="384.58" width="9.52" height="4.71" fill="#f28268"/>
<rect x="73.60" y="389.27" width="9.52" height="7.05" fill="#f5a38c"/>
<rect x="73.60" y="396.31" width="9.52" height="4.71" fill="#ee5a43"/>
<rect x="73.60" y="400.99" width="9.52" height="4.71" fill="#f28268"/>
<rect x="73.60" y="405.68" width="9.52" height="2.36" fill="#f8c5b5"/>
<rect x="73.60" y="408.03" width="9.52" height="2.36" fill="#e1ddf0"/>
<rect x="73.60" y="410.37" width="9.52" height="2.36" fill="#f28268"/>
<rect x="73.60" y="412.71" width="9.52" height="2.36" fill="#f5a38c"/>
<rect x="73.60" y="415.06" width="9.52" height="2.36" fill="#ee5a43"/>
<rect x="73.60" y="417.40" width="9.52" height="2.36" fill="#e1ddf0"/>
<rect x="73.60" y="419.75" width="9.52" height="2.36" fill="#f5a38c"/>
<rect x="73.60" y="422.09" width="9.52" height="11.74" fill="#cac3e5"/>
<rect x="73.60" y="433.81" width="9.52" height="2.36" fill="#e1ddf0"/>
<rect x="73.60" y="436.16" width="9.52" height="2.36" fill="#cac3e5"/>
<rect x="73.60" y="438.50" width="9.52" height="2.36" fill="#f5f2f6"/>
<rect x="73.60" y="440.85" width="9.52" height="2.36" fill="#e1ddf0"/>
<rect x="73.60" y="443.19" width="9.52" height="4.71" fill="#f8c5b5"/>
<rect x="73.60" y="447.88" width="9.52" height="2.36" fill="#cac3e5"/>
<rect x="73.60" y="450.22" width="9.52" height="2.36" fill="#e1ddf0"/>
<rect x="73.60" y="452.57" width="9.52" height="2.36" fill="#cac3e5"/>
<rect x="73.60" y="454.91" width="9.52" height="2.36" fill="#fadfd5"/>
<rect x="73.60" y="457.25" width="9.52" height="4.71" fill="#cac3e5"/>
<rect x="73.60" y="461.94" width="9.52" height="2.36" fill="#a79dd5"/>
<rect x="73.60" y="464.29" width="9.52" height="4.71" fill="#cac3e5"/>
<rect x="73.60" y="468.98" width="9.52" height="2.36" fill="#f8c5b5"/>
<rect x="73.60" y="471.32" width="9.52" height="2.36" fill="#f5a38c"/>
<rect x="73.60" y="473.66" width="9.52" height="2.36" fill="#e1ddf0"/>
<rect x="73.60" y="476.01" width="9.52" height="2.36" fill="#cac3e5"/>
<rect x="73.60" y="478.35" width="9.52" height="2.36" fill="#fadfd5"/>
<rect x="73.60" y="480.70" width="9.52" height="2.36" fill="#cac3e5"/>
<rect x="73.60" y="483.04" width="9.52" height="2.36" fill="#a79dd5"/>
<rect x="73.60" y="485.39" width="9.52" height="2.36" fill="#f5f2f6"/>
<rect x="73.60" y="487.73" width="9.52" height="2.36" fill="#f5a38c"/>
<rect x="73.60" y="490.07" width="9.52" height="2.36" fill="#a79dd5"/>
<rect x="73.60" y="492.42" width="9.52" height="2.36" fill="#fadfd5"/>
<rect x="73.60" y="494.76" width="9.52" height="2.36" fill="#f5a38c"/>
<rect x="73.60" y="497.11" width="9.52" height="7.05" fill="#cac3e5"/>
<rect x="73.60" y="504.14" width="9.52" height="4.71" fill="#a79dd5"/>
<rect x="73.60" y="508.83" width="9.52" height="2.36" fill="#cac3e5"/>
<rect x="73.60" y="511.17" width="9.52" height="2.36" fill="#ee5a43"/>
<rect x="73.60" y="513.52" width="9.52" height="2.36" fill="#e1ddf0"/>
<rect x="73.60" y="515.86" width="9.52" height="2.36" fill="#ee5a43"/>
<rect x="73.60" y="518.20" width="9.52" height="2.36" fill="#e6312a"/>
<rect x="73.60" y="520.55" width="9.52" height="2.36" fill="#7e73c2"/>
<rect x="73.60" y="522.89" width="9.52" height="2.36" fill="#e1ddf0"/>
<rect x="73.60" y="525.24" width="9.52" height="2.36" fill="#7e73c2"/>
<rect x="73.60" y="527.58" width="9.52" height="2.36" fill="#e1ddf0"/>
<rect x="73.60" y="529.93" width="9.52" height="2.36" fill="#f5f2f6"/>
<rect x="73.60" y="532.27" width="9.52" height="2.36" fill="#a79dd5"/>
<rect x="73.60" y="534.61" width="9.52" height="2.36" fill="#cac3e5"/>
<rect x="73.60" y="536.96" width="9.52" height="2.36" fill="#e1ddf0"/>
<rect x="73.60" y="539.30" width="9.52" height="2.36" fill="#f5f2f6"/>
<rect x="73.60" y="541.65" width="9.52" height="2.36" fill="#e1ddf0"/>
<rect x="73.60" y="543.99" width="9.52" height="2.36" fill="#a79dd5"/>
<rect x="73.60" y="546.33" width="9.52" height="2.36" fill="#fadfd5"/>
<rect x="73.60" y="548.68" width="9.52" height="2.36" fill="#cac3e5"/>
<rect x="73.60" y="551.02" width="9.52" height="4.71" fill="#a79dd5"/>
<rect x="73.60" y="555.71" width="9.52" height="2.36" fill="#f5f2f6"/>
<rect x="73.60" y="558.06" width="9.52" height="2.36" fill="#e1ddf0"/>
<rect x="83.10" y="337.70" width="9.52" height="2.36" fill="#f8c5b5"/>
<rect x="83.10" y="340.04" width="9.52" height="2.36" fill="#f5a38c"/>
<rect x="83.10" y="342.39" width="9.52" height="2.36" fill="#cac3e5"/>
<rect x="83.10" y="344.73" width="9.52" height="2.36" fill="#f5f2f6"/>
<rect x="83.10" y="347.08" width="9.52" height="2.36" fill="#f5a38c"/>
<rect x="83.10" y="349.42" width="9.52" height="2.36" fill="#f8c5b5"/>
<rect x="83.10" y="351.77" width="9.52" height="2.36" fill="#f5a38c"/>
<rect x="83.10" y="354.11" width="9.52" height="2.36" fill="#ee5a43"/>
<rect x="83.10" y="356.45" width="9.52" height="2.36" fill="#f8c5b5"/>
<rect x="83.10" y="358.80" width="9.52" height="2.36" fill="#e1ddf0"/>
<rect x="83.10" y="361.14" width="9.52" height="7.05" fill="#f5a38c"/>
<rect x="83.10" y="368.17" width="9.52" height="2.36" fill="#f8c5b5"/>
<rect x="83.10" y="370.52" width="9.52" height="2.36" fill="#f28268"/>
<rect x="83.10" y="372.86" width="9.52" height="2.36" fill="#f5f2f6"/>
<rect x="83.10" y="375.21" width="9.52" height="2.36" fill="#f8c5b5"/>
<rect x="83.10" y="377.55" width="9.52" height="9.40" fill="#f5a38c"/>
<rect x="83.10" y="386.93" width="9.52" height="2.36" fill="#f5f2f6"/>
<rect x="83.10" y="389.27" width="9.52" height="2.36" fill="#f28268"/>
<rect x="83.10" y="391.62" width="9.52" height="9.40" fill="#f5a38c"/>
<rect x="83.10" y="400.99" width="9.52" height="2.36" fill="#e1ddf0"/>
<rect x="83.10" y="403.34" width="9.52" height="4.71" fill="#f5a38c"/>
<rect x="83.10" y="408.03" width="9.52" height="2.36" fill="#f5f2f6"/>
<rect x="83.10" y="410.37" width="9.52" height="4.71" fill="#f5a38c"/>
<rect x="83.10" y="415.06" width="9.52" height="2.36" fill="#f28268"/>
<rect x="83.10" y="417.40" width="9.52" height="2.36" fill="#f8c5b5"/>
<rect x="83.10" y="419.75" width="9.52" height="2.36" fill="#a79dd5"/>
<rect x="83.10" y="422.09" width="9.52" height="2.36" fill="#e1ddf0"/>
<rect x="83.10" y="424.44" width="9.52" height="2.36" fill="#f28268"/>
<rect x="83.10" y="426.78" width="9.52" height="2.36" fill="#cac3e5"/>
<rect x="83.10" y="429.12" width="9.52" height="2.36" fill="#e1ddf0"/>
<rect x="83.10" y="431.47" width="9.52" height="2.36" fill="#cac3e5"/>
<rect x="83.10" y="433.81" width="9.52" height="2.36" fill="#fadfd5"/>
<rect x="83.10" y="436.16" width="9.52" height="2.36" fill="#cac3e5"/>
<rect x="83.10" y="438.50" width="9.52" height="7.05" fill="#a79dd5"/>
<rect x="83.10" y="445.53" width="9.52" height="2.36" fill="#f5f2f6"/>
<rect x="83.10" y="447.88" width="9.52" height="2.36" fill="#cac3e5"/>
<rect x="83.10" y="450.22" width="9.52" height="2.36" fill="#e1ddf0"/>
<rect x="83.10" y="452.57" width="9.52" height="2.36" fill="#cac3e5"/>
<rect x="83.10" y="454.91" width="9.52" height="2.36" fill="#e1ddf0"/>
<rect x="83.10" y="457.25" width="9.52" height="2.36" fill="#f5f2f6"/>
<rect x="83.10" y="459.60" width="9.52" height="2.36" fill="#cac3e5"/>
<rect x="83.10" y="461.94" width="9.52" height="2.36" fill="#f5f2f6"/>
<rect x="83.10" y="464.29" width="9.52" height="4.71" fill="#a79dd5"/>
<rect x="83.10" y="468.98" width="9.52" height="2.36" fill="#cac3e5"/>
<rect x="83.10" y="471.32" width="9.52" height="2.36" fill="#a79dd5"/>
<rect x="83.10" y="473.66" width="9.52" height="2.36" fill="#4f59b0"/>
<rect x="83.10" y="476.01" width="9.52" height="4.71" fill="#cac3e5"/>
<rect x="83.10" y="480.70" width="9.52" height="2.36" fill="#a79dd5"/>
<rect x="83.10" y="483.04" width="9.52" height="2.36" fill="#e1ddf0"/>
<rect x="83.10" y="485.39" width="9.52" height="4.71" fill="#cac3e5"/>
<rect x="83.10" y="490.07" width="9.52" height="4.71" fill="#a79dd5"/>
<rect x="83.10" y="494.76" width="9.52" height="4.71" fill="#fadfd5"/>
<rect x="83.10" y="499.45" width="9.52" height="2.36" fill="#a79dd5"/>
<rect x="83.10" y="501.79" width="9.52" height="2.36" fill="#fadfd5"/>
<rect x="83.10" y="504.14" width="9.52" height="2.36" fill="#7e73c2"/>
<rect x="83.10" y="506.48" width="9.52" height="4.71" fill="#cac3e5"/>
<rect x="83.10" y="511.17" width="9.52" height="2.36" fill="#f5a38c"/>
<rect x="83.10" y="513.52" width="9.52" height="2.36" fill="#e1ddf0"/>
<rect x="83.10" y="515.86" width="9.52" height="2.36" fill="#cac3e5"/>
<rect x="83.10" y="518.20" width="9.52" height="4.71" fill="#fadfd5"/>
<rect x="83.10" y="522.89" width="9.52" height="4.71" fill="#e1ddf0"/>
<rect x="83.10" y="527.58" width="9.52" height="2.36" fill="#cac3e5"/>
<rect x="83.10" y="529.93" width="9.52" height="2.36" fill="#e1ddf0"/>
<rect x="83.10" y="532.27" width="9.52" height="2.36" fill="#a79dd5"/>
<rect x="83.10" y="534.61" width="9.52" height="2.36" fill="#cac3e5"/>
<rect x="83.10" y="536.96" width="9.52" height="2.36" fill="#a79dd5"/>
<rect x="83.10" y="539.30" width="9.52" height="2.36" fill="#e1ddf0"/>
<rect x="83.10" y="541.65" width="9.52" height="2.36" fill="#cac3e5"/>
<rect x="83.10" y="543.99" width="9.52" height="2.36" fill="#a79dd5"/>
<rect x="83.10" y="546.33" width="9.52" height="4.71" fill="#cac3e5"/>
<rect x="83.10" y="551.02" width="9.52" height="2.36" fill="#fadfd5"/>
<rect x="83.10" y="553.37" width="9.52" height="2.36" fill="#a79dd5"/>
<rect x="83.10" y="555.71" width="9.52" height="2.36" fill="#f5f2f6"/>
<rect x="83.10" y="558.06" width="9.52" height="2.36" fill="#cac3e5"/>
<rect x="92.60" y="337.70" width="9.52" height="2.36" fill="#fadfd5"/>
<rect x="92.60" y="340.04" width="9.52" height="2.36" fill="#f5a38c"/>
<rect x="92.60" y="342.39" width="9.52" height="2.36" fill="#f5f2f6"/>
<rect x="92.60" y="344.73" width="9.52" height="7.05" fill="#f8c5b5"/>
<rect x="92.60" y="351.77" width="9.52" height="2.36" fill="#f5f2f6"/>
<rect x="92.60" y="354.11" width="9.52" height="2.36" fill="#7e73c2"/>
<rect x="92.60" y="356.45" width="9.52" height="2.36" fill="#f8c5b5"/>
<rect x="92.60" y="358.80" width="9.52" height="4.71" fill="#e1ddf0"/>
<rect x="92.60" y="363.49" width="9.52" height="2.36" fill="#7e73c2"/>
<rect x="92.60" y="365.83" width="9.52" height="11.74" fill="#f8c5b5"/>
<rect x="92.60" y="377.55" width="9.52" height="2.36" fill="#f5f2f6"/>
<rect x="92.60" y="379.90" width="9.52" height="4.71" fill="#a79dd5"/>
<rect x="92.60" y="384.58" width="9.52" height="2.36" fill="#f8c5b5"/>
<rect x="92.60" y="386.93" width="9.52" height="2.36" fill="#e1ddf0"/>
<rect x="92.60" y="389.27" width="9.52" height="2.36" fill="#a79dd5"/>
<rect x="92.60" y="391.62" width="9.52" height="2.36" fill="#f5f2f6"/>
<rect x="92.60" y="393.96" width="9.52" height="2.36" fill="#cac3e5"/>
<rect x="92.60" y="396.31" width="9.52" height="4.71" fill="#fadfd5"/>
<rect x="92.60" y="400.99" width="9.52" height="9.40" fill="#cac3e5"/>
<rect x="92.60" y="410.37" width="9.52" height="2.36" fill="#7e73c2"/>
<rect x="92.60" y="412.71" width="9.52" height="2.36" fill="#cac3e5"/>
<rect x="92.60" y="415.06" width="9.52" height="2.36" fill="#a79dd5"/>
<rect x="92.60" y="417.40" width="9.52" height="2.36" fill="#f5f2f6"/>
<rect x="92.60" y="419.75" width="9.52" height="2.36" fill="#f28268"/>
<rect x="92.60" y="422.09" width="9.52" height="2.36" fill="#ee5a43"/>
<rect x="92.60" y="424.44" width="9.52" height="2.36" fill="#e1ddf0"/>
<rect x="92.60" y="426.78" width="9.52" height="2.36" fill="#cac3e5"/>
<rect x="92.60" y="429.12" width="9.52" height="2.36" fill="#e1ddf0"/>
<rect x="92.60" y="431.47" width="9.52" height="2.36" fill="#cac3e5"/>
<rect x="92.60" y="433.81" width="9.52" height="2.36" fill="#f5f2f6"/>
<rect x="92.60" y="436.16" width="9.52" height="4.71" fill="#cac3e5"/>
<rect x="92.60" y="440.85" width="9.52" height="2.36" fill="#f5a38c"/>
<rect x="92.60" y="443.19" width="9.52" height="2.36" fill="#cac3e5"/>
<rect x="92.60" y="445.53" width="9.52" height="4.71" fill="#7e73c2"/>
<rect x="92.60" y="450.22" width="9.52" height="7.05" fill="#cac3e5"/>
<rect x="92.60" y="457.25" width="9.52" height="2.36" fill="#f28268"/>
<rect x="92.60" y="459.60" width="9.52" height="2.36" fill="#cac3e5"/>
<rect x="92.60" y="461.94" width="9.52" height="2.36" fill="#a79dd5"/>
<rect x="92.60" y="464.29" width="9.52" height="2.36" fill="#cac3e5"/>
<rect x="92.60" y="466.63" width="9.52" height="2.36" fill="#f5f2f6"/>
<rect x="92.60" y="468.98" width="9.52" height="4.71" fill="#cac3e5"/>
<rect x="92.60" y="473.66" width="9.52" height="2.36" fill="#f5f2f6"/>
<rect x="92.60" y="476.01" width="9.52" height="4.71" fill="#cac3e5"/>
<rect x="92.60" y="480.70" width="9.52" height="2.36" fill="#f5f2f6"/>
<rect x="92.60" y="483.04" width="9.52" height="2.36" fill="#a79dd5"/>
<rect x="92.60" y="485.39" width="9.52" height="2.36" fill="#f5f2f6"/>
<rect x="92.60" y="487.73" width="9.52" height="2.36" fill="#e6312a"/>
<rect x="92.60" y="490.07" width="9.52" height="2.36" fill="#ee5a43"/>
<rect x="92.60" y="492.42" width="9.52" height="2.36" fill="#f5a38c"/>
<rect x="92.60" y="494.76" width="9.52" height="2.36" fill="#e1ddf0"/>
<rect x="92.60" y="497.11" width="9.52" height="2.36" fill="#cac3e5"/>
<rect x="92.60" y="499.45" width="9.52" height="2.36" fill="#a79dd5"/>
<rect x="92.60" y="501.79" width="9.52" height="2.36" fill="#cac3e5"/>
<rect x="92.60" y="504.14" width="9.52" height="2.36" fill="#e1ddf0"/>
<rect x="92.60" y="506.48" width="9.52" height="4.71" fill="#cac3e5"/>
<rect x="92.60" y="511.17" width="9.52" height="2.36" fill="#f5f2f6"/>
<rect x="92.60" y="513.52" width="9.52" height="2.36" fill="#ee5a43"/>
<rect x="92.60" y="515.86" width="9.52" height="2.36" fill="#e1ddf0"/>
<rect x="92.60" y="518.20" width="9.52" height="9.40" fill="#cac3e5"/>
<rect x="92.60" y="527.58" width="9.52" height="2.36" fill="#fadfd5"/>
<rect x="92.60" y="529.93" width="9.52" height="2.36" fill="#f5f2f6"/>
<rect x="92.60" y="532.27" width="9.52" height="2.36" fill="#fadfd5"/>
<rect x="92.60" y="534.61" width="9.52" height="2.36" fill="#cac3e5"/>
<rect x="92.60" y="536.96" width="9.52" height="2.36" fill="#fadfd5"/>
<rect x="92.60" y="539.30" width="9.52" height="2.36" fill="#cac3e5"/>
<rect x="92.60" y="541.65" width="9.52" height="2.36" fill="#f5f2f6"/>
<rect x="92.60" y="543.99" width="9.52" height="2.36" fill="#f8c5b5"/>
<rect x="92.60" y="546.33" width="9.52" height="2.36" fill="#f5f2f6"/>
<rect x="92.60" y="548.68" width="9.52" height="2.36" fill="#e1ddf0"/>
<rect x="92.60" y="551.02" width="9.52" height="2.36" fill="#f5a38c"/>
<rect x="92.60" y="553.37" width="9.52" height="2.36" fill="#ee5a43"/>
<rect x="92.60" y="555.71" width="9.52" height="2.36" fill="#4f59b0"/>
<rect x="92.60" y="558.06" width="9.52" height="2.36" fill="#cac3e5"/>
<rect x="102.10" y="337.70" width="9.52" height="2.36" fill="#f28268"/>
<rect x="102.10" y="340.04" width="9.52" height="2.36" fill="#f5a38c"/>
<rect x="102.10" y="342.39" width="9.52" height="4.71" fill="#f8c5b5"/>
<rect x="102.10" y="347.08" width="9.52" height="4.71" fill="#f5a38c"/>
<rect x="102.10" y="351.77" width="9.52" height="2.36" fill="#e6312a"/>
<rect x="102.10" y="354.11" width="9.52" height="2.36" fill="#f28268"/>
<rect x="102.10" y="356.45" width="9.52" height="2.36" fill="#f5a38c"/>
<rect x="102.10" y="358.80" width="9.52" height="2.36" fill="#f28268"/>
<rect x="102.10" y="361.14" width="9.52" height="4.71" fill="#f5a38c"/>
<rect x="102.10" y="365.83" width="9.52" height="2.36" fill="#a79dd5"/>
<rect x="102.10" y="368.17" width="9.52" height="2.36" fill="#e1ddf0"/>
<rect x="102.10" y="370.52" width="9.52" height="2.36" fill="#cac3e5"/>
<rect x="102.10" y="372.86" width="9.52" height="4.71" fill="#f8c5b5"/>
<rect x="102.10" y="377.55" width="9.52" height="4.71" fill="#f5a38c"/>
<rect x="102.10" y="382.24" width="9.52" height="2.36" fill="#f8c5b5"/>
<rect x="102.10" y="384.58" width="9.52" height="4.71" fill="#f5a38c"/>
<rect x="102.10" y="389.27" width="9.52" height="2.36" fill="#f28268"/>
<rect x="102.10" y="391.62" width="9.52" height="2.36" fill="#ee5a43"/>
<rect x="102.10" y="393.96" width="9.52" height="2.36" fill="#f5a38c"/>
<rect x="102.10" y="396.31" width="9.52" height="7.05" fill="#f28268"/>
<rect x="102.10" y="403.34" width="9.52" height="2.36" fill="#f5a38c"/>
<rect x="102.10" y="405.68" width="9.52" height="2.36" fill="#f28268"/>
<rect x="102.10" y="408.03" width="9.52" height="2.36" fill="#f5a38c"/>
<rect x="102.10" y="410.37" width="9.52" height="2.36" fill="#f5f2f6"/>
<rect x="102.10" y="412.71" width="9.52" height="4.71" fill="#cac3e5"/>
<rect x="102.10" y="417.40" width="9.52" height="2.36" fill="#f8c5b5"/>
<rect x="102.10" y="419.75" width="9.52" height="2.36" fill="#cac3e5"/>
<rect x="102.10" y="422.09" width="9.52" height="2.36" fill="#e1ddf0"/>
<rect x="102.10" y="424.44" width="9.52" height="4.71" fill="#cac3e5"/>
<rect x="102.10" y="429.12" width="9.52" height="2.36" fill="#e1ddf0"/>
<rect x="102.10" y="431.47" width="9.52" height="2.36" fill="#f5a38c"/>
<rect x="102.10" y="433.81" width="9.52" height="2.36" fill="#ee5a43"/>
<rect x="102.10" y="436.16" width="9.52" height="2.36" fill="#e1ddf0"/>
<rect x="102.10" y="438.50" width="9.52" height="2.36" fill="#f5a38c"/>
<rect x="102.10" y="440.85" width="9.52" height="2.36" fill="#cac3e5"/>
<rect x="102.10" y="443.19" width="9.52" height="2.36" fill="#f5a38c"/>
<rect x="102.10" y="445.53" width="9.52" height="2.36" fill="#cac3e5"/>
<rect x="102.10" y="447.88" width="9.52" height="2.36" fill="#f5f2f6"/>
<rect x="102.10" y="450.22" width="9.52" height="7.05" fill="#cac3e5"/>
<rect x="102.10" y="457.25" width="9.52" height="2.36" fill="#a79dd5"/>
<rect x="102.10" y="459.60" width="9.52" height="11.74" fill="#cac3e5"/>
<rect x="102.10" y="471.32" width="9.52" height="2.36" fill="#f5f2f6"/>
<rect x="102.10" y="473.66" width="9.52" height="2.36" fill="#a79dd5"/>
<rect x="102.10" y="476.01" width="9.52" height="2.36" fill="#cac3e5"/>
<rect x="102.10" y="478.35" width="9.52" height="4.71" fill="#e1ddf0"/>
<rect x="102.10" y="483.04" width="9.52" height="4.71" fill="#a79dd5"/>
<rect x="102.10" y="487.73" width="9.52" height="2.36" fill="#e1ddf0"/>
<rect x="102.10" y="490.07" width="9.52" height="2.36" fill="#7e73c2"/>
<rect x="102.10" y="492.42" width="9.52" height="2.36" fill="#f5f2f6"/>
<rect x="102.10" y="494.76" width="9.52" height="2.36" fill="#7e73c2"/>
<rect x="102.10" y="497.11" width="9.52" height="2.36" fill="#a79dd5"/>
<rect x="102.10" y="499.45" width="9.52" height="2.36" fill="#f5a38c"/>
<rect x="102.10" y="501.79" width="9.52" height="4.71" fill="#e1ddf0"/>
<rect x="102.10" y="506.48" width="9.52" height="2.36" fill="#fadfd5"/>
<rect x="102.10" y="508.83" width="9.52" height="2.36" fill="#cac3e5"/>
<rect x="102.10" y="511.17" width="9.52" height="2.36" fill="#f5a38c"/>
<rect x="102.10" y="513.52" width="9.52" height="4.71" fill="#cac3e5"/>
<rect x="102.10" y="518.20" width="9.52" height="2.36" fill="#fadfd5"/>
<rect x="102.10" y="520.55" width="9.52" height="4.71" fill="#e1ddf0"/>
<rect x="102.10" y="525.24" width="9.52" height="4.71" fill="#cac3e5"/>
<rect x="102.10" y="529.93" width="9.52" height="2.36" fill="#a79dd5"/>
<rect x="102.10" y="532.27" width="9.52" height="4.71" fill="#cac3e5"/>
<rect x="102.10" y="536.96" width="9.52" height="2.36" fill="#7e73c2"/>
<rect x="102.10" y="539.30" width="9.52" height="2.36" fill="#4f59b0"/>
<rect x="102.10" y="541.65" width="9.52" height="2.36" fill="#cac3e5"/>
<rect x="102.10" y="543.99" width="9.52" height="2.36" fill="#e1ddf0"/>
<rect x="102.10" y="546.33" width="9.52" height="2.36" fill="#fadfd5"/>
<rect x="102.10" y="548.68" width="9.52" height="2.36" fill="#e1ddf0"/>
<rect x="102.10" y="551.02" width="9.52" height="2.36" fill="#cac3e5"/>
<rect x="102.10" y="553.37" width="9.52" height="2.36" fill="#e1ddf0"/>
<rect x="102.10" y="555.71" width="9.52" height="2.36" fill="#4f59b0"/>
<rect x="102.10" y="558.06" width="9.52" height="2.36" fill="#cac3e5"/>
<rect x="111.60" y="337.70" width="9.52" height="2.36" fill="#e1ddf0"/>
<rect x="111.60" y="340.04" width="9.52" height="2.36" fill="#f5a38c"/>
<rect x="111.60" y="342.39" width="9.52" height="2.36" fill="#7e73c2"/>
<rect x="111.60" y="344.73" width="9.52" height="2.36" fill="#cac3e5"/>
<rect x="111.60" y="347.08" width="9.52" height="4.71" fill="#f8c5b5"/>
<rect x="111.60" y="351.77" width="9.52" height="2.36" fill="#7e73c2"/>
<rect x="111.60" y="354.11" width="9.52" height="2.36" fill="#cac3e5"/>
<rect x="111.60" y="356.45" width="9.52" height="2.36" fill="#f28268"/>
<rect x="111.60" y="358.80" width="9.52" height="2.36" fill="#ee5a43"/>
<rect x="111.60" y="361.14" width="9.52" height="2.36" fill="#f5f2f6"/>
<rect x="111.60" y="363.49" width="9.52" height="2.36" fill="#ee5a43"/>
<rect x="111.60" y="365.83" width="9.52" height="2.36" fill="#a79dd5"/>
<rect x="111.60" y="368.17" width="9.52" height="2.36" fill="#f5f2f6"/>
<rect x="111.60" y="370.52" width="9.52" height="2.36" fill="#f5a38c"/>
<rect x="111.60" y="372.86" width="9.52" height="2.36" fill="#e1ddf0"/>
<rect x="111.60" y="375.21" width="9.52" height="2.36" fill="#f8c5b5"/>
<rect x="111.60" y="377.55" width="9.52" height="2.36" fill="#f5a38c"/>
<rect x="111.60" y="379.90" width="9.52" height="2.36" fill="#f8c5b5"/>
<rect x="111.60" y="382.24" width="9.52" height="2.36" fill="#ee5a43"/>
<rect x="111.60" y="384.58" width="9.52" height="2.36" fill="#f8c5b5"/>
<rect x="111.60" y="386.93" width="9.52" height="2.36" fill="#ee5a43"/>
<rect x="111.60" y="389.27" width="9.52" height="2.36" fill="#f5a38c"/>
<rect x="111.60" y="391.62" width="9.52" height="2.36" fill="#ee5a43"/>
<rect x="111.60" y="393.96" width="9.52" height="2.36" fill="#f5f2f6"/>
<rect x="111.60" y="396.31" width="9.52" height="4.71" fill="#f5a38c"/>
<rect x="111.60" y="400.99" width="9.52" height="2.36" fill="#ee5a43"/>
<rect x="111.60" y="403.34" width="9.52" height="9.40" fill="#f5a38c"/>
<rect x="111.60" y="412.71" width="9.52" height="4.71" fill="#f28268"/>
<rect x="111.60" y="417.40" width="9.52" height="2.36" fill="#f5a38c"/>
<rect x="111.60" y="419.75" width="9.52" height="4.71" fill="#cac3e5"/>
<rect x="111.60" y="424.44" width="9.52" height="2.36" fill="#f5a38c"/>
<rect x="111.60" y="426.78" width="9.52" height="2.36" fill="#cac3e5"/>
<rect x="111.60" y="429.12" width="9.52" height="2.36" fill="#e1ddf0"/>
<rect x="111.60" y="431.47" width="9.52" height="2.36" fill="#cac3e5"/>
<rect x="111.60" y="433.81" width="9.52" height="2.36" fill="#a79dd5"/>
<rect x="111.60" y="436.16" width="9.52" height="2.36" fill="#fadfd5"/>
<rect x="111.60" y="438.50" width="9.52" height="2.36" fill="#a79dd5"/>
<rect x="111.60" y="440.85" width="9.52" height="2.36" fill="#e1ddf0"/>
<rect x="111.60" y="443.19" width="9.52" height="2.36" fill="#fadfd5"/>
<rect x="111.60" y="445.53" width="9.52" height="2.36" fill="#7e73c2"/>
<rect x="111.60" y="447.88" width="9.52" height="2.36" fill="#a79dd5"/>
<rect x="111.60" y="450.22" width="9.52" height="7.05" fill="#cac3e5"/>
<rect x="111.60" y="457.25" width="9.52" height="2.36" fill="#fadfd5"/>
<rect x="111.60" y="459.60" width="9.52" height="9.40" fill="#cac3e5"/>
<rect x="111.60" y="468.98" width="9.52" height="2.36" fill="#f5f2f6"/>
<rect x="111.60" y="471.32" width="9.52" height="2.36" fill="#cac3e5"/>
<rect x="111.60" y="473.66" width="9.52" height="2.36" fill="#e1ddf0"/>
<rect x="111.60" y="476.01" width="9.52" height="2.36" fill="#cac3e5"/>
<rect x="111.60" y="478.35" width="9.52" height="2.36" fill="#f5f2f6"/>
<rect x="111.60" y="480.70" width="9.52" height="2.36" fill="#cac3e5"/>
<rect x="111.60" y="483.04" width="9.52" height="4.71" fill="#a79dd5"/>
<rect x="111.60" y="487.73" width="9.52" height="2.36" fill="#cac3e5"/>
<rect x="111.60" y="490.07" width="9.52" height="4.71" fill="#a79dd5"/>
<rect x="111.60" y="494.76" width="9.52" height="2.36" fill="#cac3e5"/>
<rect x="111.60" y="497.11" width="9.52" height="2.36" fill="#e1ddf0"/>
<rect x="111.60" y="499.45" width="9.52" height="2.36" fill="#f5a38c"/>
<rect x="111.60" y="501.79" width="9.52" height="2.36" fill="#e1ddf0"/>
<rect x="111.60" y="504.14" width="9.52" height="2.36" fill="#a79dd5"/>
<rect x="111.60" y="506.48" width="9.52" height="2.36" fill="#f5a38c"/>
<rect x="111.60" y="508.83" width="9.52" height="2.36" fill="#cac3e5"/>
<rect x="111.60" y="511.17" width="9.52" height="2.36" fill="#fadfd5"/>
<rect x="111.60" y="513.52" width="9.52" height="2.36" fill="#cac3e5"/>
<rect x="111.60" y="515.86" width="9.52" height="2.36" fill="#f5a38c"/>
<rect x="111.60" y="518.20" width="9.52" height="2.36" fill="#e1ddf0"/>
<rect x="111.60" y="520.55" width="9.52" height="14.09" fill="#7e73c2"/>
<rect x="111.60" y="534.61" width="9.52" height="2.36" fill="#cac3e5"/>
<rect x="111.60" y="536.96" width="9.52" height="2.36" fill="#4f59b0"/>
<rect x="111.60" y="539.30" width="9.52" height="2.36" fill="#cac3e5"/>
<rect x="111.60" y="541.65" width="9.52" height="4.71" fill="#7e73c2"/>
<rect x="111.60" y="546.33" width="9.52" height="2.36" fill="#cac3e5"/>
<rect x="111.60" y="548.68" width="9.52" height="2.36" fill="#a79dd5"/>
<rect x="111.60" y="551.02" width="9.52" height="2.36" fill="#cac3e5"/>
<rect x="111.60" y="553.37" width="9.52" height="2.36" fill="#e1ddf0"/>
<rect x="111.60" y="555.71" width="9.52" height="2.36" fill="#fadfd5"/>
<rect x="111.60" y="558.06" width="9.52" height="2.36" fill="#cac3e5"/>
<rect x="121.10" y="337.70" width="9.52" height="4.71" fill="#f8c5b5"/>
<rect x="121.10" y="342.39" width="9.52" height="2.36" fill="#7e73c2"/>
<rect x="121.10" y="344.73" width="9.52" height="2.36" fill="#e1ddf0"/>
<rect x="121.10" y="347.08" width="9.52" height="2.36" fill="#a79dd5"/>
<rect x="121.10" y="349.42" width="9.52" height="2.36" fill="#cac3e5"/>
<rect x="121.10" y="351.77" width="9.52" height="2.36" fill="#f5f2f6"/>
<rect x="121.10" y="354.11" width="9.52" height="2.36" fill="#a79dd5"/>
<rect x="121.10" y="356.45" width="9.52" height="2.36" fill="#ee5a43"/>
<rect x="121.10" y="358.80" width="9.52" height="2.36" fill="#f8c5b5"/>
<rect x="121.10" y="361.14" width="9.52" height="2.36" fill="#f5a38c"/>
<rect x="121.10" y="363.49" width="9.52" height="2.36" fill="#ee5a43"/>
<rect x="121.10" y="365.83" width="9.52" height="4.71" fill="#f8c5b5"/>
<rect x="121.10" y="370.52" width="9.52" height="4.71" fill="#fadfd5"/>
<rect x="121.10" y="375.21" width="9.52" height="2.36" fill="#f5a38c"/>
<rect x="121.10" y="377.55" width="9.52" height="2.36" fill="#f28268"/>
<rect x="121.10" y="379.90" width="9.52" height="2.36" fill="#f8c5b5"/>
<rect x="121.10" y="382.24" width="9.52" height="2.36" fill="#f5a38c"/>
<rect x="121.10" y="384.58" width="9.52" height="2.36" fill="#fadfd5"/>
<rect x="121.10" y="386.93" width="9.52" height="2.36" fill="#f8c5b5"/>
<rect x="121.10" y="389.27" width="9.52" height="2.36" fill="#f5a38c"/>
<rect x="121.10" y="391.62" width="9.52" height="2.36" fill="#ee5a43"/>
<rect x="121.10" y="393.96" width="9.52" height="4.71" fill="#f5a38c"/>
<rect x="121.10" y="398.65" width="9.52" height="2.36" fill="#f8c5b5"/>
<rect x="121.10" y="400.99" width="9.52" height="2.36" fill="#f5f2f6"/>
<rect x="121.10" y="403.34" width="9.52" height="2.36" fill="#f28268"/>
<rect x="121.10" y="405.68" width="9.52" height="4.71" fill="#f5a38c"/>
<rect x="121.10" y="410.37" width="9.52" height="2.36" fill="#f5f2f6"/>
<rect x="121.10" y="412.71" width="9.52" height="4.71" fill="#f5a38c"/>
<rect x="121.10" y="417.40" width="9.52" height="2.36" fill="#f8c5b5"/>
<rect x="121.10" y="419.75" width="9.52" height="2.36" fill="#cac3e5"/>
<rect x="121.10" y="422.09" width="9.52" height="2.36" fill="#e1ddf0"/>
<rect x="121.10" y="424.44" width="9.52" height="2.36" fill="#cac3e5"/>
<rect x="121.10" y="426.78" width="9.52" height="2.36" fill="#ee5a43"/>
<rect x="121.10" y="429.12" width="9.52" height="2.36" fill="#e1ddf0"/>
<rect x="121.10" y="431.47" width="9.52" height="4.71" fill="#cac3e5"/>
<rect x="121.10" y="436.16" width="9.52" height="2.36" fill="#f5f2f6"/>
<rect x="121.10" y="438.50" width="9.52" height="2.36" fill="#f8c5b5"/>
<rect x="121.10" y="440.85" width="9.52" height="2.36" fill="#ee5a43"/>
<rect x="121.10" y="443.19" width="9.52" height="2.36" fill="#cac3e5"/>
<rect x="121.10" y="445.53" width="9.52" height="2.36" fill="#f28268"/>
<rect x="121.10" y="447.88" width="9.52" height="25.81" fill="#cac3e5"/>
<rect x="121.10" y="473.66" width="9.52" height="2.36" fill="#f8c5b5"/>
<rect x="121.10" y="476.01" width="9.52" height="2.36" fill="#cac3e5"/>
<rect x="121.10" y="478.35" width="9.52" height="2.36" fill="#f5f2f6"/>
<rect x="121.10" y="480.70" width="9.52" height="2.36" fill="#cac3e5"/>
<rect x="121.10" y="483.04" width="9.52" height="2.36" fill="#fadfd5"/>
<rect x="121.10" y="485.39" width="9.52" height="2.36" fill="#f5f2f6"/>
<rect x="121.10" y="487.73" width="9.52" height="2.36" fill="#cac3e5"/>
<rect x="121.10" y="490.07" width="9.52" height="2.36" fill="#a79dd5"/>
<rect x="121.10" y="492.42" width="9.52" height="2.36" fill="#cac3e5"/>
<rect x="121.10" y="494.76" width="9.52" height="4.71" fill="#f5a38c"/>
<rect x="121.10" y="499.45" width="9.52" height="4.71" fill="#e1ddf0"/>
<rect x="121.10" y="504.14" width="9.52" height="2.36" fill="#f28268"/>
<rect x="121.10" y="506.48" width="9.52" height="2.36" fill="#f8c5b5"/>
<rect x="121.10" y="508.83" width="9.52" height="2.36" fill="#cac3e5"/>
<rect x="121.10" y="511.17" width="9.52" height="2.36" fill="#e1ddf0"/>
<rect x="121.10" y="513.52" width="9.52" height="4.71" fill="#cac3e5"/>
<rect x="121.10" y="518.20" width="9.52" height="2.36" fill="#f5f2f6"/>
<rect x="121.10" y="520.55" width="9.52" height="4.71" fill="#f5a38c"/>
<rect x="121.10" y="525.24" width="9.52" height="2.36" fill="#f28268"/>
<rect x="121.10" y="527.58" width="9.52" height="2.36" fill="#e1ddf0"/>
<rect x="121.10" y="529.93" width="9.52" height="4.71" fill="#f5a38c"/>
<rect x="121.10" y="534.61" width="9.52" height="2.36" fill="#f5f2f6"/>
<rect x="121.10" y="536.96" width="9.52" height="2.36" fill="#f5a38c"/>
<rect x="121.10" y="539.30" width="9.52" height="2.36" fill="#f28268"/>
<rect x="121.10" y="541.65" width="9.52" height="2.36" fill="#f5f2f6"/>
<rect x="121.10" y="543.99" width="9.52" height="4.71" fill="#f5a38c"/>
<rect x="121.10" y="548.68" width="9.52" height="2.36" fill="#f8c5b5"/>
<rect x="121.10" y="551.02" width="9.52" height="4.71" fill="#cac3e5"/>
<rect x="121.10" y="555.71" width="9.52" height="2.36" fill="#e1ddf0"/>
<rect x="121.10" y="558.06" width="9.52" height="2.36" fill="#cac3e5"/>
<rect x="130.60" y="337.70" width="9.52" height="2.36" fill="#f5f2f6"/>
<rect x="130.60" y="340.04" width="9.52" height="2.36" fill="#f28268"/>
<rect x="130.60" y="342.39" width="9.52" height="2.36" fill="#e1ddf0"/>
<rect x="130.60" y="344.73" width="9.52" height="9.40" fill="#f5a38c"/>
<rect x="130.60" y="354.11" width="9.52" height="2.36" fill="#ee5a43"/>
<rect x="130.60" y="356.45" width="9.52" height="4.71" fill="#f8c5b5"/>
<rect x="130.60" y="361.14" width="9.52" height="2.36" fill="#e1ddf0"/>
<rect x="130.60" y="363.49" width="9.52" height="2.36" fill="#f5f2f6"/>
<rect x="130.60" y="365.83" width="9.52" height="9.40" fill="#f28268"/>
<rect x="130.60" y="375.21" width="9.52" height="4.71" fill="#a79dd5"/>
<rect x="130.60" y="379.90" width="9.52" height="2.36" fill="#cac3e5"/>
<rect x="130.60" y="382.24" width="9.52" height="4.71" fill="#f5a38c"/>
<rect x="130.60" y="386.93" width="9.52" height="2.36" fill="#e1ddf0"/>
<rect x="130.60" y="389.27" width="9.52" height="4.71" fill="#a79dd5"/>
<rect x="130.60" y="393.96" width="9.52" height="2.36" fill="#e1ddf0"/>
<rect x="130.60" y="396.31" width="9.52" height="4.71" fill="#a79dd5"/>
<rect x="130.60" y="400.99" width="9.52" height="2.36" fill="#cac3e5"/>
<rect x="130.60" y="403.34" width="9.52" height="4.71" fill="#a79dd5"/>
<rect x="130.60" y="408.03" width="9.52" height="2.36" fill="#cac3e5"/>
<rect x="130.60" y="410.37" width="9.52" height="2.36" fill="#a79dd5"/>
<rect x="130.60" y="412.71" width="9.52" height="2.36" fill="#f5a38c"/>
<rect x="130.60" y="415.06" width="9.52" height="2.36" fill="#7e73c2"/>
<rect x="130.60" y="417.40" width="9.52" height="2.36" fill="#fadfd5"/>
<rect x="130.60" y="419.75" width="9.52" height="2.36" fill="#a79dd5"/>
<rect x="130.60" y="422.09" width="9.52" height="9.40" fill="#cac3e5"/>
<rect x="130.60" y="431.47" width="9.52" height="2.36" fill="#e1ddf0"/>
<rect x="130.60" y="433.81" width="9.52" height="2.36" fill="#f5f2f6"/>
<rect x="130.60" y="436.16" width="9.52" height="4.71" fill="#cac3e5"/>
<rect x="130.60" y="440.85" width="9.52" height="2.36" fill="#ee5a43"/>
<rect x="130.60" y="443.19" width="9.52" height="2.36" fill="#a79dd5"/>
<rect x="130.60" y="445.53" width="9.52" height="2.36" fill="#f5a38c"/>
<rect x="130.60" y="447.88" width="9.52" height="2.36" fill="#f28268"/>
<rect x="130.60" y="450.22" width="9.52" height="2.36" fill="#f5f2f6"/>
<rect x="130.60" y="452.57" width="9.52" height="4.71" fill="#cac3e5"/>
<rect x="130.60" y="457.25" width="9.52" height="2.36" fill="#f5a38c"/>
<rect x="130.60" y="459.60" width="9.52" height="4.71" fill="#ee5a43"/>
<rect x="130.60" y="464.29" width="9.52" height="2.36" fill="#e6312a"/>
<rect x="130.60" y="466.63" width="9.52" height="2.36" fill="#f5f2f6"/>
<rect x="130.60" y="468.98" width="9.52" height="4.71" fill="#cac3e5"/>
<rect x="130.60" y="473.66" width="9.52" height="2.36" fill="#7e73c2"/>
<rect x="130.60" y="476.01" width="9.52" height="2.36" fill="#f5f2f6"/>
<rect x="130.60" y="478.35" width="9.52" height="2.36" fill="#cac3e5"/>
<rect x="130.60" y="480.70" width="9.52" height="4.71" fill="#e1ddf0"/>
<rect x="130.60" y="485.39" width="9.52" height="2.36" fill="#f5f2f6"/>
<rect x="130.60" y="487.73" width="9.52" height="2.36" fill="#cac3e5"/>
<rect x="130.60" y="490.07" width="9.52" height="2.36" fill="#f5a38c"/>
<rect x="130.60" y="492.42" width="9.52" height="2.36" fill="#a79dd5"/>
<rect x="130.60" y="494.76" width="9.52" height="2.36" fill="#fadfd5"/>
<rect x="130.60" y="497.11" width="9.52" height="2.36" fill="#e1ddf0"/>
<rect x="130.60" y="499.45" width="9.52" height="2.36" fill="#cac3e5"/>
<rect x="130.60" y="501.79" width="9.52" height="2.36" fill="#e1ddf0"/>
<rect x="130.60" y="504.14" width="9.52" height="4.71" fill="#a79dd5"/>
<rect x="130.60" y="508.83" width="9.52" height="2.36" fill="#fadfd5"/>
<rect x="130.60" y="511.17" width="9.52" height="2.36" fill="#f5f2f6"/>
<rect x="130.60" y="513.52" width="9.52" height="2.36" fill="#cac3e5"/>
<rect x="130.60" y="515.86" width="9.52" height="2.36" fill="#f5a38c"/>
<rect x="130.60" y="518.20" width="9.52" height="2.36" fill="#e1ddf0"/>
<rect x="130.60" y="520.55" width="9.52" height="2.36" fill="#f5f2f6"/>
<rect x="130.60" y="522.89" width="9.52" height="2.36" fill="#cac3e5"/>
<rect x="130.60" y="525.24" width="9.52" height="2.36" fill="#a79dd5"/>
<rect x="130.60" y="527.58" width="9.52" height="2.36" fill="#fadfd5"/>
<rect x="130.60" y="529.93" width="9.52" height="4.71" fill="#e1ddf0"/>
<rect x="130.60" y="534.61" width="9.52" height="2.36" fill="#cac3e5"/>
<rect x="130.60" y="536.96" width="9.52" height="2.36" fill="#f5f2f6"/>
<rect x="130.60" y="539.30" width="9.52" height="4.71" fill="#e1ddf0"/>
<rect x="130.60" y="543.99" width="9.52" height="2.36" fill="#cac3e5"/>
<rect x="130.60" y="546.33" width="9.52" height="2.36" fill="#a79dd5"/>
<rect x="130.60" y="548.68" width="9.52" height="2.36" fill="#7e73c2"/>
<rect x="130.60" y="551.02" width="9.52" height="2.36" fill="#f5f2f6"/>
<rect x="130.60" y="553.37" width="9.52" height="2.36" fill="#cac3e5"/>
<rect x="130.60" y="555.71" width="9.52" height="2.36" fill="#fadfd5"/>
<rect x="130.60" y="558.06" width="9.52" height="2.36" fill="#cac3e5"/>
<rect x="140.10" y="337.70" width="9.52" height="2.36" fill="#f8c5b5"/>
<rect x="140.10" y="340.04" width="9.52" height="2.36" fill="#f5a38c"/>
<rect x="140.10" y="342.39" width="9.52" height="2.36" fill="#7e73c2"/>
<rect x="140.10" y="344.73" width="9.52" height="2.36" fill="#f8c5b5"/>
<rect x="140.10" y="347.08" width="9.52" height="2.36" fill="#cac3e5"/>
<rect x="140.10" y="349.42" width="9.52" height="4.71" fill="#e1ddf0"/>
<rect x="140.10" y="354.11" width="9.52" height="2.36" fill="#cac3e5"/>
<rect x="140.10" y="356.45" width="9.52" height="7.05" fill="#f5a38c"/>
<rect x="140.10" y="363.49" width="9.52" height="2.36" fill="#f28268"/>
<rect x="140.10" y="365.83" width="9.52" height="7.05" fill="#e1ddf0"/>
<rect x="140.10" y="372.86" width="9.52" height="2.36" fill="#f8c5b5"/>
<rect x="140.10" y="375.21" width="9.52" height="2.36" fill="#f28268"/>
<rect x="140.10" y="377.55" width="9.52" height="11.74" fill="#f5a38c"/>
<rect x="140.10" y="389.27" width="9.52" height="2.36" fill="#f28268"/>
<rect x="140.10" y="391.62" width="9.52" height="2.36" fill="#f5a38c"/>
<rect x="140.10" y="393.96" width="9.52" height="7.05" fill="#e1ddf0"/>
<rect x="140.10" y="400.99" width="9.52" height="2.36" fill="#f28268"/>
<rect x="140.10" y="403.34" width="9.52" height="4.71" fill="#f5a38c"/>
<rect x="140.10" y="408.03" width="9.52" height="2.36" fill="#e1ddf0"/>
<rect x="140.10" y="410.37" width="9.52" height="4.71" fill="#f5a38c"/>
<rect x="140.10" y="415.06" width="9.52" height="2.36" fill="#f8c5b5"/>
<rect x="140.10" y="417.40" width="9.52" height="2.36" fill="#f28268"/>
<rect x="140.10" y="419.75" width="9.52" height="2.36" fill="#cac3e5"/>
<rect x="140.10" y="422.09" width="9.52" height="2.36" fill="#e1ddf0"/>
<rect x="140.10" y="424.44" width="9.52" height="2.36" fill="#f5f2f6"/>
<rect x="140.10" y="426.78" width="9.52" height="2.36" fill="#cac3e5"/>
<rect x="140.10" y="429.12" width="9.52" height="2.36" fill="#e1ddf0"/>
<rect x="140.10" y="431.47" width="9.52" height="2.36" fill="#cac3e5"/>
<rect x="140.10" y="433.81" width="9.52" height="2.36" fill="#f5a38c"/>
<rect x="140.10" y="436.16" width="9.52" height="4.71" fill="#cac3e5"/>
<rect x="140.10" y="440.85" width="9.52" height="2.36" fill="#f5f2f6"/>
<rect x="140.10" y="443.19" width="9.52" height="2.36" fill="#ee5a43"/>
<rect x="140.10" y="445.53" width="9.52" height="2.36" fill="#f8c5b5"/>
<rect x="140.10" y="447.88" width="9.52" height="2.36" fill="#f5a38c"/>
<rect x="140.10" y="450.22" width="9.52" height="7.05" fill="#cac3e5"/>
<rect x="140.10" y="457.25" width="9.52" height="2.36" fill="#fadfd5"/>
<rect x="140.10" y="459.60" width="9.52" height="2.36" fill="#cac3e5"/>
<rect x="140.10" y="461.94" width="9.52" height="2.36" fill="#f5f2f6"/>
<rect x="140.10" y="464.29" width="9.52" height="7.05" fill="#cac3e5"/>
<rect x="140.10" y="471.32" width="9.52" height="4.71" fill="#a79dd5"/>
<rect x="140.10" y="476.01" width="9.52" height="2.36" fill="#e1ddf0"/>
<rect x="140.10" y="478.35" width="9.52" height="2.36" fill="#f5a38c"/>
<rect x="140.10" y="480.70" width="9.52" height="2.36" fill="#cac3e5"/>
<rect x="140.10" y="483.04" width="9.52" height="2.36" fill="#e1ddf0"/>
<rect x="140.10" y="485.39" width="9.52" height="2.36" fill="#f5f2f6"/>
<rect x="140.10" y="487.73" width="9.52" height="2.36" fill="#cac3e5"/>
<rect x="140.10" y="490.07" width="9.52" height="2.36" fill="#a79dd5"/>
<rect x="140.10" y="492.42" width="9.52" height="2.36" fill="#cac3e5"/>
<rect x="140.10" y="494.76" width="9.52" height="2.36" fill="#e1ddf0"/>
<rect x="140.10" y="497.11" width="9.52" height="2.36" fill="#f5a38c"/>
<rect x="140.10" y="499.45" width="9.52" height="4.71" fill="#cac3e5"/>
<rect x="140.10" y="504.14" width="9.52" height="2.36" fill="#f5a38c"/>
<rect x="140.10" y="506.48" width="9.52" height="2.36" fill="#f8c5b5"/>
<rect x="140.10" y="508.83" width="9.52" height="7.05" fill="#cac3e5"/>
<rect x="140.10" y="515.86" width="9.52" height="2.36" fill="#a79dd5"/>
<rect x="140.10" y="518.20" width="9.52" height="2.36" fill="#e1ddf0"/>
<rect x="140.10" y="520.55" width="9.52" height="4.71" fill="#f5a38c"/>
<rect x="140.10" y="525.24" width="9.52" height="2.36" fill="#f5f2f6"/>
<rect x="140.10" y="527.58" width="9.52" height="2.36" fill="#a79dd5"/>
<rect x="140.10" y="529.93" width="9.52" height="2.36" fill="#e1ddf0"/>
<rect x="140.10" y="532.27" width="9.52" height="2.36" fill="#cac3e5"/>
<rect x="140.10" y="534.61" width="9.52" height="2.36" fill="#fadfd5"/>
<rect x="140.10" y="536.96" width="9.52" height="2.36" fill="#cac3e5"/>
<rect x="140.10" y="539.30" width="9.52" height="7.05" fill="#a79dd5"/>
<rect x="140.10" y="546.33" width="9.52" height="2.36" fill="#f5f2f6"/>
<rect x="140.10" y="548.68" width="9.52" height="7.05" fill="#cac3e5"/>
<rect x="140.10" y="555.71" width="9.52" height="2.36" fill="#7e73c2"/>
<rect x="140.10" y="558.06" width="9.52" height="2.36" fill="#f5f2f6"/>
<rect x="151.20" y="337.70" width="9.52" height="2.36" fill="#cac3e5"/>
<rect x="151.20" y="340.04" width="9.52" height="2.36" fill="#f5a38c"/>
<rect x="151.20" y="342.39" width="9.52" height="2.36" fill="#ee5a43"/>
<rect x="151.20" y="344.73" width="9.52" height="2.36" fill="#f5a38c"/>
<rect x="151.20" y="347.08" width="9.52" height="4.71" fill="#cac3e5"/>
<rect x="151.20" y="351.77" width="9.52" height="2.36" fill="#7e73c2"/>
<rect x="151.20" y="354.11" width="9.52" height="2.36" fill="#a79dd5"/>
<rect x="151.20" y="356.45" width="9.52" height="2.36" fill="#cac3e5"/>
<rect x="151.20" y="358.80" width="9.52" height="2.36" fill="#7e73c2"/>
<rect x="151.20" y="361.14" width="9.52" height="2.36" fill="#fadfd5"/>
<rect x="151.20" y="363.49" width="9.52" height="2.36" fill="#e1ddf0"/>
<rect x="151.20" y="365.83" width="9.52" height="2.36" fill="#7e73c2"/>
<rect x="151.20" y="368.17" width="9.52" height="2.36" fill="#cac3e5"/>
<rect x="151.20" y="370.52" width="9.52" height="2.36" fill="#e1ddf0"/>
<rect x="151.20" y="372.86" width="9.52" height="2.36" fill="#a79dd5"/>
<rect x="151.20" y="375.21" width="9.52" height="2.36" fill="#f5f2f6"/>
<rect x="151.20" y="377.55" width="9.52" height="2.36" fill="#f5a38c"/>
<rect x="151.20" y="379.90" width="9.52" height="4.71" fill="#f5f2f6"/>
<rect x="151.20" y="384.58" width="9.52" height="2.36" fill="#f5a38c"/>
<rect x="151.20" y="386.93" width="9.52" height="2.36" fill="#f5f2f6"/>
<rect x="151.20" y="389.27" width="9.52" height="2.36" fill="#f5a38c"/>
<rect x="151.20" y="391.62" width="9.52" height="2.36" fill="#e1ddf0"/>
<rect x="151.20" y="393.96" width="9.52" height="2.36" fill="#ee5a43"/>
<rect x="151.20" y="396.31" width="9.52" height="11.74" fill="#f5a38c"/>
<rect x="151.20" y="408.03" width="9.52" height="2.36" fill="#ee5a43"/>
<rect x="151.20" y="410.37" width="9.52" height="2.36" fill="#f28268"/>
<rect x="151.20" y="412.71" width="9.52" height="2.36" fill="#f8c5b5"/>
<rect x="151.20" y="415.06" width="9.52" height="2.36" fill="#f28268"/>
<rect x="151.20" y="417.40" width="9.52" height="2.36" fill="#f5f2f6"/>
<rect x="151.20" y="419.75" width="9.52" height="2.36" fill="#f28268"/>
<rect x="151.20" y="422.09" width="9.52" height="4.71" fill="#e6312a"/>
<rect x="151.20" y="426.78" width="9.52" height="4.71" fill="#e1ddf0"/>
<rect x="151.20" y="431.47" width="9.52" height="2.36" fill="#f5a38c"/>
<rect x="151.20" y="433.81" width="9.52" height="4.71" fill="#e1ddf0"/>
<rect x="151.20" y="438.50" width="9.52" height="2.36" fill="#f5a38c"/>
<rect x="151.20" y="440.85" width="9.52" height="2.36" fill="#a79dd5"/>
<rect x="151.20" y="443.19" width="9.52" height="2.36" fill="#cac3e5"/>
<rect x="151.20" y="445.53" width="9.52" height="2.36" fill="#7e73c2"/>
<rect x="151.20" y="447.88" width="9.52" height="2.36" fill="#f5f2f6"/>
<rect x="151.20" y="450.22" width="9.52" height="18.77" fill="#cac3e5"/>
<rect x="151.20" y="468.98" width="9.52" height="2.36" fill="#fadfd5"/>
<rect x="151.20" y="471.32" width="9.52" height="2.36" fill="#a79dd5"/>
<rect x="151.20" y="473.66" width="9.52" height="9.40" fill="#cac3e5"/>
<rect x="151.20" y="483.04" width="9.52" height="4.71" fill="#a79dd5"/>
<rect x="151.20" y="487.73" width="9.52" height="2.36" fill="#cac3e5"/>
<rect x="151.20" y="490.07" width="9.52" height="4.71" fill="#a79dd5"/>
<rect x="151.20" y="494.76" width="9.52" height="2.36" fill="#f5f2f6"/>
<rect x="151.20" y="497.11" width="9.52" height="2.36" fill="#e1ddf0"/>
<rect x="151.20" y="499.45" width="9.52" height="2.36" fill="#fadfd5"/>
<rect x="151.20" y="501.79" width="9.52" height="2.36" fill="#e1ddf0"/>
<rect x="151.20" y="504.14" width="9.52" height="2.36" fill="#7e73c2"/>
<rect x="151.20" y="506.48" width="9.52" height="2.36" fill="#fadfd5"/>
<rect x="151.20" y="508.83" width="9.52" height="2.36" fill="#a79dd5"/>
<rect x="151.20" y="511.17" width="9.52" height="2.36" fill="#f8c5b5"/>
<rect x="151.20" y="513.52" width="9.52" height="2.36" fill="#e1ddf0"/>
<rect x="151.20" y="515.86" width="9.52" height="2.36" fill="#cac3e5"/>
<rect x="151.20" y="518.20" width="9.52" height="2.36" fill="#e1ddf0"/>
<rect x="151.20" y="520.55" width="9.52" height="2.36" fill="#cac3e5"/>
<rect x="151.20" y="522.89" width="9.52" height="2.36" fill="#7e73c2"/>
<rect x="151.20" y="525.24" width="9.52" height="2.36" fill="#a79dd5"/>
<rect x="151.20" y="527.58" width="9.52" height="7.05" fill="#e1ddf0"/>
<rect x="151.20" y="534.61" width="9.52" height="2.36" fill="#7e73c2"/>
<rect x="151.20" y="536.96" width="9.52" height="2.36" fill="#e1ddf0"/>
<rect x="151.20" y="539.30" width="9.52" height="4.71" fill="#a79dd5"/>
<rect x="151.20" y="543.99" width="9.52" height="4.71" fill="#e1ddf0"/>
<rect x="151.20" y="548.68" width="9.52" height="2.36" fill="#f5a38c"/>
<rect x="151.20" y="551.02" width="9.52" height="7.05" fill="#cac3e5"/>
<rect x="151.20" y="558.06" width="9.52" height="2.36" fill="#e1ddf0"/>
<rect x="160.70" y="337.70" width="9.52" height="2.36" fill="#fadfd5"/>
<rect x="160.70" y="340.04" width="9.52" height="2.36" fill="#4f59b0"/>
<rect x="160.70" y="342.39" width="9.52" height="2.36" fill="#f5f2f6"/>
<rect x="160.70" y="344.73" width="9.52" height="2.36" fill="#ee5a43"/>
<rect x="160.70" y="347.08" width="9.52" height="2.36" fill="#cac3e5"/>
<rect x="160.70" y="349.42" width="9.52" height="2.36" fill="#e1ddf0"/>
<rect x="160.70" y="351.77" width="9.52" height="4.71" fill="#a79dd5"/>
<rect x="160.70" y="356.45" width="9.52" height="2.36" fill="#cac3e5"/>
<rect x="160.70" y="358.80" width="9.52" height="2.36" fill="#e1ddf0"/>
<rect x="160.70" y="361.14" width="9.52" height="2.36" fill="#f8c5b5"/>
<rect x="160.70" y="363.49" width="9.52" height="2.36" fill="#f28268"/>
<rect x="160.70" y="365.83" width="9.52" height="2.36" fill="#cac3e5"/>
<rect x="160.70" y="368.17" width="9.52" height="2.36" fill="#e1ddf0"/>
<rect x="160.70" y="370.52" width="9.52" height="2.36" fill="#cac3e5"/>
<rect x="160.70" y="372.86" width="9.52" height="2.36" fill="#7e73c2"/>
<rect x="160.70" y="375.21" width="9.52" height="2.36" fill="#e1ddf0"/>
<rect x="160.70" y="377.55" width="9.52" height="2.36" fill="#f5f2f6"/>
<rect x="160.70" y="379.90" width="9.52" height="2.36" fill="#cac3e5"/>
<rect x="160.70" y="382.24" width="9.52" height="2.36" fill="#f8c5b5"/>
<rect x="160.70" y="384.58" width="9.52" height="2.36" fill="#e1ddf0"/>
<rect x="160.70" y="386.93" width="9.52" height="2.36" fill="#cac3e5"/>
<rect x="160.70" y="389.27" width="9.52" height="2.36" fill="#f8c5b5"/>
<rect x="160.70" y="391.62" width="9.52" height="2.36" fill="#f5f2f6"/>
<rect x="160.70" y="393.96" width="9.52" height="9.40" fill="#f5a38c"/>
<rect x="160.70" y="403.34" width="9.52" height="2.36" fill="#f8c5b5"/>
<rect x="160.70" y="405.68" width="9.52" height="2.36" fill="#f5a38c"/>
<rect x="160.70" y="408.03" width="9.52" height="2.36" fill="#f28268"/>
<rect x="160.70" y="410.37" width="9.52" height="2.36" fill="#f8c5b5"/>
<rect x="160.70" y="412.71" width="9.52" height="4.71" fill="#f28268"/>
<rect x="160.70" y="417.40" width="9.52" height="2.36" fill="#f5f2f6"/>
<rect x="160.70" y="419.75" width="9.52" height="2.36" fill="#f28268"/>
<rect x="160.70" y="422.09" width="9.52" height="2.36" fill="#f8c5b5"/>
<rect x="160.70" y="424.44" width="9.52" height="2.36" fill="#f28268"/>
<rect x="160.70" y="426.78" width="9.52" height="11.74" fill="#e6312a"/>
<rect x="160.70" y="438.50" width="9.52" height="2.36" fill="#ee5a43"/>
<rect x="160.70" y="440.85" width="9.52" height="4.71" fill="#cac3e5"/>
<rect x="160.70" y="445.53" width="9.52" height="2.36" fill="#7e73c2"/>
<rect x="160.70" y="447.88" width="9.52" height="2.36" fill="#a79dd5"/>
<rect x="160.70" y="450.22" width="9.52" height="2.36" fill="#f5f2f6"/>
<rect x="160.70" y="452.57" width="9.52" height="21.12" fill="#cac3e5"/>
<rect x="160.70" y="473.66" width="9.52" height="2.36" fill="#f8c5b5"/>
<rect x="160.70" y="476.01" width="9.52" height="7.05" fill="#cac3e5"/>
<rect x="160.70" y="483.04" width="9.52" height="2.36" fill="#f5f2f6"/>
<rect x="160.70" y="485.39" width="9.52" height="2.36" fill="#e1ddf0"/>
<rect x="160.70" y="487.73" width="9.52" height="2.36" fill="#cac3e5"/>
<rect x="160.70" y="490.07" width="9.52" height="2.36" fill="#7e73c2"/>
<rect x="160.70" y="492.42" width="9.52" height="2.36" fill="#f5f2f6"/>
<rect x="160.70" y="494.76" width="9.52" height="2.36" fill="#f5a38c"/>
<rect x="160.70" y="497.11" width="9.52" height="2.36" fill="#f8c5b5"/>
<rect x="160.70" y="499.45" width="9.52" height="2.36" fill="#f5a38c"/>
<rect x="160.70" y="501.79" width="9.52" height="2.36" fill="#e1ddf0"/>
<rect x="160.70" y="504.14" width="9.52" height="2.36" fill="#f28268"/>
<rect x="160.70" y="506.48" width="9.52" height="4.71" fill="#f8c5b5"/>
<rect x="160.70" y="511.17" width="9.52" height="2.36" fill="#f5f2f6"/>
<rect x="160.70" y="513.52" width="9.52" height="2.36" fill="#e6312a"/>
<rect x="160.70" y="515.86" width="9.52" height="2.36" fill="#f5f2f6"/>
<rect x="160.70" y="518.20" width="9.52" height="2.36" fill="#ee5a43"/>
<rect x="160.70" y="520.55" width="9.52" height="2.36" fill="#e1ddf0"/>
<rect x="160.70" y="522.89" width="9.52" height="2.36" fill="#f5f2f6"/>
<rect x="160.70" y="525.24" width="9.52" height="2.36" fill="#f5a38c"/>
<rect x="160.70" y="527.58" width="9.52" height="2.36" fill="#7e73c2"/>
<rect x="160.70" y="529.93" width="9.52" height="9.40" fill="#f8c5b5"/>
<rect x="160.70" y="539.30" width="9.52" height="2.36" fill="#f5f2f6"/>
<rect x="160.70" y="541.65" width="9.52" height="2.36" fill="#f5a38c"/>
<rect x="160.70" y="543.99" width="9.52" height="2.36" fill="#f8c5b5"/>
<rect x="160.70" y="546.33" width="9.52" height="7.05" fill="#f5a38c"/>
<rect x="160.70" y="553.37" width="9.52" height="2.36" fill="#cac3e5"/>
<rect x="160.70" y="555.71" width="9.52" height="2.36" fill="#f5a38c"/>
<rect x="160.70" y="558.06" width="9.52" height="2.36" fill="#cac3e5"/>
<rect x="170.20" y="337.70" width="9.52" height="2.36" fill="#e1ddf0"/>
<rect x="170.20" y="340.04" width="9.52" height="2.36" fill="#cac3e5"/>
<rect x="170.20" y="342.39" width="9.52" height="2.36" fill="#e1ddf0"/>
<rect x="170.20" y="344.73" width="9.52" height="2.36" fill="#f5a38c"/>
<rect x="170.20" y="347.08" width="9.52" height="4.71" fill="#a79dd5"/>
<rect x="170.20" y="351.77" width="9.52" height="2.36" fill="#f5f2f6"/>
<rect x="170.20" y="354.11" width="9.52" height="4.71" fill="#a79dd5"/>
<rect x="170.20" y="358.80" width="9.52" height="2.36" fill="#f5f2f6"/>
<rect x="170.20" y="361.14" width="9.52" height="4.71" fill="#a79dd5"/>
<rect x="170.20" y="365.83" width="9.52" height="2.36" fill="#e1ddf0"/>
<rect x="170.20" y="368.17" width="9.52" height="2.36" fill="#cac3e5"/>
<rect x="170.20" y="370.52" width="9.52" height="2.36" fill="#fadfd5"/>
<rect x="170.20" y="372.86" width="9.52" height="4.71" fill="#e1ddf0"/>
<rect x="170.20" y="377.55" width="9.52" height="2.36" fill="#a79dd5"/>
<rect x="170.20" y="379.90" width="9.52" height="2.36" fill="#cac3e5"/>
<rect x="170.20" y="382.24" width="9.52" height="2.36" fill="#f5a38c"/>
<rect x="170.20" y="384.58" width="9.52" height="2.36" fill="#fadfd5"/>
<rect x="170.20" y="386.93" width="9.52" height="2.36" fill="#e1ddf0"/>
<rect x="170.20" y="389.27" width="9.52" height="2.36" fill="#f5a38c"/>
<rect x="170.20" y="391.62" width="9.52" height="2.36" fill="#e1ddf0"/>
<rect x="170.20" y="393.96" width="9.52" height="7.05" fill="#a79dd5"/>
<rect x="170.20" y="400.99" width="9.52" height="2.36" fill="#ee5a43"/>
<rect x="170.20" y="403.34" width="9.52" height="2.36" fill="#f8c5b5"/>
<rect x="170.20" y="405.68" width="9.52" height="2.36" fill="#f5f2f6"/>
<rect x="170.20" y="408.03" width="9.52" height="2.36" fill="#f5a38c"/>
<rect x="170.20" y="410.37" width="9.52" height="4.71" fill="#f8c5b5"/>
<rect x="170.20" y="415.06" width="9.52" height="2.36" fill="#a79dd5"/>
<rect x="170.20" y="417.40" width="9.52" height="2.36" fill="#f8c5b5"/>
<rect x="170.20" y="419.75" width="9.52" height="2.36" fill="#cac3e5"/>
<rect x="170.20" y="422.09" width="9.52" height="2.36" fill="#e1ddf0"/>
<rect x="170.20" y="424.44" width="9.52" height="2.36" fill="#f28268"/>
<rect x="170.20" y="426.78" width="9.52" height="2.36" fill="#cac3e5"/>
<rect x="170.20" y="429.12" width="9.52" height="4.71" fill="#e1ddf0"/>
<rect x="170.20" y="433.81" width="9.52" height="7.05" fill="#cac3e5"/>
<rect x="170.20" y="440.85" width="9.52" height="2.36" fill="#a79dd5"/>
<rect x="170.20" y="443.19" width="9.52" height="2.36" fill="#f8c5b5"/>
<rect x="170.20" y="445.53" width="9.52" height="2.36" fill="#cac3e5"/>
<rect x="170.20" y="447.88" width="9.52" height="2.36" fill="#f28268"/>
<rect x="170.20" y="450.22" width="9.52" height="7.05" fill="#cac3e5"/>
<rect x="170.20" y="457.25" width="9.52" height="2.36" fill="#fadfd5"/>
<rect x="170.20" y="459.60" width="9.52" height="2.36" fill="#cac3e5"/>
<rect x="170.20" y="461.94" width="9.52" height="2.36" fill="#a79dd5"/>
<rect x="170.20" y="464.29" width="9.52" height="9.40" fill="#cac3e5"/>
<rect x="170.20" y="473.66" width="9.52" height="2.36" fill="#e1ddf0"/>
<rect x="170.20" y="476.01" width="9.52" height="2.36" fill="#cac3e5"/>
<rect x="170.20" y="478.35" width="9.52" height="2.36" fill="#fadfd5"/>
<rect x="170.20" y="480.70" width="9.52" height="2.36" fill="#cac3e5"/>
<rect x="170.20" y="483.04" width="9.52" height="2.36" fill="#fadfd5"/>
<rect x="170.20" y="485.39" width="9.52" height="2.36" fill="#cac3e5"/>
<rect x="170.20" y="487.73" width="9.52" height="2.36" fill="#e1ddf0"/>
<rect x="170.20" y="490.07" width="9.52" height="2.36" fill="#f28268"/>
<rect x="170.20" y="492.42" width="9.52" height="2.36" fill="#a79dd5"/>
<rect x="170.20" y="494.76" width="9.52" height="2.36" fill="#f5a38c"/>
<rect x="170.20" y="497.11" width="9.52" height="2.36" fill="#ee5a43"/>
<rect x="170.20" y="499.45" width="9.52" height="2.36" fill="#a79dd5"/>
<rect x="170.20" y="501.79" width="9.52" height="4.71" fill="#e1ddf0"/>
<rect x="170.20" y="506.48" width="9.52" height="2.36" fill="#fadfd5"/>
<rect x="170.20" y="508.83" width="9.52" height="2.36" fill="#e1ddf0"/>
<rect x="170.20" y="511.17" width="9.52" height="2.36" fill="#e6312a"/>
<rect x="170.20" y="513.52" width="9.52" height="2.36" fill="#f28268"/>
<rect x="170.20" y="515.86" width="9.52" height="2.36" fill="#cac3e5"/>
<rect x="170.20" y="518.20" width="9.52" height="2.36" fill="#e1ddf0"/>
<rect x="170.20" y="520.55" width="9.52" height="4.71" fill="#a79dd5"/>
<rect x="170.20" y="525.24" width="9.52" height="2.36" fill="#fadfd5"/>
<rect x="170.20" y="527.58" width="9.52" height="2.36" fill="#a79dd5"/>
<rect x="170.20" y="529.93" width="9.52" height="4.71" fill="#e1ddf0"/>
<rect x="170.20" y="534.61" width="9.52" height="2.36" fill="#f5f2f6"/>
<rect x="170.20" y="536.96" width="9.52" height="2.36" fill="#cac3e5"/>
<rect x="170.20" y="539.30" width="9.52" height="2.36" fill="#e1ddf0"/>
<rect x="170.20" y="541.65" width="9.52" height="2.36" fill="#7e73c2"/>
<rect x="170.20" y="543.99" width="9.52" height="2.36" fill="#a79dd5"/>
<rect x="170.20" y="546.33" width="9.52" height="2.36" fill="#e1ddf0"/>
<rect x="170.20" y="548.68" width="9.52" height="2.36" fill="#a79dd5"/>
<rect x="170.20" y="551.02" width="9.52" height="2.36" fill="#f5f2f6"/>
<rect x="170.20" y="553.37" width="9.52" height="2.36" fill="#a79dd5"/>
<rect x="170.20" y="555.71" width="9.52" height="4.71" fill="#f8c5b5"/>
<rect x="179.70" y="337.70" width="9.52" height="4.71" fill="#cac3e5"/>
<rect x="179.70" y="342.39" width="9.52" height="2.36" fill="#f8c5b5"/>
<rect x="179.70" y="344.73" width="9.52" height="2.36" fill="#7e73c2"/>
<rect x="179.70" y="347.08" width="9.52" height="4.71" fill="#f8c5b5"/>
<rect x="179.70" y="351.77" width="9.52" height="2.36" fill="#cac3e5"/>
<rect x="179.70" y="354.11" width="9.52" height="2.36" fill="#a79dd5"/>
<rect x="179.70" y="356.45" width="9.52" height="4.71" fill="#e1ddf0"/>
<rect x="179.70" y="361.14" width="9.52" height="2.36" fill="#f28268"/>
<rect x="179.70" y="363.49" width="9.52" height="2.36" fill="#a79dd5"/>
<rect x="179.70" y="365.83" width="9.52" height="2.36" fill="#e1ddf0"/>
<rect x="179.70" y="368.17" width="9.52" height="2.36" fill="#4f59b0"/>
<rect x="179.70" y="370.52" width="9.52" height="2.36" fill="#e1ddf0"/>
<rect x="179.70" y="372.86" width="9.52" height="2.36" fill="#7e73c2"/>
<rect x="179.70" y="375.21" width="9.52" height="2.36" fill="#f5f2f6"/>
<rect x="179.70" y="377.55" width="9.52" height="2.36" fill="#f5a38c"/>
<rect x="179.70" y="379.90" width="9.52" height="4.71" fill="#f5f2f6"/>
<rect x="179.70" y="384.58" width="9.52" height="2.36" fill="#e1ddf0"/>
<rect x="179.70" y="386.93" width="9.52" height="2.36" fill="#f8c5b5"/>
<rect x="179.70" y="389.27" width="9.52" height="2.36" fill="#f5a38c"/>
<rect x="179.70" y="391.62" width="9.52" height="2.36" fill="#f5f2f6"/>
<rect x="179.70" y="393.96" width="9.52" height="7.05" fill="#f28268"/>
<rect x="179.70" y="400.99" width="9.52" height="2.36" fill="#e1ddf0"/>
<rect x="179.70" y="403.34" width="9.52" height="2.36" fill="#f28268"/>
<rect x="179.70" y="405.68" width="9.52" height="2.36" fill="#f5a38c"/>
<rect x="179.70" y="408.03" width="9.52" height="2.36" fill="#e1ddf0"/>
<rect x="179.70" y="410.37" width="9.52" height="2.36" fill="#f28268"/>
<rect x="179.70" y="412.71" width="9.52" height="2.36" fill="#f5a38c"/>
<rect x="179.70" y="415.06" width="9.52" height="2.36" fill="#ee5a43"/>
<rect x="179.70" y="417.40" width="9.52" height="2.36" fill="#f5f2f6"/>
<rect x="179.70" y="419.75" width="9.52" height="2.36" fill="#f8c5b5"/>
<rect x="179.70" y="422.09" width="9.52" height="2.36" fill="#f5f2f6"/>
<rect x="179.70" y="424.44" width="9.52" height="2.36" fill="#f8c5b5"/>
<rect x="179.70" y="426.78" width="9.52" height="7.05" fill="#cac3e5"/>
<rect x="179.70" y="433.81" width="9.52" height="2.36" fill="#f8c5b5"/>
<rect x="179.70" y="436.16" width="9.52" height="2.36" fill="#f5f2f6"/>
<rect x="179.70" y="438.50" width="9.52" height="2.36" fill="#e6312a"/>
<rect x="179.70" y="440.85" width="9.52" height="2.36" fill="#4f59b0"/>
<rect x="179.70" y="443.19" width="9.52" height="4.71" fill="#f5a38c"/>
<rect x="179.70" y="447.88" width="9.52" height="2.36" fill="#f8c5b5"/>
<rect x="179.70" y="450.22" width="9.52" height="2.36" fill="#e1ddf0"/>
<rect x="179.70" y="452.57" width="9.52" height="14.09" fill="#cac3e5"/>
<rect x="179.70" y="466.63" width="9.52" height="2.36" fill="#f5a38c"/>
<rect x="179.70" y="468.98" width="9.52" height="2.36" fill="#cac3e5"/>
<rect x="179.70" y="471.32" width="9.52" height="4.71" fill="#e1ddf0"/>
<rect x="179.70" y="476.01" width="9.52" height="7.05" fill="#cac3e5"/>
<rect x="179.70" y="483.04" width="9.52" height="2.36" fill="#a79dd5"/>
<rect x="179.70" y="485.39" width="9.52" height="2.36" fill="#f5a38c"/>
<rect x="179.70" y="487.73" width="9.52" height="2.36" fill="#a79dd5"/>
<rect x="179.70" y="490.07" width="9.52" height="4.71" fill="#fadfd5"/>
<rect x="179.70" y="494.76" width="9.52" height="4.71" fill="#7e73c2"/>
<rect x="179.70" y="499.45" width="9.52" height="7.05" fill="#e1ddf0"/>
<rect x="179.70" y="506.48" width="9.52" height="2.36" fill="#a79dd5"/>
<rect x="179.70" y="508.83" width="9.52" height="2.36" fill="#f5f2f6"/>
<rect x="179.70" y="511.17" width="9.52" height="2.36" fill="#a79dd5"/>
<rect x="179.70" y="513.52" width="9.52" height="2.36" fill="#f5a38c"/>
<rect x="179.70" y="515.86" width="9.52" height="2.36" fill="#f8c5b5"/>
<rect x="179.70" y="518.20" width="9.52" height="2.36" fill="#f28268"/>
<rect x="179.70" y="520.55" width="9.52" height="4.71" fill="#f8c5b5"/>
<rect x="179.70" y="525.24" width="9.52" height="2.36" fill="#f5a38c"/>
<rect x="179.70" y="527.58" width="9.52" height="2.36" fill="#fadfd5"/>
<rect x="179.70" y="529.93" width="9.52" height="2.36" fill="#4f59b0"/>
<rect x="179.70" y="532.27" width="9.52" height="2.36" fill="#f5a38c"/>
<rect x="179.70" y="534.61" width="9.52" height="2.36" fill="#e1ddf0"/>
<rect x="179.70" y="536.96" width="9.52" height="2.36" fill="#cac3e5"/>
<rect x="179.70" y="539.30" width="9.52" height="4.71" fill="#e1ddf0"/>
<rect x="179.70" y="543.99" width="9.52" height="2.36" fill="#f8c5b5"/>
<rect x="179.70" y="546.33" width="9.52" height="4.71" fill="#f5a38c"/>
<rect x="179.70" y="551.02" width="9.52" height="2.36" fill="#a79dd5"/>
<rect x="179.70" y="553.37" width="9.52" height="2.36" fill="#f28268"/>
<rect x="179.70" y="555.71" width="9.52" height="2.36" fill="#f5a38c"/>
<rect x="179.70" y="558.06" width="9.52" height="2.36" fill="#f28268"/>
<rect x="190.80" y="337.70" width="9.52" height="2.36" fill="#fadfd5"/>
<rect x="190.80" y="340.04" width="9.52" height="2.36" fill="#7e73c2"/>
<rect x="190.80" y="342.39" width="9.52" height="2.36" fill="#f5f2f6"/>
<rect x="190.80" y="344.73" width="9.52" height="2.36" fill="#4f59b0"/>
<rect x="190.80" y="347.08" width="9.52" height="2.36" fill="#f8c5b5"/>
<rect x="190.80" y="349.42" width="9.52" height="2.36" fill="#fadfd5"/>
<rect x="190.80" y="351.77" width="9.52" height="4.71" fill="#ee5a43"/>
<rect x="190.80" y="356.45" width="9.52" height="2.36" fill="#f5a38c"/>
<rect x="190.80" y="358.80" width="9.52" height="2.36" fill="#cac3e5"/>
<rect x="190.80" y="361.14" width="9.52" height="2.36" fill="#f28268"/>
<rect x="190.80" y="363.49" width="9.52" height="2.36" fill="#f8c5b5"/>
<rect x="190.80" y="365.83" width="9.52" height="2.36" fill="#ee5a43"/>
<rect x="190.80" y="368.17" width="9.52" height="2.36" fill="#f5a38c"/>
<rect x="190.80" y="370.52" width="9.52" height="2.36" fill="#e1ddf0"/>
<rect x="190.80" y="372.86" width="9.52" height="2.36" fill="#fadfd5"/>
<rect x="190.80" y="375.21" width="9.52" height="2.36" fill="#a79dd5"/>
<rect x="190.80" y="377.55" width="9.52" height="2.36" fill="#f5a38c"/>
<rect x="190.80" y="379.90" width="9.52" height="2.36" fill="#e6312a"/>
<rect x="190.80" y="382.24" width="9.52" height="2.36" fill="#e1ddf0"/>
<rect x="190.80" y="384.58" width="9.52" height="2.36" fill="#7e73c2"/>
<rect x="190.80" y="386.93" width="9.52" height="2.36" fill="#cac3e5"/>
<rect x="190.80" y="389.27" width="9.52" height="2.36" fill="#f5f2f6"/>
<rect x="190.80" y="391.62" width="9.52" height="2.36" fill="#a79dd5"/>
<rect x="190.80" y="393.96" width="9.52" height="7.05" fill="#cac3e5"/>
<rect x="190.80" y="400.99" width="9.52" height="4.71" fill="#a79dd5"/>
<rect x="190.80" y="405.68" width="9.52" height="4.71" fill="#cac3e5"/>
<rect x="190.80" y="410.37" width="9.52" height="2.36" fill="#7e73c2"/>
<rect x="190.80" y="412.71" width="9.52" height="4.71" fill="#a79dd5"/>
<rect x="190.80" y="417.40" width="9.52" height="2.36" fill="#4f59b0"/>
<rect x="190.80" y="419.75" width="9.52" height="2.36" fill="#e1ddf0"/>
<rect x="190.80" y="422.09" width="9.52" height="7.05" fill="#cac3e5"/>
<rect x="190.80" y="429.12" width="9.52" height="4.71" fill="#e1ddf0"/>
<rect x="190.80" y="433.81" width="9.52" height="7.05" fill="#cac3e5"/>
<rect x="190.80" y="440.85" width="9.52" height="4.71" fill="#f5a38c"/>
<rect x="190.80" y="445.53" width="9.52" height="2.36" fill="#ee5a43"/>
<rect x="190.80" y="447.88" width="9.52" height="2.36" fill="#f5a38c"/>
<rect x="190.80" y="450.22" width="9.52" height="2.36" fill="#e6312a"/>
<rect x="190.80" y="452.57" width="9.52" height="2.36" fill="#f5a38c"/>
<rect x="190.80" y="454.91" width="9.52" height="2.36" fill="#e6312a"/>
<rect x="190.80" y="457.25" width="9.52" height="2.36" fill="#f5a38c"/>
<rect x="190.80" y="459.60" width="9.52" height="2.36" fill="#f5f2f6"/>
<rect x="190.80" y="461.94" width="9.52" height="2.36" fill="#cac3e5"/>
<rect x="190.80" y="464.29" width="9.52" height="2.36" fill="#ee5a43"/>
<rect x="190.80" y="466.63" width="9.52" height="11.74" fill="#e6312a"/>
<rect x="190.80" y="478.35" width="9.52" height="2.36" fill="#ee5a43"/>
<rect x="190.80" y="480.70" width="9.52" height="2.36" fill="#e6312a"/>
<rect x="190.80" y="483.04" width="9.52" height="2.36" fill="#f8c5b5"/>
<rect x="190.80" y="485.39" width="9.52" height="2.36" fill="#ee5a43"/>
<rect x="190.80" y="487.73" width="9.52" height="2.36" fill="#f8c5b5"/>
<rect x="190.80" y="490.07" width="9.52" height="2.36" fill="#f28268"/>
<rect x="190.80" y="492.42" width="9.52" height="2.36" fill="#cac3e5"/>
<rect x="190.80" y="494.76" width="9.52" height="2.36" fill="#f5f2f6"/>
<rect x="190.80" y="497.11" width="9.52" height="2.36" fill="#f28268"/>
<rect x="190.80" y="499.45" width="9.52" height="2.36" fill="#a79dd5"/>
<rect x="190.80" y="501.79" width="9.52" height="2.36" fill="#e1ddf0"/>
<rect x="190.80" y="504.14" width="9.52" height="9.40" fill="#cac3e5"/>
<rect x="190.80" y="513.52" width="9.52" height="7.05" fill="#e1ddf0"/>
<rect x="190.80" y="520.55" width="9.52" height="2.36" fill="#cac3e5"/>
<rect x="190.80" y="522.89" width="9.52" height="2.36" fill="#ee5a43"/>
<rect x="190.80" y="525.24" width="9.52" height="2.36" fill="#f5f2f6"/>
<rect x="190.80" y="527.58" width="9.52" height="11.74" fill="#f5a38c"/>
<rect x="190.80" y="539.30" width="9.52" height="2.36" fill="#f5f2f6"/>
<rect x="190.80" y="541.65" width="9.52" height="4.71" fill="#ee5a43"/>
<rect x="190.80" y="546.33" width="9.52" height="2.36" fill="#f5a38c"/>
<rect x="190.80" y="548.68" width="9.52" height="2.36" fill="#f8c5b5"/>
<rect x="190.80" y="551.02" width="9.52" height="2.36" fill="#e6312a"/>
<rect x="190.80" y="553.37" width="9.52" height="2.36" fill="#cac3e5"/>
<rect x="190.80" y="555.71" width="9.52" height="2.36" fill="#f5a38c"/>
<rect x="190.80" y="558.06" width="9.52" height="2.36" fill="#cac3e5"/>
<rect x="200.30" y="337.70" width="9.52" height="2.36" fill="#cac3e5"/>
<rect x="200.30" y="340.04" width="9.52" height="4.71" fill="#e1ddf0"/>
<rect x="200.30" y="344.73" width="9.52" height="2.36" fill="#f8c5b5"/>
<rect x="200.30" y="347.08" width="9.52" height="2.36" fill="#f5a38c"/>
<rect x="200.30" y="349.42" width="9.52" height="2.36" fill="#fadfd5"/>
<rect x="200.30" y="351.77" width="9.52" height="2.36" fill="#cac3e5"/>
<rect x="200.30" y="354.11" width="9.52" height="2.36" fill="#fadfd5"/>
<rect x="200.30" y="356.45" width="9.52" height="2.36" fill="#4f59b0"/>
<rect x="200.30" y="358.80" width="9.52" height="7.05" fill="#a79dd5"/>
<rect x="200.30" y="365.83" width="9.52" height="4.71" fill="#4f59b0"/>
<rect x="200.30" y="370.52" width="9.52" height="2.36" fill="#7e73c2"/>
<rect x="200.30" y="372.86" width="9.52" height="2.36" fill="#f5f2f6"/>
<rect x="200.30" y="375.21" width="9.52" height="2.36" fill="#a79dd5"/>
<rect x="200.30" y="377.55" width="9.52" height="4.71" fill="#cac3e5"/>
<rect x="200.30" y="382.24" width="9.52" height="2.36" fill="#a79dd5"/>
<rect x="200.30" y="384.58" width="9.52" height="2.36" fill="#7e73c2"/>
<rect x="200.30" y="386.93" width="9.52" height="2.36" fill="#cac3e5"/>
<rect x="200.30" y="389.27" width="9.52" height="2.36" fill="#a79dd5"/>
<rect x="200.30" y="391.62" width="9.52" height="2.36" fill="#cac3e5"/>
<rect x="200.30" y="393.96" width="9.52" height="2.36" fill="#fadfd5"/>
<rect x="200.30" y="396.31" width="9.52" height="4.71" fill="#cac3e5"/>
<rect x="200.30" y="400.99" width="9.52" height="2.36" fill="#a79dd5"/>
<rect x="200.30" y="403.34" width="9.52" height="7.05" fill="#cac3e5"/>
<rect x="200.30" y="410.37" width="9.52" height="2.36" fill="#7e73c2"/>
<rect x="200.30" y="412.71" width="9.52" height="7.05" fill="#a79dd5"/>
<rect x="200.30" y="419.75" width="9.52" height="2.36" fill="#e1ddf0"/>
<rect x="200.30" y="422.09" width="9.52" height="7.05" fill="#cac3e5"/>
<rect x="200.30" y="429.12" width="9.52" height="2.36" fill="#e1ddf0"/>
<rect x="200.30" y="431.47" width="9.52" height="2.36" fill="#f28268"/>
<rect x="200.30" y="433.81" width="9.52" height="7.05" fill="#cac3e5"/>
<rect x="200.30" y="440.85" width="9.52" height="2.36" fill="#7e73c2"/>
<rect x="200.30" y="443.19" width="9.52" height="2.36" fill="#cac3e5"/>
<rect x="200.30" y="445.53" width="9.52" height="7.05" fill="#e1ddf0"/>
<rect x="200.30" y="452.57" width="9.52" height="2.36" fill="#f5a38c"/>
<rect x="200.30" y="454.91" width="9.52" height="2.36" fill="#f5f2f6"/>
<rect x="200.30" y="457.25" width="9.52" height="7.05" fill="#f5a38c"/>
<rect x="200.30" y="464.29" width="9.52" height="2.36" fill="#f8c5b5"/>
<rect x="200.30" y="466.63" width="9.52" height="2.36" fill="#f5f2f6"/>
<rect x="200.30" y="468.98" width="9.52" height="2.36" fill="#f5a38c"/>
<rect x="200.30" y="471.32" width="9.52" height="2.36" fill="#ee5a43"/>
<rect x="200.30" y="473.66" width="9.52" height="2.36" fill="#f5a38c"/>
<rect x="200.30" y="476.01" width="9.52" height="2.36" fill="#e1ddf0"/>
<rect x="200.30" y="478.35" width="9.52" height="4.71" fill="#cac3e5"/>
<rect x="200.30" y="483.04" width="9.52" height="2.36" fill="#f5a38c"/>
<rect x="200.30" y="485.39" width="9.52" height="2.36" fill="#4f59b0"/>
<rect x="200.30" y="487.73" width="9.52" height="4.71" fill="#e1ddf0"/>
<rect x="200.30" y="492.42" width="9.52" height="2.36" fill="#ee5a43"/>
<rect x="200.30" y="494.76" width="9.52" height="4.71" fill="#4f59b0"/>
<rect x="200.30" y="499.45" width="9.52" height="2.36" fill="#cac3e5"/>
<rect x="200.30" y="501.79" width="9.52" height="2.36" fill="#e1ddf0"/>
<rect x="200.30" y="504.14" width="9.52" height="2.36" fill="#7e73c2"/>
<rect x="200.30" y="506.48" width="9.52" height="11.74" fill="#cac3e5"/>
<rect x="200.30" y="518.20" width="9.52" height="2.36" fill="#f5f2f6"/>
<rect x="200.30" y="520.55" width="9.52" height="2.36" fill="#7e73c2"/>
<rect x="200.30" y="522.89" width="9.52" height="2.36" fill="#f5f2f6"/>
<rect x="200.30" y="525.24" width="9.52" height="11.74" fill="#cac3e5"/>
<rect x="200.30" y="536.96" width="9.52" height="4.71" fill="#f8c5b5"/>
<rect x="200.30" y="541.65" width="9.52" height="4.71" fill="#e1ddf0"/>
<rect x="200.30" y="546.33" width="9.52" height="2.36" fill="#cac3e5"/>
<rect x="200.30" y="548.68" width="9.52" height="2.36" fill="#a79dd5"/>
<rect x="200.30" y="551.02" width="9.52" height="2.36" fill="#cac3e5"/>
<rect x="200.30" y="553.37" width="9.52" height="2.36" fill="#e1ddf0"/>
<rect x="200.30" y="555.71" width="9.52" height="2.36" fill="#f8c5b5"/>
<rect x="200.30" y="558.06" width="9.52" height="2.36" fill="#e1ddf0"/>
<rect x="209.80" y="337.70" width="9.52" height="2.36" fill="#cac3e5"/>
<rect x="209.80" y="340.04" width="9.52" height="4.71" fill="#f5f2f6"/>
<rect x="209.80" y="344.73" width="9.52" height="2.36" fill="#e1ddf0"/>
<rect x="209.80" y="347.08" width="9.52" height="4.71" fill="#f5a38c"/>
<rect x="209.80" y="351.77" width="9.52" height="2.36" fill="#e1ddf0"/>
<rect x="209.80" y="354.11" width="9.52" height="2.36" fill="#ee5a43"/>
<rect x="209.80" y="356.45" width="9.52" height="2.36" fill="#f5f2f6"/>
<rect x="209.80" y="358.80" width="9.52" height="4.71" fill="#f8c5b5"/>
<rect x="209.80" y="363.49" width="9.52" height="2.36" fill="#7e73c2"/>
<rect x="209.80" y="365.83" width="9.52" height="4.71" fill="#fadfd5"/>
<rect x="209.80" y="370.52" width="9.52" height="2.36" fill="#cac3e5"/>
<rect x="209.80" y="372.86" width="9.52" height="4.71" fill="#f5a38c"/>
<rect x="209.80" y="377.55" width="9.52" height="2.36" fill="#a79dd5"/>
<rect x="209.80" y="379.90" width="9.52" height="2.36" fill="#f5f2f6"/>
<rect x="209.80" y="382.24" width="9.52" height="2.36" fill="#f28268"/>
<rect x="209.80" y="384.58" width="9.52" height="2.36" fill="#e1ddf0"/>
<rect x="209.80" y="386.93" width="9.52" height="2.36" fill="#cac3e5"/>
<rect x="209.80" y="389.27" width="9.52" height="4.71" fill="#a79dd5"/>
<rect x="209.80" y="393.96" width="9.52" height="2.36" fill="#f5a38c"/>
<rect x="209.80" y="396.31" width="9.52" height="2.36" fill="#f8c5b5"/>
<rect x="209.80" y="398.65" width="9.52" height="2.36" fill="#f5a38c"/>
<rect x="209.80" y="400.99" width="9.52" height="7.05" fill="#a79dd5"/>
<rect x="209.80" y="408.03" width="9.52" height="2.36" fill="#cac3e5"/>
<rect x="209.80" y="410.37" width="9.52" height="2.36" fill="#f5f2f6"/>
<rect x="209.80" y="412.71" width="9.52" height="2.36" fill="#a79dd5"/>
<rect x="209.80" y="415.06" width="9.52" height="2.36" fill="#e1ddf0"/>
<rect x="209.80" y="417.40" width="9.52" height="2.36" fill="#4f59b0"/>
<rect x="209.80" y="419.75" width="9.52" height="2.36" fill="#f5a38c"/>
<rect x="209.80" y="422.09" width="9.52" height="4.71" fill="#cac3e5"/>
<rect x="209.80" y="426.78" width="9.52" height="2.36" fill="#fadfd5"/>
<rect x="209.80" y="429.12" width="9.52" height="4.71" fill="#e1ddf0"/>
<rect x="209.80" y="433.81" width="9.52" height="2.36" fill="#a79dd5"/>
<rect x="209.80" y="436.16" width="9.52" height="2.36" fill="#cac3e5"/>
<rect x="209.80" y="438.50" width="9.52" height="2.36" fill="#f5f2f6"/>
<rect x="209.80" y="440.85" width="9.52" height="4.71" fill="#a79dd5"/>
<rect x="209.80" y="445.53" width="9.52" height="2.36" fill="#f5a38c"/>
<rect x="209.80" y="447.88" width="9.52" height="2.36" fill="#a79dd5"/>
<rect x="209.80" y="450.22" width="9.52" height="2.36" fill="#e1ddf0"/>
<rect x="209.80" y="452.57" width="9.52" height="7.05" fill="#f5a38c"/>
<rect x="209.80" y="459.60" width="9.52" height="2.36" fill="#e1ddf0"/>
<rect x="209.80" y="461.94" width="9.52" height="2.36" fill="#f5f2f6"/>
<rect x="209.80" y="464.29" width="9.52" height="2.36" fill="#f5a38c"/>
<rect x="209.80" y="466.63" width="9.52" height="7.05" fill="#f28268"/>
<rect x="209.80" y="473.66" width="9.52" height="2.36" fill="#e1ddf0"/>
<rect x="209.80" y="476.01" width="9.52" height="2.36" fill="#cac3e5"/>
<rect x="209.80" y="478.35" width="9.52" height="2.36" fill="#e1ddf0"/>
<rect x="209.80" y="480.70" width="9.52" height="4.71" fill="#f5a38c"/>
<rect x="209.80" y="485.39" width="9.52" height="2.36" fill="#a79dd5"/>
<rect x="209.80" y="487.73" width="9.52" height="2.36" fill="#f5f2f6"/>
<rect x="209.80" y="490.07" width="9.52" height="2.36" fill="#ee5a43"/>
<rect x="209.80" y="492.42" width="9.52" height="2.36" fill="#a79dd5"/>
<rect x="209.80" y="494.76" width="9.52" height="2.36" fill="#fadfd5"/>
<rect x="209.80" y="497.11" width="9.52" height="4.71" fill="#cac3e5"/>
<rect x="209.80" y="501.79" width="9.52" height="2.36" fill="#e1ddf0"/>
<rect x="209.80" y="504.14" width="9.52" height="7.05" fill="#cac3e5"/>
<rect x="209.80" y="511.17" width="9.52" height="2.36" fill="#a79dd5"/>
<rect x="209.80" y="513.52" width="9.52" height="2.36" fill="#e1ddf0"/>
<rect x="209.80" y="515.86" width="9.52" height="2.36" fill="#cac3e5"/>
<rect x="209.80" y="518.20" width="9.52" height="2.36" fill="#e1ddf0"/>
<rect x="209.80" y="520.55" width="9.52" height="2.36" fill="#f5a38c"/>
<rect x="209.80" y="522.89" width="9.52" height="4.71" fill="#e1ddf0"/>
<rect x="209.80" y="527.58" width="9.52" height="2.36" fill="#f8c5b5"/>
<rect x="209.80" y="529.93" width="9.52" height="2.36" fill="#f5a38c"/>
<rect x="209.80" y="532.27" width="9.52" height="4.71" fill="#e1ddf0"/>
<rect x="209.80" y="536.96" width="9.52" height="2.36" fill="#f5f2f6"/>
<rect x="209.80" y="539.30" width="9.52" height="4.71" fill="#f5a38c"/>
<rect x="209.80" y="543.99" width="9.52" height="4.71" fill="#7e73c2"/>
<rect x="209.80" y="548.68" width="9.52" height="2.36" fill="#fadfd5"/>
<rect x="209.80" y="551.02" width="9.52" height="4.71" fill="#cac3e5"/>
<rect x="209.80" y="555.71" width="9.52" height="2.36" fill="#f28268"/>
<rect x="209.80" y="558.06" width="9.52" height="2.36" fill="#f5a38c"/>
<rect x="219.30" y="337.70" width="9.52" height="2.36" fill="#cac3e5"/>
<rect x="219.30" y="340.04" width="9.52" height="7.05" fill="#a79dd5"/>
<rect x="219.30" y="347.08" width="9.52" height="2.36" fill="#f5f2f6"/>
<rect x="219.30" y="349.42" width="9.52" height="4.71" fill="#f28268"/>
<rect x="219.30" y="354.11" width="9.52" height="2.36" fill="#e1ddf0"/>
<rect x="219.30" y="356.45" width="9.52" height="2.36" fill="#f5f2f6"/>
<rect x="219.30" y="358.80" width="9.52" height="4.71" fill="#f28268"/>
<rect x="219.30" y="363.49" width="9.52" height="2.36" fill="#f5f2f6"/>
<rect x="219.30" y="365.83" width="9.52" height="2.36" fill="#f28268"/>
<rect x="219.30" y="368.17" width="9.52" height="2.36" fill="#f8c5b5"/>
<rect x="219.30" y="370.52" width="9.52" height="2.36" fill="#f28268"/>
<rect x="219.30" y="372.86" width="9.52" height="2.36" fill="#ee5a43"/>
<rect x="219.30" y="375.21" width="9.52" height="2.36" fill="#f8c5b5"/>
<rect x="219.30" y="377.55" width="9.52" height="2.36" fill="#f5f2f6"/>
<rect x="219.30" y="379.90" width="9.52" height="2.36" fill="#ee5a43"/>
<rect x="219.30" y="382.24" width="9.52" height="2.36" fill="#cac3e5"/>
<rect x="219.30" y="384.58" width="9.52" height="2.36" fill="#fadfd5"/>
<rect x="219.30" y="386.93" width="9.52" height="2.36" fill="#cac3e5"/>
<rect x="219.30" y="389.27" width="9.52" height="2.36" fill="#f5f2f6"/>
<rect x="219.30" y="391.62" width="9.52" height="2.36" fill="#f5a38c"/>
<rect x="219.30" y="393.96" width="9.52" height="2.36" fill="#a79dd5"/>
<rect x="219.30" y="396.31" width="9.52" height="7.05" fill="#cac3e5"/>
<rect x="219.30" y="403.34" width="9.52" height="2.36" fill="#f5f2f6"/>
<rect x="219.30" y="405.68" width="9.52" height="2.36" fill="#a79dd5"/>
<rect x="219.30" y="408.03" width="9.52" height="2.36" fill="#cac3e5"/>
<rect x="219.30" y="410.37" width="9.52" height="4.71" fill="#a79dd5"/>
<rect x="219.30" y="415.06" width="9.52" height="2.36" fill="#cac3e5"/>
<rect x="219.30" y="417.40" width="9.52" height="2.36" fill="#f28268"/>
<rect x="219.30" y="419.75" width="9.52" height="2.36" fill="#a79dd5"/>
<rect x="219.30" y="422.09" width="9.52" height="4.71" fill="#cac3e5"/>
<rect x="219.30" y="426.78" width="9.52" height="2.36" fill="#fadfd5"/>
<rect x="219.30" y="429.12" width="9.52" height="4.71" fill="#e1ddf0"/>
<rect x="219.30" y="433.81" width="9.52" height="4.71" fill="#cac3e5"/>
<rect x="219.30" y="438.50" width="9.52" height="2.36" fill="#f5a38c"/>
<rect x="219.30" y="440.85" width="9.52" height="2.36" fill="#f8c5b5"/>
<rect x="219.30" y="443.19" width="9.52" height="2.36" fill="#cac3e5"/>
<rect x="219.30" y="445.53" width="9.52" height="2.36" fill="#f5f2f6"/>
<rect x="219.30" y="447.88" width="9.52" height="2.36" fill="#ee5a43"/>
<rect x="219.30" y="450.22" width="9.52" height="2.36" fill="#e6312a"/>
<rect x="219.30" y="452.57" width="9.52" height="2.36" fill="#f28268"/>
<rect x="219.30" y="454.91" width="9.52" height="4.71" fill="#f5a38c"/>
<rect x="219.30" y="459.60" width="9.52" height="2.36" fill="#ee5a43"/>
<rect x="219.30" y="461.94" width="9.52" height="2.36" fill="#f5a38c"/>
<rect x="219.30" y="464.29" width="9.52" height="2.36" fill="#e1ddf0"/>
<rect x="219.30" y="466.63" width="9.52" height="4.71" fill="#f8c5b5"/>
<rect x="219.30" y="471.32" width="9.52" height="2.36" fill="#f5a38c"/>
<rect x="219.30" y="473.66" width="9.52" height="2.36" fill="#f5f2f6"/>
<rect x="219.30" y="476.01" width="9.52" height="2.36" fill="#e1ddf0"/>
<rect x="219.30" y="478.35" width="9.52" height="2.36" fill="#f8c5b5"/>
<rect x="219.30" y="480.70" width="9.52" height="2.36" fill="#f5f2f6"/>
<rect x="219.30" y="483.04" width="9.52" height="2.36" fill="#cac3e5"/>
<rect x="219.30" y="485.39" width="9.52" height="2.36" fill="#ee5a43"/>
<rect x="219.30" y="487.73" width="9.52" height="2.36" fill="#f28268"/>
<rect x="219.30" y="490.07" width="9.52" height="2.36" fill="#ee5a43"/>
<rect x="219.30" y="492.42" width="9.52" height="2.36" fill="#e1ddf0"/>
<rect x="219.30" y="494.76" width="9.52" height="2.36" fill="#7e73c2"/>
<rect x="219.30" y="497.11" width="9.52" height="2.36" fill="#f5f2f6"/>
<rect x="219.30" y="499.45" width="9.52" height="2.36" fill="#e1ddf0"/>
<rect x="219.30" y="501.79" width="9.52" height="2.36" fill="#f5f2f6"/>
<rect x="219.30" y="504.14" width="9.52" height="7.05" fill="#cac3e5"/>
<rect x="219.30" y="511.17" width="9.52" height="2.36" fill="#e1ddf0"/>
<rect x="219.30" y="513.52" width="9.52" height="4.71" fill="#cac3e5"/>
<rect x="219.30" y="518.20" width="9.52" height="2.36" fill="#e1ddf0"/>
<rect x="219.30" y="520.55" width="9.52" height="2.36" fill="#fadfd5"/>
<rect x="219.30" y="522.89" width="9.52" height="2.36" fill="#7e73c2"/>
<rect x="219.30" y="525.24" width="9.52" height="2.36" fill="#cac3e5"/>
<rect x="219.30" y="527.58" width="9.52" height="4.71" fill="#f5f2f6"/>
<rect x="219.30" y="532.27" width="9.52" height="2.36" fill="#e1ddf0"/>
<rect x="219.30" y="534.61" width="9.52" height="2.36" fill="#f28268"/>
<rect x="219.30" y="536.96" width="9.52" height="2.36" fill="#f5f2f6"/>
<rect x="219.30" y="539.30" width="9.52" height="2.36" fill="#a79dd5"/>
<rect x="219.30" y="541.65" width="9.52" height="2.36" fill="#f5f2f6"/>
<rect x="219.30" y="543.99" width="9.52" height="2.36" fill="#fadfd5"/>
<rect x="219.30" y="546.33" width="9.52" height="2.36" fill="#e1ddf0"/>
<rect x="219.30" y="548.68" width="9.52" height="2.36" fill="#f8c5b5"/>
<rect x="219.30" y="551.02" width="9.52" height="2.36" fill="#cac3e5"/>
<rect x="219.30" y="553.37" width="9.52" height="2.36" fill="#fadfd5"/>
<rect x="219.30" y="555.71" width="9.52" height="2.36" fill="#4f59b0"/>
<rect x="219.30" y="558.06" width="9.52" height="2.36" fill="#f5f2f6"/>
<rect x="228.80" y="337.70" width="9.52" height="2.36" fill="#a79dd5"/>
<rect x="228.80" y="340.04" width="9.52" height="2.36" fill="#7e73c2"/>
<rect x="228.80" y="342.39" width="9.52" height="2.36" fill="#f5f2f6"/>
<rect x="228.80" y="344.73" width="9.52" height="2.36" fill="#7e73c2"/>
<rect x="228.80" y="347.08" width="9.52" height="2.36" fill="#f5f2f6"/>
<rect x="228.80" y="349.42" width="9.52" height="2.36" fill="#e1ddf0"/>
<rect x="228.80" y="351.77" width="9.52" height="4.71" fill="#f8c5b5"/>
<rect x="228.80" y="356.45" width="9.52" height="4.71" fill="#f5a38c"/>
<rect x="228.80" y="361.14" width="9.52" height="2.36" fill="#f28268"/>
<rect x="228.80" y="363.49" width="9.52" height="2.36" fill="#f5a38c"/>
<rect x="228.80" y="365.83" width="9.52" height="2.36" fill="#cac3e5"/>
<rect x="228.80" y="368.17" width="9.52" height="2.36" fill="#a79dd5"/>
<rect x="228.80" y="370.52" width="9.52" height="2.36" fill="#7e73c2"/>
<rect x="228.80" y="372.86" width="9.52" height="2.36" fill="#cac3e5"/>
<rect x="228.80" y="375.21" width="9.52" height="2.36" fill="#f5f2f6"/>
<rect x="228.80" y="377.55" width="9.52" height="4.71" fill="#a79dd5"/>
<rect x="228.80" y="382.24" width="9.52" height="2.36" fill="#cac3e5"/>
<rect x="228.80" y="384.58" width="9.52" height="2.36" fill="#7e73c2"/>
<rect x="228.80" y="386.93" width="9.52" height="2.36" fill="#cac3e5"/>
<rect x="228.80" y="389.27" width="9.52" height="2.36" fill="#a79dd5"/>
<rect x="228.80" y="391.62" width="9.52" height="2.36" fill="#cac3e5"/>
<rect x="228.80" y="393.96" width="9.52" height="2.36" fill="#7e73c2"/>
<rect x="228.80" y="396.31" width="9.52" height="9.40" fill="#a79dd5"/>
<rect x="228.80" y="405.68" width="9.52" height="2.36" fill="#e1ddf0"/>
<rect x="228.80" y="408.03" width="9.52" height="2.36" fill="#cac3e5"/>
<rect x="228.80" y="410.37" width="9.52" height="2.36" fill="#e1ddf0"/>
<rect x="228.80" y="412.71" width="9.52" height="4.71" fill="#a79dd5"/>
<rect x="228.80" y="417.40" width="9.52" height="2.36" fill="#4f59b0"/>
<rect x="228.80" y="419.75" width="9.52" height="2.36" fill="#e1ddf0"/>
<rect x="228.80" y="422.09" width="9.52" height="4.71" fill="#cac3e5"/>
<rect x="228.80" y="426.78" width="9.52" height="2.36" fill="#f5f2f6"/>
<rect x="228.80" y="429.12" width="9.52" height="4.71" fill="#e1ddf0"/>
<rect x="228.80" y="433.81" width="9.52" height="2.36" fill="#f5f2f6"/>
<rect x="228.80" y="436.16" width="9.52" height="2.36" fill="#e1ddf0"/>
<rect x="228.80" y="438.50" width="9.52" height="2.36" fill="#e6312a"/>
<rect x="228.80" y="440.85" width="9.52" height="4.71" fill="#f5a38c"/>
<rect x="228.80" y="445.53" width="9.52" height="4.71" fill="#f8c5b5"/>
<rect x="228.80" y="450.22" width="9.52" height="2.36" fill="#f5f2f6"/>
<rect x="228.80" y="452.57" width="9.52" height="2.36" fill="#f5a38c"/>
<rect x="228.80" y="454.91" width="9.52" height="2.36" fill="#f5f2f6"/>
<rect x="228.80" y="457.25" width="9.52" height="2.36" fill="#f28268"/>
<rect x="228.80" y="459.60" width="9.52" height="2.36" fill="#f8c5b5"/>
<rect x="228.80" y="461.94" width="9.52" height="2.36" fill="#ee5a43"/>
<rect x="228.80" y="464.29" width="9.52" height="7.05" fill="#e6312a"/>
<rect x="228.80" y="471.32" width="9.52" height="2.36" fill="#f28268"/>
<rect x="228.80" y="473.66" width="9.52" height="11.74" fill="#e6312a"/>
<rect x="228.80" y="485.39" width="9.52" height="2.36" fill="#e1ddf0"/>
<rect x="228.80" y="487.73" width="9.52" height="2.36" fill="#f28268"/>
<rect x="228.80" y="490.07" width="9.52" height="2.36" fill="#cac3e5"/>
<rect x="228.80" y="492.42" width="9.52" height="2.36" fill="#e1ddf0"/>
<rect x="228.80" y="494.76" width="9.52" height="2.36" fill="#f5f2f6"/>
<rect x="228.80" y="497.11" width="9.52" height="2.36" fill="#cac3e5"/>
<rect x="228.80" y="499.45" width="9.52" height="2.36" fill="#f8c5b5"/>
<rect x="228.80" y="501.79" width="9.52" height="2.36" fill="#f5a38c"/>
<rect x="228.80" y="504.14" width="9.52" height="2.36" fill="#cac3e5"/>
<rect x="228.80" y="506.48" width="9.52" height="2.36" fill="#e1ddf0"/>
<rect x="228.80" y="508.83" width="9.52" height="2.36" fill="#cac3e5"/>
<rect x="228.80" y="511.17" width="9.52" height="2.36" fill="#a79dd5"/>
<rect x="228.80" y="513.52" width="9.52" height="4.71" fill="#cac3e5"/>
<rect x="228.80" y="518.20" width="9.52" height="2.36" fill="#e1ddf0"/>
<rect x="228.80" y="520.55" width="9.52" height="2.36" fill="#f5a38c"/>
<rect x="228.80" y="522.89" width="9.52" height="2.36" fill="#e1ddf0"/>
<rect x="228.80" y="525.24" width="9.52" height="2.36" fill="#f5a38c"/>
<rect x="228.80" y="527.58" width="9.52" height="4.71" fill="#f8c5b5"/>
<rect x="228.80" y="532.27" width="9.52" height="2.36" fill="#cac3e5"/>
<rect x="228.80" y="534.61" width="9.52" height="2.36" fill="#f28268"/>
<rect x="228.80" y="536.96" width="9.52" height="2.36" fill="#f8c5b5"/>
<rect x="228.80" y="539.30" width="9.52" height="2.36" fill="#f28268"/>
<rect x="228.80" y="541.65" width="9.52" height="2.36" fill="#f5a38c"/>
<rect x="228.80" y="543.99" width="9.52" height="2.36" fill="#f8c5b5"/>
<rect x="228.80" y="546.33" width="9.52" height="2.36" fill="#f5f2f6"/>
<rect x="228.80" y="548.68" width="9.52" height="2.36" fill="#ee5a43"/>
<rect x="228.80" y="551.02" width="9.52" height="2.36" fill="#f5f2f6"/>
<rect x="228.80" y="553.37" width="9.52" height="2.36" fill="#e1ddf0"/>
<rect x="228.80" y="555.71" width="9.52" height="2.36" fill="#7e73c2"/>
<rect x="228.80" y="558.06" width="9.52" height="2.36" fill="#cac3e5"/>
<rect x="238.30" y="337.70" width="9.52" height="2.36" fill="#7e73c2"/>
<rect x="238.30" y="340.04" width="9.52" height="2.36" fill="#e1ddf0"/>
<rect x="238.30" y="342.39" width="9.52" height="4.71" fill="#f5a38c"/>
<rect x="238.30" y="347.08" width="9.52" height="2.36" fill="#f8c5b5"/>
<rect x="238.30" y="349.42" width="9.52" height="2.36" fill="#e1ddf0"/>
<rect x="238.30" y="351.77" width="9.52" height="2.36" fill="#cac3e5"/>
<rect x="238.30" y="354.11" width="9.52" height="2.36" fill="#f5a38c"/>
<rect x="238.30" y="356.45" width="9.52" height="2.36" fill="#f5f2f6"/>
<rect x="238.30" y="358.80" width="9.52" height="4.71" fill="#a79dd5"/>
<rect x="238.30" y="363.49" width="9.52" height="2.36" fill="#e1ddf0"/>
<rect x="238.30" y="365.83" width="9.52" height="4.71" fill="#cac3e5"/>
<rect x="238.30" y="370.52" width="9.52" height="4.71" fill="#f5f2f6"/>
<rect x="238.30" y="375.21" width="9.52" height="2.36" fill="#7e73c2"/>
<rect x="238.30" y="377.55" width="9.52" height="4.71" fill="#a79dd5"/>
<rect x="238.30" y="382.24" width="9.52" height="2.36" fill="#e1ddf0"/>
<rect x="238.30" y="384.58" width="9.52" height="2.36" fill="#f8c5b5"/>
<rect x="238.30" y="386.93" width="9.52" height="7.05" fill="#a79dd5"/>
<rect x="238.30" y="393.96" width="9.52" height="2.36" fill="#f5f2f6"/>
<rect x="238.30" y="396.31" width="9.52" height="11.74" fill="#a79dd5"/>
<rect x="238.30" y="408.03" width="9.52" height="2.36" fill="#cac3e5"/>
<rect x="238.30" y="410.37" width="9.52" height="2.36" fill="#e1ddf0"/>
<rect x="238.30" y="412.71" width="9.52" height="2.36" fill="#f5a38c"/>
<rect x="238.30" y="415.06" width="9.52" height="2.36" fill="#cac3e5"/>
<rect x="238.30" y="417.40" width="9.52" height="2.36" fill="#f8c5b5"/>
<rect x="238.30" y="419.75" width="9.52" height="2.36" fill="#e1ddf0"/>
<rect x="238.30" y="422.09" width="9.52" height="7.05" fill="#cac3e5"/>
<rect x="238.30" y="429.12" width="9.52" height="9.40" fill="#e1ddf0"/>
<rect x="238.30" y="438.50" width="9.52" height="2.36" fill="#f5f2f6"/>
<rect x="238.30" y="440.85" width="9.52" height="2.36" fill="#a79dd5"/>
<rect x="238.30" y="443.19" width="9.52" height="2.36" fill="#f5a38c"/>
<rect x="238.30" y="445.53" width="9.52" height="2.36" fill="#f28268"/>
<rect x="238.30" y="447.88" width="9.52" height="2.36" fill="#f5a38c"/>
<rect x="238.30" y="450.22" width="9.52" height="4.71" fill="#f8c5b5"/>
<rect x="238.30" y="454.91" width="9.52" height="2.36" fill="#f5a38c"/>
<rect x="238.30" y="457.25" width="9.52" height="2.36" fill="#f5f2f6"/>
<rect x="238.30" y="459.60" width="9.52" height="2.36" fill="#ee5a43"/>
<rect x="238.30" y="461.94" width="9.52" height="4.71" fill="#f28268"/>
<rect x="238.30" y="466.63" width="9.52" height="2.36" fill="#f5f2f6"/>
<rect x="238.30" y="468.98" width="9.52" height="2.36" fill="#f5a38c"/>
<rect x="238.30" y="471.32" width="9.52" height="2.36" fill="#cac3e5"/>
<rect x="238.30" y="473.66" width="9.52" height="2.36" fill="#e6312a"/>
<rect x="238.30" y="476.01" width="9.52" height="2.36" fill="#f5a38c"/>
<rect x="238.30" y="478.35" width="9.52" height="2.36" fill="#f5f2f6"/>
<rect x="238.30" y="480.70" width="9.52" height="2.36" fill="#f5a38c"/>
<rect x="238.30" y="483.04" width="9.52" height="2.36" fill="#f5f2f6"/>
<rect x="238.30" y="485.39" width="9.52" height="2.36" fill="#e6312a"/>
<rect x="238.30" y="487.73" width="9.52" height="2.36" fill="#f5a38c"/>
<rect x="238.30" y="490.07" width="9.52" height="2.36" fill="#f28268"/>
<rect x="238.30" y="492.42" width="9.52" height="4.71" fill="#cac3e5"/>
<rect x="238.30" y="497.11" width="9.52" height="2.36" fill="#f5f2f6"/>
<rect x="238.30" y="499.45" width="9.52" height="2.36" fill="#e1ddf0"/>
<rect x="238.30" y="501.79" width="9.52" height="2.36" fill="#a79dd5"/>
<rect x="238.30" y="504.14" width="9.52" height="2.36" fill="#f8c5b5"/>
<rect x="238.30" y="506.48" width="9.52" height="2.36" fill="#e1ddf0"/>
<rect x="238.30" y="508.83" width="9.52" height="7.05" fill="#cac3e5"/>
<rect x="238.30" y="515.86" width="9.52" height="4.71" fill="#e1ddf0"/>
<rect x="238.30" y="520.55" width="9.52" height="2.36" fill="#fadfd5"/>
<rect x="238.30" y="522.89" width="9.52" height="2.36" fill="#a79dd5"/>
<rect x="238.30" y="525.24" width="9.52" height="2.36" fill="#fadfd5"/>
<rect x="238.30" y="527.58" width="9.52" height="4.71" fill="#a79dd5"/>
<rect x="238.30" y="532.27" width="9.52" height="2.36" fill="#cac3e5"/>
<rect x="238.30" y="534.61" width="9.52" height="4.71" fill="#a79dd5"/>
<rect x="238.30" y="539.30" width="9.52" height="2.36" fill="#e1ddf0"/>
<rect x="238.30" y="541.65" width="9.52" height="2.36" fill="#a79dd5"/>
<rect x="238.30" y="543.99" width="9.52" height="2.36" fill="#e1ddf0"/>
<rect x="238.30" y="546.33" width="9.52" height="4.71" fill="#7e73c2"/>
<rect x="238.30" y="551.02" width="9.52" height="4.71" fill="#e1ddf0"/>
<rect x="238.30" y="555.71" width="9.52" height="2.36" fill="#f5a38c"/>
<rect x="238.30" y="558.06" width="9.52" height="2.36" fill="#e1ddf0"/>
<rect x="249.30" y="337.70" width="9.52" height="2.36" fill="#7e73c2"/>
<rect x="249.30" y="340.04" width="9.52" height="4.71" fill="#a79dd5"/>
<rect x="249.30" y="344.73" width="9.52" height="2.36" fill="#f8c5b5"/>
<rect x="249.30" y="347.08" width="9.52" height="2.36" fill="#fadfd5"/>
<rect x="249.30" y="349.42" width="9.52" height="2.36" fill="#cac3e5"/>
<rect x="249.30" y="351.77" width="9.52" height="2.36" fill="#fadfd5"/>
<rect x="249.30" y="354.11" width="9.52" height="2.36" fill="#e1ddf0"/>
<rect x="249.30" y="356.45" width="9.52" height="2.36" fill="#a79dd5"/>
<rect x="249.30" y="358.80" width="9.52" height="4.71" fill="#7e73c2"/>
<rect x="249.30" y="363.49" width="9.52" height="4.71" fill="#a79dd5"/>
<rect x="249.30" y="368.17" width="9.52" height="2.36" fill="#f5f2f6"/>
<rect x="249.30" y="370.52" width="9.52" height="2.36" fill="#e1ddf0"/>
<rect x="249.30" y="372.86" width="9.52" height="2.36" fill="#4f59b0"/>
<rect x="249.30" y="375.21" width="9.52" height="2.36" fill="#f8c5b5"/>
<rect x="249.30" y="377.55" width="9.52" height="2.36" fill="#e1ddf0"/>
<rect x="249.30" y="379.90" width="9.52" height="4.71" fill="#cac3e5"/>
<rect x="249.30" y="384.58" width="9.52" height="2.36" fill="#e1ddf0"/>
<rect x="249.30" y="386.93" width="9.52" height="4.71" fill="#a79dd5"/>
<rect x="249.30" y="391.62" width="9.52" height="2.36" fill="#cac3e5"/>
<rect x="249.30" y="393.96" width="9.52" height="7.05" fill="#a79dd5"/>
<rect x="249.30" y="400.99" width="9.52" height="2.36" fill="#cac3e5"/>
<rect x="249.30" y="403.34" width="9.52" height="2.36" fill="#f8c5b5"/>
<rect x="249.30" y="405.68" width="9.52" height="2.36" fill="#f5f2f6"/>
<rect x="249.30" y="408.03" width="9.52" height="7.05" fill="#cac3e5"/>
<rect x="249.30" y="415.06" width="9.52" height="2.36" fill="#e1ddf0"/>
<rect x="249.30" y="417.40" width="9.52" height="2.36" fill="#f8c5b5"/>
<rect x="249.30" y="419.75" width="9.52" height="2.36" fill="#e1ddf0"/>
<rect x="249.30" y="422.09" width="9.52" height="2.36" fill="#cac3e5"/>
<rect x="249.30" y="424.44" width="9.52" height="2.36" fill="#f8c5b5"/>
<rect x="249.30" y="426.78" width="9.52" height="2.36" fill="#cac3e5"/>
<rect x="249.30" y="429.12" width="9.52" height="2.36" fill="#fadfd5"/>
<rect x="249.30" y="431.47" width="9.52" height="9.40" fill="#cac3e5"/>
<rect x="249.30" y="440.85" width="9.52" height="2.36" fill="#e1ddf0"/>
<rect x="249.30" y="443.19" width="9.52" height="2.36" fill="#ee5a43"/>
<rect x="249.30" y="445.53" width="9.52" height="2.36" fill="#4f59b0"/>
<rect x="249.30" y="447.88" width="9.52" height="7.05" fill="#cac3e5"/>
<rect x="249.30" y="454.91" width="9.52" height="4.71" fill="#a79dd5"/>
<rect x="249.30" y="459.60" width="9.52" height="9.40" fill="#cac3e5"/>
<rect x="249.30" y="468.98" width="9.52" height="4.71" fill="#f8c5b5"/>
<rect x="249.30" y="473.66" width="9.52" height="2.36" fill="#e1ddf0"/>
<rect x="249.30" y="476.01" width="9.52" height="7.05" fill="#cac3e5"/>
<rect x="249.30" y="483.04" width="9.52" height="2.36" fill="#f5f2f6"/>
<rect x="249.30" y="485.39" width="9.52" height="2.36" fill="#f5a38c"/>
<rect x="249.30" y="487.73" width="9.52" height="2.36" fill="#e1ddf0"/>
<rect x="249.30" y="490.07" width="9.52" height="2.36" fill="#f5a38c"/>
<rect x="249.30" y="492.42" width="9.52" height="2.36" fill="#a79dd5"/>
<rect x="249.30" y="494.76" width="9.52" height="2.36" fill="#ee5a43"/>
<rect x="249.30" y="497.11" width="9.52" height="2.36" fill="#f8c5b5"/>
<rect x="249.30" y="499.45" width="9.52" height="2.36" fill="#ee5a43"/>
<rect x="249.30" y="501.79" width="9.52" height="2.36" fill="#f5f2f6"/>
<rect x="249.30" y="504.14" width="9.52" height="2.36" fill="#e6312a"/>
<rect x="249.30" y="506.48" width="9.52" height="2.36" fill="#f5a38c"/>
<rect x="249.30" y="508.83" width="9.52" height="2.36" fill="#ee5a43"/>
<rect x="249.30" y="511.17" width="9.52" height="4.71" fill="#f28268"/>
<rect x="249.30" y="515.86" width="9.52" height="4.71" fill="#f5f2f6"/>
<rect x="249.30" y="520.55" width="9.52" height="2.36" fill="#e1ddf0"/>
<rect x="249.30" y="522.89" width="9.52" height="2.36" fill="#f5a38c"/>
<rect x="249.30" y="525.24" width="9.52" height="2.36" fill="#f8c5b5"/>
<rect x="249.30" y="527.58" width="9.52" height="2.36" fill="#f5f2f6"/>
<rect x="249.30" y="529.93" width="9.52" height="2.36" fill="#7e73c2"/>
<rect x="249.30" y="532.27" width="9.52" height="11.74" fill="#f5a38c"/>
<rect x="249.30" y="543.99" width="9.52" height="2.36" fill="#f28268"/>
<rect x="249.30" y="546.33" width="9.52" height="4.71" fill="#f5a38c"/>
<rect x="249.30" y="551.02" width="9.52" height="2.36" fill="#f28268"/>
<rect x="249.30" y="553.37" width="9.52" height="2.36" fill="#ee5a43"/>
<rect x="249.30" y="555.71" width="9.52" height="2.36" fill="#f5a38c"/>
<rect x="249.30" y="558.06" width="9.52" height="2.36" fill="#f8c5b5"/>
<rect x="258.80" y="337.70" width="9.52" height="2.36" fill="#7e73c2"/>
<rect x="258.80" y="340.04" width="9.52" height="2.36" fill="#f5f2f6"/>
<rect x="258.80" y="342.39" width="9.52" height="2.36" fill="#a79dd5"/>
<rect x="258.80" y="344.73" width="9.52" height="2.36" fill="#e1ddf0"/>
<rect x="258.80" y="347.08" width="9.52" height="7.05" fill="#a79dd5"/>
<rect x="258.80" y="354.11" width="9.52" height="2.36" fill="#e1ddf0"/>
<rect x="258.80" y="356.45" width="9.52" height="4.71" fill="#cac3e5"/>
<rect x="258.80" y="361.14" width="9.52" height="2.36" fill="#7e73c2"/>
<rect x="258.80" y="363.49" width="9.52" height="2.36" fill="#a79dd5"/>
<rect x="258.80" y="365.83" width="9.52" height="7.05" fill="#cac3e5"/>
<rect x="258.80" y="372.86" width="9.52" height="2.36" fill="#4f59b0"/>
<rect x="258.80" y="375.21" width="9.52" height="2.36" fill="#fadfd5"/>
<rect x="258.80" y="377.55" width="9.52" height="2.36" fill="#f8c5b5"/>
<rect x="258.80" y="379.90" width="9.52" height="2.36" fill="#a79dd5"/>
<rect x="258.80" y="382.24" width="9.52" height="2.36" fill="#cac3e5"/>
<rect x="258.80" y="384.58" width="9.52" height="2.36" fill="#fadfd5"/>
<rect x="258.80" y="386.93" width="9.52" height="2.36" fill="#a79dd5"/>
<rect x="258.80" y="389.27" width="9.52" height="2.36" fill="#e1ddf0"/>
<rect x="258.80" y="391.62" width="9.52" height="2.36" fill="#cac3e5"/>
<rect x="258.80" y="393.96" width="9.52" height="7.05" fill="#a79dd5"/>
<rect x="258.80" y="400.99" width="9.52" height="2.36" fill="#f5a38c"/>
<rect x="258.80" y="403.34" width="9.52" height="2.36" fill="#e1ddf0"/>
<rect x="258.80" y="405.68" width="9.52" height="4.71" fill="#f5a38c"/>
<rect x="258.80" y="410.37" width="9.52" height="2.36" fill="#ee5a43"/>
<rect x="258.80" y="412.71" width="9.52" height="2.36" fill="#a79dd5"/>
<rect x="258.80" y="415.06" width="9.52" height="2.36" fill="#f5a38c"/>
<rect x="258.80" y="417.40" width="9.52" height="2.36" fill="#f8c5b5"/>
<rect x="258.80" y="419.75" width="9.52" height="2.36" fill="#f5f2f6"/>
<rect x="258.80" y="422.09" width="9.52" height="2.36" fill="#cac3e5"/>
<rect x="258.80" y="424.44" width="9.52" height="2.36" fill="#ee5a43"/>
<rect x="258.80" y="426.78" width="9.52" height="2.36" fill="#cac3e5"/>
<rect x="258.80" y="429.12" width="9.52" height="2.36" fill="#e1ddf0"/>
<rect x="258.80" y="431.47" width="9.52" height="2.36" fill="#f5a38c"/>
<rect x="258.80" y="433.81" width="9.52" height="2.36" fill="#f5f2f6"/>
<rect x="258.80" y="436.16" width="9.52" height="2.36" fill="#f5a38c"/>
<rect x="258.80" y="438.50" width="9.52" height="2.36" fill="#cac3e5"/>
<rect x="258.80" y="440.85" width="9.52" height="2.36" fill="#f5a38c"/>
<rect x="258.80" y="443.19" width="9.52" height="2.36" fill="#cac3e5"/>
<rect x="258.80" y="445.53" width="9.52" height="2.36" fill="#f5a38c"/>
<rect x="258.80" y="447.88" width="9.52" height="2.36" fill="#cac3e5"/>
<rect x="258.80" y="450.22" width="9.52" height="2.36" fill="#e1ddf0"/>
<rect x="258.80" y="452.57" width="9.52" height="2.36" fill="#f5a38c"/>
<rect x="258.80" y="454.91" width="9.52" height="2.36" fill="#fadfd5"/>
<rect x="258.80" y="457.25" width="9.52" height="2.36" fill="#a79dd5"/>
<rect x="258.80" y="459.60" width="9.52" height="2.36" fill="#fadfd5"/>
<rect x="258.80" y="461.94" width="9.52" height="2.36" fill="#f5a38c"/>
<rect x="258.80" y="464.29" width="9.52" height="2.36" fill="#e1ddf0"/>
<rect x="258.80" y="466.63" width="9.52" height="2.36" fill="#cac3e5"/>
<rect x="258.80" y="468.98" width="9.52" height="4.71" fill="#f5a38c"/>
<rect x="258.80" y="473.66" width="9.52" height="4.71" fill="#f8c5b5"/>
<rect x="258.80" y="478.35" width="9.52" height="2.36" fill="#f5a38c"/>
<rect x="258.80" y="480.70" width="9.52" height="2.36" fill="#e1ddf0"/>
<rect x="258.80" y="483.04" width="9.52" height="2.36" fill="#ee5a43"/>
<rect x="258.80" y="485.39" width="9.52" height="2.36" fill="#f5f2f6"/>
<rect x="258.80" y="487.73" width="9.52" height="4.71" fill="#f8c5b5"/>
<rect x="258.80" y="492.42" width="9.52" height="2.36" fill="#f5f2f6"/>
<rect x="258.80" y="494.76" width="9.52" height="2.36" fill="#f5a38c"/>
<rect x="258.80" y="497.11" width="9.52" height="2.36" fill="#f8c5b5"/>
<rect x="258.80" y="499.45" width="9.52" height="2.36" fill="#f5a38c"/>
<rect x="258.80" y="501.79" width="9.52" height="2.36" fill="#f8c5b5"/>
<rect x="258.80" y="504.14" width="9.52" height="2.36" fill="#e1ddf0"/>
<rect x="258.80" y="506.48" width="9.52" height="2.36" fill="#cac3e5"/>
<rect x="258.80" y="508.83" width="9.52" height="2.36" fill="#f5f2f6"/>
<rect x="258.80" y="511.17" width="9.52" height="2.36" fill="#f28268"/>
<rect x="258.80" y="513.52" width="9.52" height="2.36" fill="#e1ddf0"/>
<rect x="258.80" y="515.86" width="9.52" height="2.36" fill="#e6312a"/>
<rect x="258.80" y="518.20" width="9.52" height="2.36" fill="#e1ddf0"/>
<rect x="258.80" y="520.55" width="9.52" height="2.36" fill="#f5a38c"/>
<rect x="258.80" y="522.89" width="9.52" height="2.36" fill="#f5f2f6"/>
<rect x="258.80" y="525.24" width="9.52" height="2.36" fill="#f28268"/>
<rect x="258.80" y="527.58" width="9.52" height="2.36" fill="#f5f2f6"/>
<rect x="258.80" y="529.93" width="9.52" height="4.71" fill="#cac3e5"/>
<rect x="258.80" y="534.61" width="9.52" height="4.71" fill="#f8c5b5"/>
<rect x="258.80" y="539.30" width="9.52" height="2.36" fill="#e1ddf0"/>
<rect x="258.80" y="541.65" width="9.52" height="2.36" fill="#f5a38c"/>
<rect x="258.80" y="543.99" width="9.52" height="2.36" fill="#f8c5b5"/>
<rect x="258.80" y="546.33" width="9.52" height="2.36" fill="#f5a38c"/>
<rect x="258.80" y="548.68" width="9.52" height="2.36" fill="#f5f2f6"/>
<rect x="258.80" y="551.02" width="9.52" height="2.36" fill="#ee5a43"/>
<rect x="258.80" y="553.37" width="9.52" height="2.36" fill="#f28268"/>
<rect x="258.80" y="555.71" width="9.52" height="2.36" fill="#f8c5b5"/>
<rect x="258.80" y="558.06" width="9.52" height="2.36" fill="#e6312a"/>
<rect x="268.30" y="337.70" width="9.52" height="2.36" fill="#cac3e5"/>
<rect x="268.30" y="340.04" width="9.52" height="2.36" fill="#e1ddf0"/>
<rect x="268.30" y="342.39" width="9.52" height="2.36" fill="#a79dd5"/>
<rect x="268.30" y="344.73" width="9.52" height="2.36" fill="#fadfd5"/>
<rect x="268.30" y="347.08" width="9.52" height="4.71" fill="#a79dd5"/>
<rect x="268.30" y="351.77" width="9.52" height="2.36" fill="#f5f2f6"/>
<rect x="268.30" y="354.11" width="9.52" height="2.36" fill="#a79dd5"/>
<rect x="268.30" y="356.45" width="9.52" height="2.36" fill="#f5f2f6"/>
<rect x="268.30" y="358.80" width="9.52" height="2.36" fill="#cac3e5"/>
<rect x="268.30" y="361.14" width="9.52" height="4.71" fill="#a79dd5"/>
<rect x="268.30" y="365.83" width="9.52" height="2.36" fill="#cac3e5"/>
<rect x="268.30" y="368.17" width="9.52" height="2.36" fill="#f5f2f6"/>
<rect x="268.30" y="370.52" width="9.52" height="4.71" fill="#cac3e5"/>
<rect x="268.30" y="375.21" width="9.52" height="4.71" fill="#f5a38c"/>
<rect x="268.30" y="379.90" width="9.52" height="7.05" fill="#f8c5b5"/>
<rect x="268.30" y="386.93" width="9.52" height="2.36" fill="#a79dd5"/>
<rect x="268.30" y="389.27" width="9.52" height="2.36" fill="#e1ddf0"/>
<rect x="268.30" y="391.62" width="9.52" height="2.36" fill="#cac3e5"/>
<rect x="268.30" y="393.96" width="9.52" height="2.36" fill="#f5a38c"/>
<rect x="268.30" y="396.31" width="9.52" height="4.71" fill="#cac3e5"/>
<rect x="268.30" y="400.99" width="9.52" height="2.36" fill="#f5f2f6"/>
<rect x="268.30" y="403.34" width="9.52" height="2.36" fill="#a79dd5"/>
<rect x="268.30" y="405.68" width="9.52" height="2.36" fill="#f5f2f6"/>
<rect x="268.30" y="408.03" width="9.52" height="2.36" fill="#cac3e5"/>
<rect x="268.30" y="410.37" width="9.52" height="2.36" fill="#f8c5b5"/>
<rect x="268.30" y="412.71" width="9.52" height="2.36" fill="#f5f2f6"/>
<rect x="268.30" y="415.06" width="9.52" height="2.36" fill="#e1ddf0"/>
<rect x="268.30" y="417.40" width="9.52" height="2.36" fill="#f5a38c"/>
<rect x="268.30" y="419.75" width="9.52" height="2.36" fill="#a79dd5"/>
<rect x="268.30" y="422.09" width="9.52" height="2.36" fill="#f5f2f6"/>
<rect x="268.30" y="424.44" width="9.52" height="2.36" fill="#f8c5b5"/>
<rect x="268.30" y="426.78" width="9.52" height="2.36" fill="#cac3e5"/>
<rect x="268.30" y="429.12" width="9.52" height="7.05" fill="#e1ddf0"/>
<rect x="268.30" y="436.16" width="9.52" height="2.36" fill="#ee5a43"/>
<rect x="268.30" y="438.50" width="9.52" height="2.36" fill="#cac3e5"/>
<rect x="268.30" y="440.85" width="9.52" height="2.36" fill="#fadfd5"/>
<rect x="268.30" y="443.19" width="9.52" height="2.36" fill="#cac3e5"/>
<rect x="268.30" y="445.53" width="9.52" height="2.36" fill="#f5f2f6"/>
<rect x="268.30" y="447.88" width="9.52" height="7.05" fill="#cac3e5"/>
<rect x="268.30" y="454.91" width="9.52" height="2.36" fill="#e1ddf0"/>
<rect x="268.30" y="457.25" width="9.52" height="2.36" fill="#cac3e5"/>
<rect x="268.30" y="459.60" width="9.52" height="2.36" fill="#e1ddf0"/>
<rect x="268.30" y="461.94" width="9.52" height="2.36" fill="#cac3e5"/>
<rect x="268.30" y="464.29" width="9.52" height="4.71" fill="#e1ddf0"/>
<rect x="268.30" y="468.98" width="9.52" height="2.36" fill="#cac3e5"/>
<rect x="268.30" y="471.32" width="9.52" height="2.36" fill="#e1ddf0"/>
<rect x="268.30" y="473.66" width="9.52" height="2.36" fill="#f5f2f6"/>
<rect x="268.30" y="476.01" width="9.52" height="4.71" fill="#cac3e5"/>
<rect x="268.30" y="480.70" width="9.52" height="4.71" fill="#f8c5b5"/>
<rect x="268.30" y="485.39" width="9.52" height="4.71" fill="#cac3e5"/>
<rect x="268.30" y="490.07" width="9.52" height="2.36" fill="#f5f2f6"/>
<rect x="268.30" y="492.42" width="9.52" height="2.36" fill="#7e73c2"/>
<rect x="268.30" y="494.76" width="9.52" height="2.36" fill="#f5a38c"/>
<rect x="268.30" y="497.11" width="9.52" height="2.36" fill="#f5f2f6"/>
<rect x="268.30" y="499.45" width="9.52" height="2.36" fill="#a79dd5"/>
<rect x="268.30" y="501.79" width="9.52" height="2.36" fill="#f5f2f6"/>
<rect x="268.30" y="504.14" width="9.52" height="2.36" fill="#f8c5b5"/>
<rect x="268.30" y="506.48" width="9.52" height="4.71" fill="#cac3e5"/>
<rect x="268.30" y="511.17" width="9.52" height="4.71" fill="#e1ddf0"/>
<rect x="268.30" y="515.86" width="9.52" height="2.36" fill="#f5f2f6"/>
<rect x="268.30" y="518.20" width="9.52" height="2.36" fill="#e1ddf0"/>
<rect x="268.30" y="520.55" width="9.52" height="2.36" fill="#f5a38c"/>
<rect x="268.30" y="522.89" width="9.52" height="14.09" fill="#f8c5b5"/>
<rect x="268.30" y="536.96" width="9.52" height="2.36" fill="#f5a38c"/>
<rect x="268.30" y="539.30" width="9.52" height="2.36" fill="#f8c5b5"/>
<rect x="268.30" y="541.65" width="9.52" height="2.36" fill="#e1ddf0"/>
<rect x="268.30" y="543.99" width="9.52" height="2.36" fill="#f5a38c"/>
<rect x="268.30" y="546.33" width="9.52" height="4.71" fill="#f8c5b5"/>
<rect x="268.30" y="551.02" width="9.52" height="2.36" fill="#e1ddf0"/>
<rect x="268.30" y="553.37" width="9.52" height="4.71" fill="#f5a38c"/>
<rect x="268.30" y="558.06" width="9.52" height="2.36" fill="#ee5a43"/>
<rect x="277.80" y="337.70" width="9.52" height="2.36" fill="#4f59b0"/>
<rect x="277.80" y="340.04" width="9.52" height="2.36" fill="#cac3e5"/>
<rect x="277.80" y="342.39" width="9.52" height="2.36" fill="#f5f2f6"/>
<rect x="277.80" y="344.73" width="9.52" height="2.36" fill="#4f59b0"/>
<rect x="277.80" y="347.08" width="9.52" height="4.71" fill="#7e73c2"/>
<rect x="277.80" y="351.77" width="9.52" height="2.36" fill="#4f59b0"/>
<rect x="277.80" y="354.11" width="9.52" height="2.36" fill="#cac3e5"/>
<rect x="277.80" y="356.45" width="9.52" height="2.36" fill="#4f59b0"/>
<rect x="277.80" y="358.80" width="9.52" height="2.36" fill="#e1ddf0"/>
<rect x="277.80" y="361.14" width="9.52" height="2.36" fill="#4f59b0"/>
<rect x="277.80" y="363.49" width="9.52" height="2.36" fill="#f8c5b5"/>
<rect x="277.80" y="365.83" width="9.52" height="2.36" fill="#e1ddf0"/>
<rect x="277.80" y="368.17" width="9.52" height="2.36" fill="#a79dd5"/>
<rect x="277.80" y="370.52" width="9.52" height="2.36" fill="#cac3e5"/>
<rect x="277.80" y="372.86" width="9.52" height="7.05" fill="#7e73c2"/>
<rect x="277.80" y="379.90" width="9.52" height="2.36" fill="#a79dd5"/>
<rect x="277.80" y="382.24" width="9.52" height="2.36" fill="#4f59b0"/>
<rect x="277.80" y="384.58" width="9.52" height="7.05" fill="#a79dd5"/>
<rect x="277.80" y="391.62" width="9.52" height="2.36" fill="#cac3e5"/>
<rect x="277.80" y="393.96" width="9.52" height="2.36" fill="#7e73c2"/>
<rect x="277.80" y="396.31" width="9.52" height="4.71" fill="#a79dd5"/>
<rect x="277.80" y="400.99" width="9.52" height="2.36" fill="#7e73c2"/>
<rect x="277.80" y="403.34" width="9.52" height="4.71" fill="#a79dd5"/>
<rect x="277.80" y="408.03" width="9.52" height="2.36" fill="#cac3e5"/>
<rect x="277.80" y="410.37" width="9.52" height="4.71" fill="#7e73c2"/>
<rect x="277.80" y="415.06" width="9.52" height="2.36" fill="#cac3e5"/>
<rect x="277.80" y="417.40" width="9.52" height="2.36" fill="#4f59b0"/>
<rect x="277.80" y="419.75" width="9.52" height="2.36" fill="#f28268"/>
<rect x="277.80" y="422.09" width="9.52" height="7.05" fill="#cac3e5"/>
<rect x="277.80" y="429.12" width="9.52" height="2.36" fill="#e1ddf0"/>
<rect x="277.80" y="431.47" width="9.52" height="4.71" fill="#cac3e5"/>
<rect x="277.80" y="436.16" width="9.52" height="2.36" fill="#e1ddf0"/>
<rect x="277.80" y="438.50" width="9.52" height="2.36" fill="#cac3e5"/>
<rect x="277.80" y="440.85" width="9.52" height="2.36" fill="#e1ddf0"/>
<rect x="277.80" y="443.19" width="9.52" height="2.36" fill="#cac3e5"/>
<rect x="277.80" y="445.53" width="9.52" height="2.36" fill="#4f59b0"/>
<rect x="277.80" y="447.88" width="9.52" height="2.36" fill="#7e73c2"/>
<rect x="277.80" y="450.22" width="9.52" height="2.36" fill="#e1ddf0"/>
<rect x="277.80" y="452.57" width="9.52" height="2.36" fill="#cac3e5"/>
<rect x="277.80" y="454.91" width="9.52" height="4.71" fill="#a79dd5"/>
<rect x="277.80" y="459.60" width="9.52" height="2.36" fill="#f5f2f6"/>
<rect x="277.80" y="461.94" width="9.52" height="4.71" fill="#f8c5b5"/>
<rect x="277.80" y="466.63" width="9.52" height="2.36" fill="#f5a38c"/>
<rect x="277.80" y="468.98" width="9.52" height="4.71" fill="#f8c5b5"/>
<rect x="277.80" y="473.66" width="9.52" height="2.36" fill="#f28268"/>
<rect x="277.80" y="476.01" width="9.52" height="4.71" fill="#cac3e5"/>
<rect x="277.80" y="480.70" width="9.52" height="2.36" fill="#f8c5b5"/>
<rect x="277.80" y="483.04" width="9.52" height="2.36" fill="#f5a38c"/>
<rect x="277.80" y="485.39" width="9.52" height="2.36" fill="#e1ddf0"/>
<rect x="277.80" y="487.73" width="9.52" height="2.36" fill="#cac3e5"/>
<rect x="277.80" y="490.07" width="9.52" height="2.36" fill="#f8c5b5"/>
<rect x="277.80" y="492.42" width="9.52" height="2.36" fill="#f5f2f6"/>
<rect x="277.80" y="494.76" width="9.52" height="2.36" fill="#e1ddf0"/>
<rect x="277.80" y="497.11" width="9.52" height="2.36" fill="#f28268"/>
<rect x="277.80" y="499.45" width="9.52" height="2.36" fill="#a79dd5"/>
<rect x="277.80" y="501.79" width="9.52" height="2.36" fill="#f5f2f6"/>
<rect x="277.80" y="504.14" width="9.52" height="2.36" fill="#f5a38c"/>
<rect x="277.80" y="506.48" width="9.52" height="2.36" fill="#ee5a43"/>
<rect x="277.80" y="508.83" width="9.52" height="2.36" fill="#f28268"/>
<rect x="277.80" y="511.17" width="9.52" height="2.36" fill="#a79dd5"/>
<rect x="277.80" y="513.52" width="9.52" height="2.36" fill="#e1ddf0"/>
<rect x="277.80" y="515.86" width="9.52" height="2.36" fill="#e6312a"/>
<rect x="277.80" y="518.20" width="9.52" height="2.36" fill="#e1ddf0"/>
<rect x="277.80" y="520.55" width="9.52" height="2.36" fill="#a79dd5"/>
<rect x="277.80" y="522.89" width="9.52" height="9.40" fill="#e1ddf0"/>
<rect x="277.80" y="532.27" width="9.52" height="2.36" fill="#e6312a"/>
<rect x="277.80" y="534.61" width="9.52" height="4.71" fill="#f28268"/>
<rect x="277.80" y="539.30" width="9.52" height="4.71" fill="#ee5a43"/>
<rect x="277.80" y="543.99" width="9.52" height="2.36" fill="#f28268"/>
<rect x="277.80" y="546.33" width="9.52" height="2.36" fill="#ee5a43"/>
<rect x="277.80" y="548.68" width="9.52" height="2.36" fill="#f28268"/>
<rect x="277.80" y="551.02" width="9.52" height="2.36" fill="#f5a38c"/>
<rect x="277.80" y="553.37" width="9.52" height="2.36" fill="#e1ddf0"/>
<rect x="277.80" y="555.71" width="9.52" height="2.36" fill="#f8c5b5"/>
<rect x="277.80" y="558.06" width="9.52" height="2.36" fill="#f5f2f6"/>
<rect x="287.30" y="337.70" width="9.52" height="2.36" fill="#fadfd5"/>
<rect x="287.30" y="340.04" width="9.52" height="2.36" fill="#f5a38c"/>
<rect x="287.30" y="342.39" width="9.52" height="2.36" fill="#ee5a43"/>
<rect x="287.30" y="344.73" width="9.52" height="2.36" fill="#f28268"/>
<rect x="287.30" y="347.08" width="9.52" height="4.71" fill="#cac3e5"/>
<rect x="287.30" y="351.77" width="9.52" height="2.36" fill="#fadfd5"/>
<rect x="287.30" y="354.11" width="9.52" height="2.36" fill="#a79dd5"/>
<rect x="287.30" y="356.45" width="9.52" height="4.71" fill="#cac3e5"/>
<rect x="287.30" y="361.14" width="9.52" height="2.36" fill="#f5f2f6"/>
<rect x="287.30" y="363.49" width="9.52" height="2.36" fill="#f5a38c"/>
<rect x="287.30" y="365.83" width="9.52" height="4.71" fill="#a79dd5"/>
<rect x="287.30" y="370.52" width="9.52" height="4.71" fill="#e1ddf0"/>
<rect x="287.30" y="375.21" width="9.52" height="2.36" fill="#7e73c2"/>
<rect x="287.30" y="377.55" width="9.52" height="4.71" fill="#cac3e5"/>
<rect x="287.30" y="382.24" width="9.52" height="2.36" fill="#f5f2f6"/>
<rect x="287.30" y="384.58" width="9.52" height="2.36" fill="#a79dd5"/>
<rect x="287.30" y="386.93" width="9.52" height="2.36" fill="#fadfd5"/>
<rect x="287.30" y="389.27" width="9.52" height="2.36" fill="#a79dd5"/>
<rect x="287.30" y="391.62" width="9.52" height="2.36" fill="#cac3e5"/>
<rect x="287.30" y="393.96" width="9.52" height="2.36" fill="#f5a38c"/>
<rect x="287.30" y="396.31" width="9.52" height="7.05" fill="#cac3e5"/>
<rect x="287.30" y="403.34" width="9.52" height="2.36" fill="#a79dd5"/>
<rect x="287.30" y="405.68" width="9.52" height="2.36" fill="#cac3e5"/>
<rect x="287.30" y="408.03" width="9.52" height="2.36" fill="#f28268"/>
<rect x="287.30" y="410.37" width="9.52" height="2.36" fill="#ee5a43"/>
<rect x="287.30" y="412.71" width="9.52" height="2.36" fill="#f5f2f6"/>
<rect x="287.30" y="415.06" width="9.52" height="2.36" fill="#f8c5b5"/>
<rect x="287.30" y="417.40" width="9.52" height="2.36" fill="#f5f2f6"/>
<rect x="287.30" y="419.75" width="9.52" height="2.36" fill="#7e73c2"/>
<rect x="287.30" y="422.09" width="9.52" height="7.05" fill="#cac3e5"/>
<rect x="287.30" y="429.12" width="9.52" height="4.71" fill="#e1ddf0"/>
<rect x="287.30" y="433.81" width="9.52" height="7.05" fill="#cac3e5"/>
<rect x="287.30" y="440.85" width="9.52" height="2.36" fill="#7e73c2"/>
<rect x="287.30" y="443.19" width="9.52" height="4.71" fill="#a79dd5"/>
<rect x="287.30" y="447.88" width="9.52" height="2.36" fill="#fadfd5"/>
<rect x="287.30" y="450.22" width="9.52" height="2.36" fill="#e1ddf0"/>
<rect x="287.30" y="452.57" width="9.52" height="7.05" fill="#a79dd5"/>
<rect x="287.30" y="459.60" width="9.52" height="2.36" fill="#f5a38c"/>
<rect x="287.30" y="461.94" width="9.52" height="9.40" fill="#cac3e5"/>
<rect x="287.30" y="471.32" width="9.52" height="2.36" fill="#a79dd5"/>
<rect x="287.30" y="473.66" width="9.52" height="2.36" fill="#f5a38c"/>
<rect x="287.30" y="476.01" width="9.52" height="4.71" fill="#cac3e5"/>
<rect x="287.30" y="480.70" width="9.52" height="2.36" fill="#fadfd5"/>
<rect x="287.30" y="483.04" width="9.52" height="4.71" fill="#a79dd5"/>
<rect x="287.30" y="487.73" width="9.52" height="2.36" fill="#f8c5b5"/>
<rect x="287.30" y="490.07" width="9.52" height="2.36" fill="#f5f2f6"/>
<rect x="287.30" y="492.42" width="9.52" height="7.05" fill="#cac3e5"/>
<rect x="287.30" y="499.45" width="9.52" height="2.36" fill="#f5f2f6"/>
<rect x="287.30" y="501.79" width="9.52" height="2.36" fill="#cac3e5"/>
<rect x="287.30" y="504.14" width="9.52" height="2.36" fill="#e1ddf0"/>
<rect x="287.30" y="506.48" width="9.52" height="2.36" fill="#cac3e5"/>
<rect x="287.30" y="508.83" width="9.52" height="2.36" fill="#e6312a"/>
<rect x="287.30" y="511.17" width="9.52" height="2.36" fill="#cac3e5"/>
<rect x="287.30" y="513.52" width="9.52" height="4.71" fill="#f5a38c"/>
<rect x="287.30" y="518.20" width="9.52" height="2.36" fill="#e1ddf0"/>
<rect x="287.30" y="520.55" width="9.52" height="2.36" fill="#f5a38c"/>
<rect x="287.30" y="522.89" width="9.52" height="2.36" fill="#f28268"/>
<rect x="287.30" y="525.24" width="9.52" height="2.36" fill="#f8c5b5"/>
<rect x="287.30" y="527.58" width="9.52" height="4.71" fill="#f5a38c"/>
<rect x="287.30" y="532.27" width="9.52" height="2.36" fill="#f8c5b5"/>
<rect x="287.30" y="534.61" width="9.52" height="2.36" fill="#e6312a"/>
<rect x="287.30" y="536.96" width="9.52" height="2.36" fill="#f5f2f6"/>
<rect x="287.30" y="539.30" width="9.52" height="2.36" fill="#f8c5b5"/>
<rect x="287.30" y="541.65" width="9.52" height="2.36" fill="#f5a38c"/>
<rect x="287.30" y="543.99" width="9.52" height="2.36" fill="#f8c5b5"/>
<rect x="287.30" y="546.33" width="9.52" height="2.36" fill="#ee5a43"/>
<rect x="287.30" y="548.68" width="9.52" height="4.71" fill="#f5f2f6"/>
<rect x="287.30" y="553.37" width="9.52" height="2.36" fill="#fadfd5"/>
<rect x="287.30" y="555.71" width="9.52" height="2.36" fill="#e1ddf0"/>
<rect x="287.30" y="558.06" width="9.52" height="2.36" fill="#cac3e5"/>
<rect x="296.80" y="337.70" width="9.52" height="2.36" fill="#ee5a43"/>
<rect x="296.80" y="340.04" width="9.52" height="2.36" fill="#e1ddf0"/>
<rect x="296.80" y="342.39" width="9.52" height="2.36" fill="#cac3e5"/>
<rect x="296.80" y="344.73" width="9.52" height="2.36" fill="#f8c5b5"/>
<rect x="296.80" y="347.08" width="9.52" height="4.71" fill="#7e73c2"/>
<rect x="296.80" y="351.77" width="9.52" height="2.36" fill="#cac3e5"/>
<rect x="296.80" y="354.11" width="9.52" height="2.36" fill="#f5f2f6"/>
<rect x="296.80" y="356.45" width="9.52" height="2.36" fill="#7e73c2"/>
<rect x="296.80" y="358.80" width="9.52" height="2.36" fill="#fadfd5"/>
<rect x="296.80" y="361.14" width="9.52" height="2.36" fill="#7e73c2"/>
<rect x="296.80" y="363.49" width="9.52" height="2.36" fill="#cac3e5"/>
<rect x="296.80" y="365.83" width="9.52" height="2.36" fill="#fadfd5"/>
<rect x="296.80" y="368.17" width="9.52" height="2.36" fill="#e1ddf0"/>
<rect x="296.80" y="370.52" width="9.52" height="2.36" fill="#4f59b0"/>
<rect x="296.80" y="372.86" width="9.52" height="2.36" fill="#cac3e5"/>
<rect x="296.80" y="375.21" width="9.52" height="2.36" fill="#fadfd5"/>
<rect x="296.80" y="377.55" width="9.52" height="4.71" fill="#cac3e5"/>
<rect x="296.80" y="382.24" width="9.52" height="2.36" fill="#7e73c2"/>
<rect x="296.80" y="384.58" width="9.52" height="2.36" fill="#a79dd5"/>
<rect x="296.80" y="386.93" width="9.52" height="2.36" fill="#cac3e5"/>
<rect x="296.80" y="389.27" width="9.52" height="18.77" fill="#a79dd5"/>
<rect x="296.80" y="408.03" width="9.52" height="2.36" fill="#cac3e5"/>
<rect x="296.80" y="410.37" width="9.52" height="2.36" fill="#a79dd5"/>
<rect x="296.80" y="412.71" width="9.52" height="2.36" fill="#7e73c2"/>
<rect x="296.80" y="415.06" width="9.52" height="7.05" fill="#e1ddf0"/>
<rect x="296.80" y="422.09" width="9.52" height="7.05" fill="#cac3e5"/>
<rect x="296.80" y="429.12" width="9.52" height="9.40" fill="#e1ddf0"/>
<rect x="296.80" y="438.50" width="9.52" height="2.36" fill="#cac3e5"/>
<rect x="296.80" y="440.85" width="9.52" height="2.36" fill="#f5a38c"/>
<rect x="296.80" y="443.19" width="9.52" height="2.36" fill="#e6312a"/>
<rect x="296.80" y="445.53" width="9.52" height="2.36" fill="#f5a38c"/>
<rect x="296.80" y="447.88" width="9.52" height="2.36" fill="#f8c5b5"/>
<rect x="296.80" y="450.22" width="9.52" height="2.36" fill="#e1ddf0"/>
<rect x="296.80" y="452.57" width="9.52" height="2.36" fill="#ee5a43"/>
<rect x="296.80" y="454.91" width="9.52" height="2.36" fill="#f5a38c"/>
<rect x="296.80" y="457.25" width="9.52" height="2.36" fill="#f28268"/>
<rect x="296.80" y="459.60" width="9.52" height="2.36" fill="#f5f2f6"/>
<rect x="296.80" y="461.94" width="9.52" height="2.36" fill="#ee5a43"/>
<rect x="296.80" y="464.29" width="9.52" height="2.36" fill="#e1ddf0"/>
<rect x="296.80" y="466.63" width="9.52" height="2.36" fill="#cac3e5"/>
<rect x="296.80" y="468.98" width="9.52" height="2.36" fill="#f5f2f6"/>
<rect x="296.80" y="471.32" width="9.52" height="2.36" fill="#e1ddf0"/>
<rect x="296.80" y="473.66" width="9.52" height="2.36" fill="#ee5a43"/>
<rect x="296.80" y="476.01" width="9.52" height="2.36" fill="#f8c5b5"/>
<rect x="296.80" y="478.35" width="9.52" height="2.36" fill="#f5a38c"/>
<rect x="296.80" y="480.70" width="9.52" height="2.36" fill="#e6312a"/>
<rect x="296.80" y="483.04" width="9.52" height="2.36" fill="#f5a38c"/>
<rect x="296.80" y="485.39" width="9.52" height="2.36" fill="#f8c5b5"/>
<rect x="296.80" y="487.73" width="9.52" height="2.36" fill="#cac3e5"/>
<rect x="296.80" y="490.07" width="9.52" height="2.36" fill="#f5a38c"/>
<rect x="296.80" y="492.42" width="9.52" height="2.36" fill="#f28268"/>
<rect x="296.80" y="494.76" width="9.52" height="2.36" fill="#f5a38c"/>
<rect x="296.80" y="497.11" width="9.52" height="2.36" fill="#f28268"/>
<rect x="296.80" y="499.45" width="9.52" height="2.36" fill="#f5a38c"/>
<rect x="296.80" y="501.79" width="9.52" height="2.36" fill="#f8c5b5"/>
<rect x="296.80" y="504.14" width="9.52" height="2.36" fill="#ee5a43"/>
<rect x="296.80" y="506.48" width="9.52" height="2.36" fill="#e1ddf0"/>
<rect x="296.80" y="508.83" width="9.52" height="2.36" fill="#f5a38c"/>
<rect x="296.80" y="511.17" width="9.52" height="4.71" fill="#cac3e5"/>
<rect x="296.80" y="515.86" width="9.52" height="4.71" fill="#e1ddf0"/>
<rect x="296.80" y="520.55" width="9.52" height="2.36" fill="#f8c5b5"/>
<rect x="296.80" y="522.89" width="9.52" height="2.36" fill="#f5a38c"/>
<rect x="296.80" y="525.24" width="9.52" height="2.36" fill="#f28268"/>
<rect x="296.80" y="527.58" width="9.52" height="2.36" fill="#e6312a"/>
<rect x="296.80" y="529.93" width="9.52" height="4.71" fill="#ee5a43"/>
<rect x="296.80" y="534.61" width="9.52" height="2.36" fill="#f8c5b5"/>
<rect x="296.80" y="536.96" width="9.52" height="2.36" fill="#ee5a43"/>
<rect x="296.80" y="539.30" width="9.52" height="7.05" fill="#f5a38c"/>
<rect x="296.80" y="546.33" width="9.52" height="2.36" fill="#f8c5b5"/>
<rect x="296.80" y="548.68" width="9.52" height="4.71" fill="#f5a38c"/>
<rect x="296.80" y="553.37" width="9.52" height="2.36" fill="#f8c5b5"/>
<rect x="296.80" y="555.71" width="9.52" height="2.36" fill="#f5a38c"/>
<rect x="296.80" y="558.06" width="9.52" height="2.36" fill="#e6312a"/>
<rect x="306.30" y="337.70" width="9.52" height="4.71" fill="#f5a38c"/>
<rect x="306.30" y="342.39" width="9.52" height="2.36" fill="#ee5a43"/>
<rect x="306.30" y="344.73" width="9.52" height="2.36" fill="#e1ddf0"/>
<rect x="306.30" y="347.08" width="9.52" height="2.36" fill="#cac3e5"/>
<rect x="306.30" y="349.42" width="9.52" height="2.36" fill="#a79dd5"/>
<rect x="306.30" y="351.77" width="9.52" height="2.36" fill="#f5f2f6"/>
<rect x="306.30" y="354.11" width="9.52" height="2.36" fill="#a79dd5"/>
<rect x="306.30" y="356.45" width="9.52" height="2.36" fill="#f8c5b5"/>
<rect x="306.30" y="358.80" width="9.52" height="2.36" fill="#e1ddf0"/>
<rect x="306.30" y="361.14" width="9.52" height="2.36" fill="#f5a38c"/>
<rect x="306.30" y="363.49" width="9.52" height="2.36" fill="#ee5a43"/>
<rect x="306.30" y="365.83" width="9.52" height="2.36" fill="#e1ddf0"/>
<rect x="306.30" y="368.17" width="9.52" height="4.71" fill="#cac3e5"/>
<rect x="306.30" y="372.86" width="9.52" height="2.36" fill="#f5f2f6"/>
<rect x="306.30" y="375.21" width="9.52" height="2.36" fill="#4f59b0"/>
<rect x="306.30" y="377.55" width="9.52" height="4.71" fill="#cac3e5"/>
<rect x="306.30" y="382.24" width="9.52" height="4.71" fill="#a79dd5"/>
<rect x="306.30" y="386.93" width="9.52" height="4.71" fill="#cac3e5"/>
<rect x="306.30" y="391.62" width="9.52" height="2.36" fill="#a79dd5"/>
<rect x="306.30" y="393.96" width="9.52" height="2.36" fill="#e1ddf0"/>
<rect x="306.30" y="396.31" width="9.52" height="4.71" fill="#fadfd5"/>
<rect x="306.30" y="400.99" width="9.52" height="2.36" fill="#7e73c2"/>
<rect x="306.30" y="403.34" width="9.52" height="4.71" fill="#a79dd5"/>
<rect x="306.30" y="408.03" width="9.52" height="2.36" fill="#cac3e5"/>
<rect x="306.30" y="410.37" width="9.52" height="2.36" fill="#e1ddf0"/>
<rect x="306.30" y="412.71" width="9.52" height="2.36" fill="#cac3e5"/>
<rect x="306.30" y="415.06" width="9.52" height="2.36" fill="#f8c5b5"/>
<rect x="306.30" y="417.40" width="9.52" height="2.36" fill="#e1ddf0"/>
<rect x="306.30" y="419.75" width="9.52" height="2.36" fill="#f5f2f6"/>
<rect x="306.30" y="422.09" width="9.52" height="7.05" fill="#cac3e5"/>
<rect x="306.30" y="429.12" width="9.52" height="2.36" fill="#e1ddf0"/>
<rect x="306.30" y="431.47" width="9.52" height="2.36" fill="#cac3e5"/>
<rect x="306.30" y="433.81" width="9.52" height="2.36" fill="#a79dd5"/>
<rect x="306.30" y="436.16" width="9.52" height="4.71" fill="#cac3e5"/>
<rect x="306.30" y="440.85" width="9.52" height="2.36" fill="#f5f2f6"/>
<rect x="306.30" y="443.19" width="9.52" height="2.36" fill="#a79dd5"/>
<rect x="306.30" y="445.53" width="9.52" height="2.36" fill="#fadfd5"/>
<rect x="306.30" y="447.88" width="9.52" height="2.36" fill="#f8c5b5"/>
<rect x="306.30" y="450.22" width="9.52" height="2.36" fill="#e1ddf0"/>
<rect x="306.30" y="452.57" width="9.52" height="2.36" fill="#a79dd5"/>
<rect x="306.30" y="454.91" width="9.52" height="2.36" fill="#cac3e5"/>
<rect x="306.30" y="457.25" width="9.52" height="2.36" fill="#a79dd5"/>
<rect x="306.30" y="459.60" width="9.52" height="2.36" fill="#f8c5b5"/>
<rect x="306.30" y="461.94" width="9.52" height="2.36" fill="#cac3e5"/>
<rect x="306.30" y="464.29" width="9.52" height="4.71" fill="#f5f2f6"/>
<rect x="306.30" y="468.98" width="9.52" height="2.36" fill="#e1ddf0"/>
<rect x="306.30" y="471.32" width="9.52" height="2.36" fill="#cac3e5"/>
<rect x="306.30" y="473.66" width="9.52" height="2.36" fill="#f5a38c"/>
<rect x="306.30" y="476.01" width="9.52" height="2.36" fill="#e1ddf0"/>
<rect x="306.30" y="478.35" width="9.52" height="4.71" fill="#cac3e5"/>
<rect x="306.30" y="483.04" width="9.52" height="2.36" fill="#f5a38c"/>
<rect x="306.30" y="485.39" width="9.52" height="2.36" fill="#f5f2f6"/>
<rect x="306.30" y="487.73" width="9.52" height="2.36" fill="#cac3e5"/>
<rect x="306.30" y="490.07" width="9.52" height="2.36" fill="#f5f2f6"/>
<rect x="306.30" y="492.42" width="9.52" height="2.36" fill="#f8c5b5"/>
<rect x="306.30" y="494.76" width="9.52" height="4.71" fill="#f5a38c"/>
<rect x="306.30" y="499.45" width="9.52" height="2.36" fill="#e1ddf0"/>
<rect x="306.30" y="501.79" width="9.52" height="4.71" fill="#f5f2f6"/>
<rect x="306.30" y="506.48" width="9.52" height="2.36" fill="#e1ddf0"/>
<rect x="306.30" y="508.83" width="9.52" height="2.36" fill="#f8c5b5"/>
<rect x="306.30" y="511.17" width="9.52" height="4.71" fill="#cac3e5"/>
<rect x="306.30" y="515.86" width="9.52" height="2.36" fill="#f5a38c"/>
<rect x="306.30" y="518.20" width="9.52" height="2.36" fill="#e1ddf0"/>
<rect x="306.30" y="520.55" width="9.52" height="2.36" fill="#f28268"/>
<rect x="306.30" y="522.89" width="9.52" height="2.36" fill="#ee5a43"/>
<rect x="306.30" y="525.24" width="9.52" height="2.36" fill="#f5a38c"/>
<rect x="306.30" y="527.58" width="9.52" height="4.71" fill="#f28268"/>
<rect x="306.30" y="532.27" width="9.52" height="4.71" fill="#f5a38c"/>
<rect x="306.30" y="536.96" width="9.52" height="4.71" fill="#f28268"/>
<rect x="306.30" y="541.65" width="9.52" height="14.09" fill="#f8c5b5"/>
<rect x="306.30" y="555.71" width="9.52" height="2.36" fill="#f5a38c"/>
<rect x="306.30" y="558.06" width="9.52" height="2.36" fill="#cac3e5"/>
<rect x="315.80" y="337.70" width="9.52" height="2.36" fill="#a79dd5"/>
<rect x="315.80" y="340.04" width="9.52" height="2.36" fill="#4f59b0"/>
<rect x="315.80" y="342.39" width="9.52" height="2.36" fill="#f5f2f6"/>
<rect x="315.80" y="344.73" width="9.52" height="2.36" fill="#a79dd5"/>
<rect x="315.80" y="347.08" width="9.52" height="2.36" fill="#f5f2f6"/>
<rect x="315.80" y="349.42" width="9.52" height="2.36" fill="#e1ddf0"/>
<rect x="315.80" y="351.77" width="9.52" height="2.36" fill="#f8c5b5"/>
<rect x="315.80" y="354.11" width="9.52" height="2.36" fill="#cac3e5"/>
<rect x="315.80" y="356.45" width="9.52" height="2.36" fill="#f28268"/>
<rect x="315.80" y="358.80" width="9.52" height="2.36" fill="#a79dd5"/>
<rect x="315.80" y="361.14" width="9.52" height="2.36" fill="#7e73c2"/>
<rect x="315.80" y="363.49" width="9.52" height="2.36" fill="#cac3e5"/>
<rect x="315.80" y="365.83" width="9.52" height="2.36" fill="#f5a38c"/>
<rect x="315.80" y="368.17" width="9.52" height="2.36" fill="#f5f2f6"/>
<rect x="315.80" y="370.52" width="9.52" height="2.36" fill="#f8c5b5"/>
<rect x="315.80" y="372.86" width="9.52" height="7.05" fill="#a79dd5"/>
<rect x="315.80" y="379.90" width="9.52" height="2.36" fill="#cac3e5"/>
<rect x="315.80" y="382.24" width="9.52" height="2.36" fill="#f5f2f6"/>
<rect x="315.80" y="384.58" width="9.52" height="2.36" fill="#a79dd5"/>
<rect x="315.80" y="386.93" width="9.52" height="7.05" fill="#cac3e5"/>
<rect x="315.80" y="393.96" width="9.52" height="2.36" fill="#7e73c2"/>
<rect x="315.80" y="396.31" width="9.52" height="4.71" fill="#a79dd5"/>
<rect x="315.80" y="400.99" width="9.52" height="2.36" fill="#fadfd5"/>
<rect x="315.80" y="403.34" width="9.52" height="4.71" fill="#a79dd5"/>
<rect x="315.80" y="408.03" width="9.52" height="2.36" fill="#cac3e5"/>
<rect x="315.80" y="410.37" width="9.52" height="2.36" fill="#e1ddf0"/>
<rect x="315.80" y="412.71" width="9.52" height="2.36" fill="#ee5a43"/>
<rect x="315.80" y="415.06" width="9.52" height="2.36" fill="#fadfd5"/>
<rect x="315.80" y="417.40" width="9.52" height="2.36" fill="#a79dd5"/>
<rect x="315.80" y="419.75" width="9.52" height="2.36" fill="#e1ddf0"/>
<rect x="315.80" y="422.09" width="9.52" height="2.36" fill="#fadfd5"/>
<rect x="315.80" y="424.44" width="9.52" height="2.36" fill="#f5f2f6"/>
<rect x="315.80" y="426.78" width="9.52" height="2.36" fill="#e6312a"/>
<rect x="315.80" y="429.12" width="9.52" height="2.36" fill="#e1ddf0"/>
<rect x="315.80" y="431.47" width="9.52" height="4.71" fill="#f5f2f6"/>
<rect x="315.80" y="436.16" width="9.52" height="2.36" fill="#ee5a43"/>
<rect x="315.80" y="438.50" width="9.52" height="2.36" fill="#f5f2f6"/>
<rect x="315.80" y="440.85" width="9.52" height="2.36" fill="#ee5a43"/>
<rect x="315.80" y="443.19" width="9.52" height="7.05" fill="#f5a38c"/>
<rect x="315.80" y="450.22" width="9.52" height="2.36" fill="#e1ddf0"/>
<rect x="315.80" y="452.57" width="9.52" height="2.36" fill="#ee5a43"/>
<rect x="315.80" y="454.91" width="9.52" height="2.36" fill="#e6312a"/>
<rect x="315.80" y="457.25" width="9.52" height="2.36" fill="#ee5a43"/>
<rect x="315.80" y="459.60" width="9.52" height="2.36" fill="#e1ddf0"/>
<rect x="315.80" y="461.94" width="9.52" height="2.36" fill="#f5f2f6"/>
<rect x="315.80" y="464.29" width="9.52" height="2.36" fill="#e1ddf0"/>
<rect x="315.80" y="466.63" width="9.52" height="2.36" fill="#cac3e5"/>
<rect x="315.80" y="468.98" width="9.52" height="4.71" fill="#e1ddf0"/>
<rect x="315.80" y="473.66" width="9.52" height="2.36" fill="#cac3e5"/>
<rect x="315.80" y="476.01" width="9.52" height="2.36" fill="#f5f2f6"/>
<rect x="315.80" y="478.35" width="9.52" height="2.36" fill="#e6312a"/>
<rect x="315.80" y="480.70" width="9.52" height="2.36" fill="#f5f2f6"/>
<rect x="315.80" y="483.04" width="9.52" height="2.36" fill="#f5a38c"/>
<rect x="315.80" y="485.39" width="9.52" height="2.36" fill="#e6312a"/>
<rect x="315.80" y="487.73" width="9.52" height="2.36" fill="#f8c5b5"/>
<rect x="315.80" y="490.07" width="9.52" height="2.36" fill="#f5a38c"/>
<rect x="315.80" y="492.42" width="9.52" height="2.36" fill="#f8c5b5"/>
<rect x="315.80" y="494.76" width="9.52" height="2.36" fill="#e6312a"/>
<rect x="315.80" y="497.11" width="9.52" height="2.36" fill="#f28268"/>
<rect x="315.80" y="499.45" width="9.52" height="4.71" fill="#e6312a"/>
<rect x="315.80" y="504.14" width="9.52" height="7.05" fill="#f28268"/>
<rect x="315.80" y="511.17" width="9.52" height="2.36" fill="#f5a38c"/>
<rect x="315.80" y="513.52" width="9.52" height="2.36" fill="#ee5a43"/>
<rect x="315.80" y="515.86" width="9.52" height="4.71" fill="#e1ddf0"/>
<rect x="315.80" y="520.55" width="9.52" height="2.36" fill="#f28268"/>
<rect x="315.80" y="522.89" width="9.52" height="2.36" fill="#f8c5b5"/>
<rect x="315.80" y="525.24" width="9.52" height="2.36" fill="#ee5a43"/>
<rect x="315.80" y="527.58" width="9.52" height="2.36" fill="#f8c5b5"/>
<rect x="315.80" y="529.93" width="9.52" height="2.36" fill="#f5f2f6"/>
<rect x="315.80" y="532.27" width="9.52" height="2.36" fill="#f8c5b5"/>
<rect x="315.80" y="534.61" width="9.52" height="7.05" fill="#f5a38c"/>
<rect x="315.80" y="541.65" width="9.52" height="7.05" fill="#f28268"/>
<rect x="315.80" y="548.68" width="9.52" height="2.36" fill="#f5a38c"/>
<rect x="315.80" y="551.02" width="9.52" height="2.36" fill="#f8c5b5"/>
<rect x="315.80" y="553.37" width="9.52" height="4.71" fill="#f5a38c"/>
<rect x="315.80" y="558.06" width="9.52" height="2.36" fill="#ee5a43"/>
<rect x="325.30" y="337.70" width="9.52" height="2.36" fill="#fadfd5"/>
<rect x="325.30" y="340.04" width="9.52" height="2.36" fill="#f5a38c"/>
<rect x="325.30" y="342.39" width="9.52" height="2.36" fill="#e1ddf0"/>
<rect x="325.30" y="344.73" width="9.52" height="2.36" fill="#7e73c2"/>
<rect x="325.30" y="347.08" width="9.52" height="2.36" fill="#4f59b0"/>
<rect x="325.30" y="349.42" width="9.52" height="2.36" fill="#a79dd5"/>
<rect x="325.30" y="351.77" width="9.52" height="2.36" fill="#e1ddf0"/>
<rect x="325.30" y="354.11" width="9.52" height="2.36" fill="#f8c5b5"/>
<rect x="325.30" y="356.45" width="9.52" height="4.71" fill="#e1ddf0"/>
<rect x="325.30" y="361.14" width="9.52" height="4.71" fill="#a79dd5"/>
<rect x="325.30" y="365.83" width="9.52" height="7.05" fill="#e1ddf0"/>
<rect x="325.30" y="372.86" width="9.52" height="2.36" fill="#f5a38c"/>
<rect x="325.30" y="375.21" width="9.52" height="7.05" fill="#e1ddf0"/>
<rect x="325.30" y="382.24" width="9.52" height="2.36" fill="#f5f2f6"/>
<rect x="325.30" y="384.58" width="9.52" height="2.36" fill="#a79dd5"/>
<rect x="325.30" y="386.93" width="9.52" height="4.71" fill="#cac3e5"/>
<rect x="325.30" y="391.62" width="9.52" height="9.40" fill="#a79dd5"/>
<rect x="325.30" y="400.99" width="9.52" height="2.36" fill="#f5f2f6"/>
<rect x="325.30" y="403.34" width="9.52" height="4.71" fill="#a79dd5"/>
<rect x="325.30" y="408.03" width="9.52" height="2.36" fill="#cac3e5"/>
<rect x="325.30" y="410.37" width="9.52" height="2.36" fill="#7e73c2"/>
<rect x="325.30" y="412.71" width="9.52" height="2.36" fill="#cac3e5"/>
<rect x="325.30" y="415.06" width="9.52" height="2.36" fill="#f5a38c"/>
<rect x="325.30" y="417.40" width="9.52" height="2.36" fill="#e1ddf0"/>
<rect x="325.30" y="419.75" width="9.52" height="2.36" fill="#e6312a"/>
<rect x="325.30" y="422.09" width="9.52" height="2.36" fill="#e1ddf0"/>
<rect x="325.30" y="424.44" width="9.52" height="4.71" fill="#cac3e5"/>
<rect x="325.30" y="429.12" width="9.52" height="7.05" fill="#e1ddf0"/>
<rect x="325.30" y="436.16" width="9.52" height="2.36" fill="#cac3e5"/>
<rect x="325.30" y="438.50" width="9.52" height="2.36" fill="#f5a38c"/>
<rect x="325.30" y="440.85" width="9.52" height="2.36" fill="#f5f2f6"/>
<rect x="325.30" y="443.19" width="9.52" height="2.36" fill="#cac3e5"/>
<rect x="325.30" y="445.53" width="9.52" height="2.36" fill="#f8c5b5"/>
<rect x="325.30" y="447.88" width="9.52" height="7.05" fill="#e1ddf0"/>
<rect x="325.30" y="454.91" width="9.52" height="2.36" fill="#cac3e5"/>
<rect x="325.30" y="457.25" width="9.52" height="2.36" fill="#e1ddf0"/>
<rect x="325.30" y="459.60" width="9.52" height="2.36" fill="#f5a38c"/>
<rect x="325.30" y="461.94" width="9.52" height="2.36" fill="#cac3e5"/>
<rect x="325.30" y="464.29" width="9.52" height="2.36" fill="#f5a38c"/>
<rect x="325.30" y="466.63" width="9.52" height="4.71" fill="#cac3e5"/>
<rect x="325.30" y="471.32" width="9.52" height="4.71" fill="#f5a38c"/>
<rect x="325.30" y="476.01" width="9.52" height="2.36" fill="#e1ddf0"/>
<rect x="325.30" y="478.35" width="9.52" height="2.36" fill="#f5f2f6"/>
<rect x="325.30" y="480.70" width="9.52" height="2.36" fill="#f28268"/>
<rect x="325.30" y="483.04" width="9.52" height="2.36" fill="#e1ddf0"/>
<rect x="325.30" y="485.39" width="9.52" height="2.36" fill="#f28268"/>
<rect x="325.30" y="487.73" width="9.52" height="2.36" fill="#f5a38c"/>
<rect x="325.30" y="490.07" width="9.52" height="4.71" fill="#e1ddf0"/>
<rect x="325.30" y="494.76" width="9.52" height="2.36" fill="#f28268"/>
<rect x="325.30" y="497.11" width="9.52" height="4.71" fill="#ee5a43"/>
<rect x="325.30" y="501.79" width="9.52" height="2.36" fill="#e6312a"/>
<rect x="325.30" y="504.14" width="9.52" height="2.36" fill="#ee5a43"/>
<rect x="325.30" y="506.48" width="9.52" height="4.71" fill="#e6312a"/>
<rect x="325.30" y="511.17" width="9.52" height="2.36" fill="#f5a38c"/>
<rect x="325.30" y="513.52" width="9.52" height="2.36" fill="#cac3e5"/>
<rect x="325.30" y="515.86" width="9.52" height="4.71" fill="#e1ddf0"/>
<rect x="325.30" y="520.55" width="9.52" height="2.36" fill="#f8c5b5"/>
<rect x="325.30" y="522.89" width="9.52" height="2.36" fill="#f28268"/>
<rect x="325.30" y="525.24" width="9.52" height="2.36" fill="#f5a38c"/>
<rect x="325.30" y="527.58" width="9.52" height="2.36" fill="#e6312a"/>
<rect x="325.30" y="529.93" width="9.52" height="2.36" fill="#e1ddf0"/>
<rect x="325.30" y="532.27" width="9.52" height="2.36" fill="#f5a38c"/>
<rect x="325.30" y="534.61" width="9.52" height="2.36" fill="#f28268"/>
<rect x="325.30" y="536.96" width="9.52" height="2.36" fill="#f5a38c"/>
<rect x="325.30" y="539.30" width="9.52" height="2.36" fill="#e1ddf0"/>
<rect x="325.30" y="541.65" width="9.52" height="2.36" fill="#f28268"/>
<rect x="325.30" y="543.99" width="9.52" height="2.36" fill="#f5a38c"/>
<rect x="325.30" y="546.33" width="9.52" height="2.36" fill="#e1ddf0"/>
<rect x="325.30" y="548.68" width="9.52" height="2.36" fill="#f5a38c"/>
<rect x="325.30" y="551.02" width="9.52" height="2.36" fill="#f28268"/>
<rect x="325.30" y="553.37" width="9.52" height="2.36" fill="#ee5a43"/>
<rect x="325.30" y="555.71" width="9.52" height="2.36" fill="#f5a38c"/>
<rect x="325.30" y="558.06" width="9.52" height="2.36" fill="#cac3e5"/>
<path d="M16.50 338.87H7.57V341.22H16.50M16.50 343.56H7.23V345.90H16.50M7.57 340.04H6.80V344.73H7.23M16.50 348.25H7.21V350.59H16.50M16.50 352.94H8.15V355.28H16.50M7.21 349.42H5.72V354.11H8.15M6.80 342.39H4.55V351.77H5.72M16.50 357.63H8.18V359.97H16.50M16.50 362.31H8.12V364.66H16.50M8.18 358.80H6.68V363.49H8.12M16.50 367.00H7.63V369.35H16.50M16.50 371.69H7.17V374.04H16.50M7.63 368.17H6.28V372.86H7.17M6.68 361.14H4.95V370.52H6.28M4.55 347.08H3.99V365.83H4.95M16.50 376.38H6.98V378.72H16.50M16.50 381.07H7.33V383.41H16.50M7.33 382.24H7.05V385.76H16.50M6.98 377.55H6.24V384.00H7.05M16.50 390.44H7.26V392.79H16.50M16.50 388.10H6.94V391.62H7.26M6.24 380.77H4.69V389.86H6.94M3.99 356.45H3.49V385.32H4.69M16.50 397.48H7.62V399.82H16.50M16.50 395.13H6.23V398.65H7.62M16.50 404.51H7.25V406.85H16.50M16.50 402.17H7.06V405.68H7.25M16.50 413.89H7.27V416.23H16.50M16.50 411.54H7.09V415.06H7.27M16.50 409.20H6.61V413.30H7.09M7.06 403.92H5.83V411.25H6.61M6.23 396.89H5.28V407.59H5.83M16.50 420.92H7.65V423.26H16.50M16.50 418.58H7.20V422.09H7.65M16.50 425.61H8.04V427.95H16.50M7.20 420.33H5.74V426.78H8.04M5.28 402.24H4.56V423.56H5.74M16.50 432.64H7.01V434.98H16.50M16.50 430.30H6.45V433.81H7.01M16.50 437.33H7.94V439.67H16.50M16.50 442.02H7.15V444.36H16.50M7.94 438.50H6.13V443.19H7.15M6.45 432.05H5.83V440.85H6.13M4.56 412.90H2.89V436.45H5.83M3.49 370.89H2.70V424.67H2.89M16.50 446.71H8.09V449.05H16.50M16.50 451.39H7.46V453.74H16.50M7.46 452.57H6.98V456.08H16.50M8.09 447.88H5.97V454.32H6.98M16.50 458.43H7.14V460.77H16.50M16.50 465.46H7.09V467.80H16.50M16.50 463.12H6.43V466.63H7.09M7.14 459.60H6.22V464.87H6.43M16.50 470.15H7.29V472.49H16.50M6.22 462.24H4.80V471.32H7.29M5.97 451.10H4.62V466.78H4.80M16.50 474.84H8.07V477.18H16.50M8.07 476.01H7.38V479.52H16.50M16.50 481.87H7.91V484.21H16.50M7.38 477.77H5.66V483.04H7.91M16.50 488.90H7.47V491.25H16.50M16.50 486.56H7.07V490.07H7.47M5.66 480.40H5.48V488.32H7.07M4.62 458.94H3.37V484.36H5.48M16.50 493.59H7.45V495.93H16.50M16.50 498.28H7.08V500.62H16.50M7.45 494.76H6.66V499.45H7.08M16.50 502.97H7.65V505.31H16.50M16.50 510.00H7.75V512.34H16.50M16.50 507.66H6.73V511.17H7.75M7.65 504.14H6.36V509.41H6.73M6.66 497.11H5.09V506.78H6.36M16.50 514.69H8.15V517.03H16.50M8.15 515.86H7.41V519.38H16.50M16.50 521.72H7.34V524.06H16.50M7.41 517.62H5.35V522.89H7.34M16.50 528.75H7.31V531.10H16.50M7.31 529.93H7.04V533.44H16.50M16.50 526.41H5.69V531.68H7.04M5.35 520.26H5.17V529.05H5.69M16.50 535.79H7.10V538.13H16.50M16.50 540.47H7.34V542.82H16.50M7.10 536.96H5.95V541.65H7.34M5.17 524.65H3.82V539.30H5.95M16.50 545.16H7.13V547.51H16.50M7.13 546.33H6.92V549.85H16.50M16.50 552.20H7.50V554.54H16.50M16.50 556.88H7.73V559.23H16.50M7.50 553.37H6.20V558.06H7.73M6.92 548.09H5.21V555.71H6.20M3.82 531.98H3.63V551.90H5.21M5.09 501.94H2.89V541.94H3.63M3.37 471.65H1.65V521.94H2.89M2.70 397.78H0.80V496.79H1.65" fill="none" stroke="#1a1a1a" stroke-width="0.55"/>
<text x="339.20" y="363.60" font-size="8.6" text-anchor="start" fill="#1e1e1e" stroke="#1e1e1e" stroke-width="0.22">Sensitivity</text>
<rect x="345.70" y="367.20" width="5.20" height="5.00" fill="#7d43a0"/>
<text x="352.80" y="371.70" font-size="6.1" text-anchor="start" fill="#1e1e1e" stroke="#1e1e1e" stroke-width="0.12">Intensitive</text>
<rect x="345.70" y="373.45" width="5.20" height="5.00" fill="#bdbdbd"/>
<text x="352.80" y="377.95" font-size="6.1" text-anchor="start" fill="#1e1e1e" stroke="#1e1e1e" stroke-width="0.12">Intermediate</text>
<rect x="345.70" y="379.70" width="5.20" height="5.00" fill="#f5a21e"/>
<text x="352.80" y="384.20" font-size="6.1" text-anchor="start" fill="#1e1e1e" stroke="#1e1e1e" stroke-width="0.12">Sensitive</text>
<text x="339.20" y="395.20" font-size="8.6" text-anchor="start" fill="#1e1e1e" stroke="#1e1e1e" stroke-width="0.22">Subtype</text>
<rect x="345.70" y="398.80" width="5.20" height="4.80" fill="#f0623f"/>
<text x="352.80" y="403.20" font-size="6.1" text-anchor="start" fill="#1e1e1e" stroke="#1e1e1e" stroke-width="0.12">CMS1</text>
<rect x="345.70" y="404.80" width="5.20" height="4.80" fill="#2fbfc1"/>
<text x="352.80" y="409.20" font-size="6.1" text-anchor="start" fill="#1e1e1e" stroke="#1e1e1e" stroke-width="0.12">CMS2</text>
<rect x="345.70" y="410.80" width="5.20" height="4.80" fill="#a52424"/>
<text x="352.80" y="415.20" font-size="6.1" text-anchor="start" fill="#1e1e1e" stroke="#1e1e1e" stroke-width="0.12">CMS3</text>
<rect x="345.70" y="416.80" width="5.20" height="4.80" fill="#0d6539"/>
<text x="352.80" y="421.20" font-size="6.1" text-anchor="start" fill="#1e1e1e" stroke="#1e1e1e" stroke-width="0.12">CMS4</text>
<text x="339.20" y="432.60" font-size="8.6" text-anchor="start" fill="#1e1e1e" stroke="#1e1e1e" stroke-width="0.22">Status</text>
<rect x="345.70" y="435.90" width="5.20" height="4.80" fill="#c9dc5c"/>
<text x="352.80" y="440.30" font-size="6.1" text-anchor="start" fill="#1e1e1e" stroke="#1e1e1e" stroke-width="0.12">MSI</text>
<rect x="345.70" y="441.80" width="5.20" height="4.80" fill="#d71b7b"/>
<text x="352.80" y="446.20" font-size="6.1" text-anchor="start" fill="#1e1e1e" stroke="#1e1e1e" stroke-width="0.12">MSS</text>
<text x="339.20" y="458.20" font-size="8.6" text-anchor="start" fill="#1e1e1e" stroke="#1e1e1e" stroke-width="0.22">Chr20q11</text>
<defs><linearGradient id="gchr" x1="0" y1="0" x2="0" y2="1"><stop offset="0" stop-color="#3fa8dd"/><stop offset="0.45" stop-color="#9fd0ef"/><stop offset="1" stop-color="#ffffff"/></linearGradient><linearGradient id="gz" x1="0" y1="0" x2="0" y2="1"><stop offset="0" stop-color="#e41e26"/><stop offset="0.16" stop-color="#e8282a"/><stop offset="0.28" stop-color="#f0654a"/><stop offset="0.40" stop-color="#f6b09c"/><stop offset="0.49" stop-color="#f6f2f6"/><stop offset="0.58" stop-color="#c3b9e0"/><stop offset="0.66" stop-color="#8a7cc4"/><stop offset="0.74" stop-color="#4a55ae"/><stop offset="1" stop-color="#3a4ea8"/></linearGradient></defs>
<rect x="345.20" y="460.10" width="6.60" height="24.00" fill="url(#gchr)"/>
<line x1="345.20" y1="463.30" x2="346.60" y2="463.30" stroke="#fff" stroke-width="0.6"/>
<line x1="350.40" y1="463.30" x2="351.80" y2="463.30" stroke="#fff" stroke-width="0.6"/>
<line x1="345.20" y1="472.50" x2="346.60" y2="472.50" stroke="#fff" stroke-width="0.6"/>
<line x1="350.40" y1="472.50" x2="351.80" y2="472.50" stroke="#fff" stroke-width="0.6"/>
<text x="353.40" y="465.60" font-size="6.5" text-anchor="start" fill="#1e1e1e" stroke="#1e1e1e" stroke-width="0.14">1</text>
<text x="353.40" y="474.80" font-size="6.5" text-anchor="start" fill="#1e1e1e" stroke="#1e1e1e" stroke-width="0.14">0.5</text>
<text x="353.40" y="484.30" font-size="6.5" text-anchor="start" fill="#1e1e1e" stroke="#1e1e1e" stroke-width="0.14">1</text>
<text x="352.90" y="494.10" font-size="6.5" text-anchor="start" fill="#1e1e1e" stroke="#1e1e1e" stroke-width="0.14">&#8722;0.5</text>
<text x="339.00" y="505.40" font-size="8.6" text-anchor="start" fill="#1e1e1e" stroke="#1e1e1e" stroke-width="0.22">z expr</text>
<rect x="345.20" y="509.10" width="6.80" height="33.20" fill="url(#gz)"/>
<line x1="345.20" y1="511.20" x2="346.60" y2="511.20" stroke="#fff" stroke-width="0.6"/>
<line x1="350.60" y1="511.20" x2="352.00" y2="511.20" stroke="#fff" stroke-width="0.6"/>
<line x1="345.20" y1="518.10" x2="346.60" y2="518.10" stroke="#fff" stroke-width="0.6"/>
<line x1="350.60" y1="518.10" x2="352.00" y2="518.10" stroke="#fff" stroke-width="0.6"/>
<line x1="345.20" y1="533.30" x2="346.60" y2="533.30" stroke="#fff" stroke-width="0.6"/>
<line x1="350.60" y1="533.30" x2="352.00" y2="533.30" stroke="#fff" stroke-width="0.6"/>
<line x1="345.20" y1="540.60" x2="346.60" y2="540.60" stroke="#fff" stroke-width="0.6"/>
<line x1="350.60" y1="540.60" x2="352.00" y2="540.60" stroke="#fff" stroke-width="0.6"/>
<text x="354.20" y="513.50" font-size="6.5" text-anchor="start" fill="#1e1e1e" stroke="#1e1e1e" stroke-width="0.14">4</text>
<text x="354.20" y="520.40" font-size="6.5" text-anchor="start" fill="#1e1e1e" stroke="#1e1e1e" stroke-width="0.14">2</text>
<text x="354.20" y="527.80" font-size="6.5" text-anchor="start" fill="#1e1e1e" stroke="#1e1e1e" stroke-width="0.14">0</text>
<text x="353.20" y="535.60" font-size="6.5" text-anchor="start" fill="#1e1e1e" stroke="#1e1e1e" stroke-width="0.14">&#8722;2</text>
<text x="353.20" y="542.90" font-size="6.5" text-anchor="start" fill="#1e1e1e" stroke="#1e1e1e" stroke-width="0.14">&#8722;4</text>
<path d="M345.5 560h6.4M348.7 556.8v6.4" stroke="#34a853" stroke-width="1.3" fill="none"/>
<text x="354.80" y="563.30" font-size="9.1" text-anchor="start" fill="#1e1e1e" stroke="#1e1e1e" stroke-width="0.22">TP53 (WT)</text>
</svg>
</body></html>
